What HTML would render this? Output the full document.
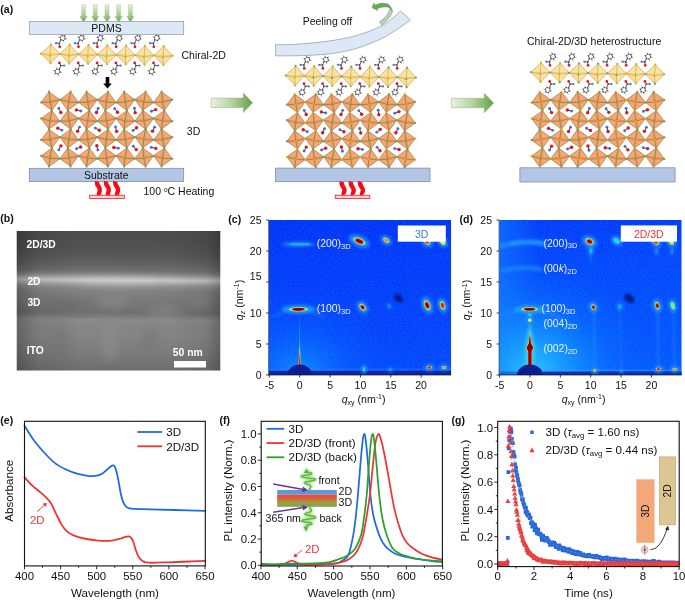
<!DOCTYPE html>
<html lang="en"><head><meta charset="utf-8"><title>Chiral-2D/3D heterostructure figure</title>
<style>
html,body{margin:0;padding:0;background:#fff;}
svg{display:block;font-family:"Liberation Sans",sans-serif;}
</style></head><body>
<svg width="685" height="600" viewBox="0 0 685 600">
<defs>
<linearGradient id="gDown" x1="0" y1="0" x2="0" y2="1">
<stop offset="0" stop-color="#e4efda"/><stop offset="0.55" stop-color="#a9cf8d"/><stop offset="1" stop-color="#6aa84a"/></linearGradient>
<linearGradient id="gRight" x1="0" y1="0" x2="1" y2="0">
<stop offset="0" stop-color="#e9f1e2"/><stop offset="0.5" stop-color="#b4d39d"/><stop offset="1" stop-color="#62a044"/></linearGradient>
<linearGradient id="gCurve" x1="0" y1="1" x2="0" y2="0">
<stop offset="0" stop-color="#d9e6cf"/><stop offset="1" stop-color="#6ba54b"/></linearGradient>
<linearGradient id="semV" x1="0" y1="0" x2="0" y2="1"><stop offset="0.0000" stop-color="#4b4b4b"/><stop offset="0.0651" stop-color="#4e4e4e"/><stop offset="0.1367" stop-color="#525252"/><stop offset="0.1940" stop-color="#585858"/><stop offset="0.2513" stop-color="#636363"/><stop offset="0.2942" stop-color="#707070"/><stop offset="0.3193" stop-color="#888888"/><stop offset="0.3407" stop-color="#acacac"/><stop offset="0.3601" stop-color="#c6c6c6"/><stop offset="0.3801" stop-color="#aaaaaa"/><stop offset="0.4016" stop-color="#909090"/><stop offset="0.4302" stop-color="#828282"/><stop offset="0.4803" stop-color="#7b7b7b"/><stop offset="0.5376" stop-color="#767676"/><stop offset="0.5805" stop-color="#707070"/><stop offset="0.6092" stop-color="#7c7c7c"/><stop offset="0.6306" stop-color="#8a8a8a"/><stop offset="0.6664" stop-color="#878787"/><stop offset="0.7452" stop-color="#848484"/><stop offset="0.8525" stop-color="#7c7c7c"/><stop offset="0.9384" stop-color="#727272"/><stop offset="1.0000" stop-color="#6a6a6a"/></linearGradient><linearGradient id="semH" x1="0" y1="0" x2="1" y2="0">
<stop offset="0" stop-color="#000" stop-opacity="0.26"/><stop offset="0.10" stop-color="#000" stop-opacity="0.08"/>
<stop offset="0.3" stop-color="#000" stop-opacity="0"/><stop offset="0.75" stop-color="#000" stop-opacity="0"/>
<stop offset="0.93" stop-color="#000" stop-opacity="0.08"/><stop offset="1" stop-color="#000" stop-opacity="0.24"/></linearGradient>
<filter id="blur2" x="-20%" y="-20%" width="140%" height="140%"><feGaussianBlur stdDeviation="2.2"/></filter>
<filter id="blur4" x="-30%" y="-30%" width="160%" height="160%"><feGaussianBlur stdDeviation="4"/></filter>
<clipPath id="semClip"><rect x="16.7" y="230.9" width="203.6" height="139.7"/></clipPath>
<filter id="pk" x="-50%" y="-50%" width="200%" height="200%"><feGaussianBlur stdDeviation="0.75"/></filter>
<filter id="pkS" x="-50%" y="-50%" width="200%" height="200%"><feGaussianBlur stdDeviation="1.6"/></filter>
<filter id="pkL" x="-50%" y="-50%" width="200%" height="200%"><feGaussianBlur stdDeviation="5"/></filter>
<filter id="grain" x="0" y="0" width="100%" height="100%"><feTurbulence type="fractalNoise" baseFrequency="0.7" numOctaves="2" seed="3" result="n"/>
<feColorMatrix type="matrix" values="0 0 0 0 0.05  0 0 0 0 0.5  0 0 0 0 1  1.2 0 0 0 -0.42"/></filter>
<linearGradient id="bgC" x1="0" y1="0" x2="0" y2="1"><stop offset="0" stop-color="#0230f8"/><stop offset="0.25" stop-color="#0338fb"/><stop offset="0.8" stop-color="#0442fd"/><stop offset="1" stop-color="#0448fe"/></linearGradient>
<linearGradient id="bgD" x1="0" y1="0" x2="0" y2="1"><stop offset="0" stop-color="#033afa"/><stop offset="0.3" stop-color="#0446fd"/><stop offset="0.8" stop-color="#0552fe"/><stop offset="1" stop-color="#0558ff"/></linearGradient>
<radialGradient id="haloC" cx="0.5" cy="0.5" r="0.5"><stop offset="0" stop-color="#1290ff" stop-opacity="1"/><stop offset="0.25" stop-color="#0a72ff" stop-opacity="0.85"/><stop offset="0.6" stop-color="#065aff" stop-opacity="0.5"/><stop offset="1" stop-color="#0550ff" stop-opacity="0"/></radialGradient>
<radialGradient id="haloD" cx="0.5" cy="0.5" r="0.5"><stop offset="0" stop-color="#36ccfc" stop-opacity="1"/><stop offset="0.16" stop-color="#20b0fe" stop-opacity="1"/><stop offset="0.38" stop-color="#1090ff" stop-opacity="0.9"/><stop offset="0.65" stop-color="#0870ff" stop-opacity="0.55"/><stop offset="1" stop-color="#0558ff" stop-opacity="0"/></radialGradient>
<linearGradient id="edgeD" x1="0" y1="0" x2="1" y2="0"><stop offset="0" stop-color="#1488ff" stop-opacity="0.5"/><stop offset="1" stop-color="#1488ff" stop-opacity="0"/></linearGradient>
<clipPath id="clipC"><rect x="268.7" y="220" width="182.5" height="155"/></clipPath>
<clipPath id="clipD"><rect x="499.2" y="220" width="182.5" height="155"/></clipPath>
<clipPath id="clipF"><rect x="260.8" y="421.4" width="181.6" height="144.6"/></clipPath>
<linearGradient id="dev" x1="0" y1="0" x2="0" y2="1"><stop offset="0" stop-color="#f0463c"/>
<stop offset="0.25" stop-color="#e2553c"/><stop offset="0.6" stop-color="#a8963f"/><stop offset="1" stop-color="#6fb048"/></linearGradient>
<filter id="glow" x="-60%" y="-60%" width="220%" height="220%"><feGaussianBlur stdDeviation="1.3"/></filter>
<clipPath id="clipG"><rect x="497.7" y="421.4" width="181.5" height="145.4"/></clipPath>
</defs>
<rect x="0" y="0" width="685" height="600" fill="#fff"/>
<text x="0.3" y="13.2" font-size="10.5" fill="#111" text-anchor="start" font-weight="bold" font-style="normal" >(a)</text>
<polygon points="81.6,4.7 85.6,4.7 85.6,16.2 87.3,16.2 83.6,22.6 79.9,16.2 81.6,16.2" fill="url(#gDown)" stroke="#9dbb8a" stroke-width="0.35" stroke-linejoin="round" />
<polygon points="93.3,4.7 97.3,4.7 97.3,16.2 99,16.2 95.3,22.6 91.6,16.2 93.3,16.2" fill="url(#gDown)" stroke="#9dbb8a" stroke-width="0.35" stroke-linejoin="round" />
<polygon points="105,4.7 109,4.7 109,16.2 110.7,16.2 107,22.6 103.3,16.2 105,16.2" fill="url(#gDown)" stroke="#9dbb8a" stroke-width="0.35" stroke-linejoin="round" />
<polygon points="116.7,4.7 120.7,4.7 120.7,16.2 122.4,16.2 118.7,22.6 115,16.2 116.7,16.2" fill="url(#gDown)" stroke="#9dbb8a" stroke-width="0.35" stroke-linejoin="round" />
<polygon points="128.4,4.7 132.4,4.7 132.4,16.2 134.1,16.2 130.4,22.6 126.7,16.2 128.4,16.2" fill="url(#gDown)" stroke="#9dbb8a" stroke-width="0.35" stroke-linejoin="round" />
<rect x="29.3" y="21.5" width="154.4" height="13" fill="#dce8f4" stroke="#8796ab" stroke-width="0.7" />
<text x="106.5" y="32.2" font-size="10.5" fill="#111" text-anchor="middle" font-weight="normal" font-style="normal" >PDMS</text>
<polygon points="65.23,38.67 63.39,40.51 60.88,39.84 60.2,37.33 62.04,35.49 64.55,36.16" fill="none" stroke="#5a5a5a" stroke-width="0.6" stroke-linejoin="round" />
<circle cx="65.23" cy="38.67" r="0.8" fill="#505050" />
<circle cx="66.63" cy="39.05" r="0.55" fill="#b0b0b0" />
<circle cx="63.39" cy="40.51" r="0.8" fill="#505050" />
<circle cx="63.76" cy="41.91" r="0.55" fill="#b0b0b0" />
<circle cx="60.88" cy="39.84" r="0.8" fill="#505050" />
<circle cx="59.85" cy="40.86" r="0.55" fill="#b0b0b0" />
<circle cx="60.2" cy="37.33" r="0.8" fill="#505050" />
<circle cx="58.8" cy="36.95" r="0.55" fill="#b0b0b0" />
<circle cx="62.04" cy="35.49" r="0.8" fill="#505050" />
<circle cx="61.67" cy="34.09" r="0.55" fill="#b0b0b0" />
<circle cx="64.55" cy="36.16" r="0.8" fill="#505050" />
<circle cx="65.58" cy="35.14" r="0.55" fill="#b0b0b0" />
<line x1="60.91" y1="40.3" x2="59.31" y2="43.4" stroke="#333" stroke-width="0.75" />
<line x1="59.31" y1="43.4" x2="59.71" y2="46.8" stroke="#333" stroke-width="0.75" />
<line x1="59.31" y1="43.4" x2="56.11" y2="43.2" stroke="#333" stroke-width="0.75" />
<circle cx="59.31" cy="43.4" r="0.85" fill="#444" />
<circle cx="59.71" cy="46.8" r="1.35" fill="#ee0f18" />
<circle cx="56.11" cy="43.2" r="1.15" fill="#4577d6" />
<polygon points="60.03,72.17 58.19,74.01 55.68,73.34 55,70.83 56.84,68.99 59.35,69.66" fill="none" stroke="#5a5a5a" stroke-width="0.6" stroke-linejoin="round" />
<circle cx="60.03" cy="72.17" r="0.8" fill="#505050" />
<circle cx="61.43" cy="72.55" r="0.55" fill="#b0b0b0" />
<circle cx="58.19" cy="74.01" r="0.8" fill="#505050" />
<circle cx="58.56" cy="75.41" r="0.55" fill="#b0b0b0" />
<circle cx="55.68" cy="73.34" r="0.8" fill="#505050" />
<circle cx="54.65" cy="74.36" r="0.55" fill="#b0b0b0" />
<circle cx="55" cy="70.83" r="0.8" fill="#505050" />
<circle cx="53.6" cy="70.45" r="0.55" fill="#b0b0b0" />
<circle cx="56.84" cy="68.99" r="0.8" fill="#505050" />
<circle cx="56.47" cy="67.59" r="0.55" fill="#b0b0b0" />
<circle cx="59.35" cy="69.66" r="0.8" fill="#505050" />
<circle cx="60.38" cy="68.64" r="0.55" fill="#b0b0b0" />
<line x1="59.11" y1="69.2" x2="60.81" y2="65.5" stroke="#333" stroke-width="0.75" />
<line x1="60.81" y1="65.5" x2="59.41" y2="62.9" stroke="#333" stroke-width="0.75" />
<line x1="60.81" y1="65.5" x2="64.11" y2="65.6" stroke="#333" stroke-width="0.75" />
<circle cx="60.81" cy="65.5" r="0.85" fill="#444" />
<circle cx="59.41" cy="62.9" r="1.35" fill="#ee0f18" />
<circle cx="64.11" cy="65.6" r="1.15" fill="#4577d6" />
<polygon points="84.04,38.67 82.2,40.51 79.69,39.84 79.02,37.33 80.86,35.49 83.37,36.16" fill="none" stroke="#5a5a5a" stroke-width="0.6" stroke-linejoin="round" />
<circle cx="84.04" cy="38.67" r="0.8" fill="#505050" />
<circle cx="85.44" cy="39.05" r="0.55" fill="#b0b0b0" />
<circle cx="82.2" cy="40.51" r="0.8" fill="#505050" />
<circle cx="82.58" cy="41.91" r="0.55" fill="#b0b0b0" />
<circle cx="79.69" cy="39.84" r="0.8" fill="#505050" />
<circle cx="78.66" cy="40.86" r="0.55" fill="#b0b0b0" />
<circle cx="79.02" cy="37.33" r="0.8" fill="#505050" />
<circle cx="77.62" cy="36.95" r="0.55" fill="#b0b0b0" />
<circle cx="80.86" cy="35.49" r="0.8" fill="#505050" />
<circle cx="80.48" cy="34.09" r="0.55" fill="#b0b0b0" />
<circle cx="83.37" cy="36.16" r="0.8" fill="#505050" />
<circle cx="84.39" cy="35.14" r="0.55" fill="#b0b0b0" />
<line x1="79.73" y1="40.3" x2="78.13" y2="43.4" stroke="#333" stroke-width="0.75" />
<line x1="78.13" y1="43.4" x2="78.53" y2="46.8" stroke="#333" stroke-width="0.75" />
<line x1="78.13" y1="43.4" x2="74.93" y2="43.2" stroke="#333" stroke-width="0.75" />
<circle cx="78.13" cy="43.4" r="0.85" fill="#444" />
<circle cx="78.53" cy="46.8" r="1.35" fill="#ee0f18" />
<circle cx="74.93" cy="43.2" r="1.15" fill="#4577d6" />
<polygon points="78.84,72.17 77,74.01 74.49,73.34 73.82,70.83 75.66,68.99 78.17,69.66" fill="none" stroke="#5a5a5a" stroke-width="0.6" stroke-linejoin="round" />
<circle cx="78.84" cy="72.17" r="0.8" fill="#505050" />
<circle cx="80.24" cy="72.55" r="0.55" fill="#b0b0b0" />
<circle cx="77" cy="74.01" r="0.8" fill="#505050" />
<circle cx="77.38" cy="75.41" r="0.55" fill="#b0b0b0" />
<circle cx="74.49" cy="73.34" r="0.8" fill="#505050" />
<circle cx="73.46" cy="74.36" r="0.55" fill="#b0b0b0" />
<circle cx="73.82" cy="70.83" r="0.8" fill="#505050" />
<circle cx="72.42" cy="70.45" r="0.55" fill="#b0b0b0" />
<circle cx="75.66" cy="68.99" r="0.8" fill="#505050" />
<circle cx="75.28" cy="67.59" r="0.55" fill="#b0b0b0" />
<circle cx="78.17" cy="69.66" r="0.8" fill="#505050" />
<circle cx="79.19" cy="68.64" r="0.55" fill="#b0b0b0" />
<line x1="77.93" y1="69.2" x2="79.63" y2="65.5" stroke="#333" stroke-width="0.75" />
<line x1="79.63" y1="65.5" x2="78.23" y2="62.9" stroke="#333" stroke-width="0.75" />
<line x1="79.63" y1="65.5" x2="82.93" y2="65.6" stroke="#333" stroke-width="0.75" />
<circle cx="79.63" cy="65.5" r="0.85" fill="#444" />
<circle cx="78.23" cy="62.9" r="1.35" fill="#ee0f18" />
<circle cx="82.93" cy="65.6" r="1.15" fill="#4577d6" />
<polygon points="102.85,38.67 101.02,40.51 98.5,39.84 97.83,37.33 99.67,35.49 102.18,36.16" fill="none" stroke="#5a5a5a" stroke-width="0.6" stroke-linejoin="round" />
<circle cx="102.85" cy="38.67" r="0.8" fill="#505050" />
<circle cx="104.25" cy="39.05" r="0.55" fill="#b0b0b0" />
<circle cx="101.02" cy="40.51" r="0.8" fill="#505050" />
<circle cx="101.39" cy="41.91" r="0.55" fill="#b0b0b0" />
<circle cx="98.5" cy="39.84" r="0.8" fill="#505050" />
<circle cx="97.48" cy="40.86" r="0.55" fill="#b0b0b0" />
<circle cx="97.83" cy="37.33" r="0.8" fill="#505050" />
<circle cx="96.43" cy="36.95" r="0.55" fill="#b0b0b0" />
<circle cx="99.67" cy="35.49" r="0.8" fill="#505050" />
<circle cx="99.29" cy="34.09" r="0.55" fill="#b0b0b0" />
<circle cx="102.18" cy="36.16" r="0.8" fill="#505050" />
<circle cx="103.21" cy="35.14" r="0.55" fill="#b0b0b0" />
<line x1="98.54" y1="40.3" x2="96.94" y2="43.4" stroke="#333" stroke-width="0.75" />
<line x1="96.94" y1="43.4" x2="97.34" y2="46.8" stroke="#333" stroke-width="0.75" />
<line x1="96.94" y1="43.4" x2="93.74" y2="43.2" stroke="#333" stroke-width="0.75" />
<circle cx="96.94" cy="43.4" r="0.85" fill="#444" />
<circle cx="97.34" cy="46.8" r="1.35" fill="#ee0f18" />
<circle cx="93.74" cy="43.2" r="1.15" fill="#4577d6" />
<polygon points="97.65,72.17 95.82,74.01 93.3,73.34 92.63,70.83 94.47,68.99 96.98,69.66" fill="none" stroke="#5a5a5a" stroke-width="0.6" stroke-linejoin="round" />
<circle cx="97.65" cy="72.17" r="0.8" fill="#505050" />
<circle cx="99.05" cy="72.55" r="0.55" fill="#b0b0b0" />
<circle cx="95.82" cy="74.01" r="0.8" fill="#505050" />
<circle cx="96.19" cy="75.41" r="0.55" fill="#b0b0b0" />
<circle cx="93.3" cy="73.34" r="0.8" fill="#505050" />
<circle cx="92.28" cy="74.36" r="0.55" fill="#b0b0b0" />
<circle cx="92.63" cy="70.83" r="0.8" fill="#505050" />
<circle cx="91.23" cy="70.45" r="0.55" fill="#b0b0b0" />
<circle cx="94.47" cy="68.99" r="0.8" fill="#505050" />
<circle cx="94.09" cy="67.59" r="0.55" fill="#b0b0b0" />
<circle cx="96.98" cy="69.66" r="0.8" fill="#505050" />
<circle cx="98.01" cy="68.64" r="0.55" fill="#b0b0b0" />
<line x1="96.74" y1="69.2" x2="98.44" y2="65.5" stroke="#333" stroke-width="0.75" />
<line x1="98.44" y1="65.5" x2="97.04" y2="62.9" stroke="#333" stroke-width="0.75" />
<line x1="98.44" y1="65.5" x2="101.74" y2="65.6" stroke="#333" stroke-width="0.75" />
<circle cx="98.44" cy="65.5" r="0.85" fill="#444" />
<circle cx="97.04" cy="62.9" r="1.35" fill="#ee0f18" />
<circle cx="101.74" cy="65.6" r="1.15" fill="#4577d6" />
<polygon points="121.67,38.67 119.83,40.51 117.32,39.84 116.65,37.33 118.48,35.49 121,36.16" fill="none" stroke="#5a5a5a" stroke-width="0.6" stroke-linejoin="round" />
<circle cx="121.67" cy="38.67" r="0.8" fill="#505050" />
<circle cx="123.07" cy="39.05" r="0.55" fill="#b0b0b0" />
<circle cx="119.83" cy="40.51" r="0.8" fill="#505050" />
<circle cx="120.21" cy="41.91" r="0.55" fill="#b0b0b0" />
<circle cx="117.32" cy="39.84" r="0.8" fill="#505050" />
<circle cx="116.29" cy="40.86" r="0.55" fill="#b0b0b0" />
<circle cx="116.65" cy="37.33" r="0.8" fill="#505050" />
<circle cx="115.25" cy="36.95" r="0.55" fill="#b0b0b0" />
<circle cx="118.48" cy="35.49" r="0.8" fill="#505050" />
<circle cx="118.11" cy="34.09" r="0.55" fill="#b0b0b0" />
<circle cx="121" cy="36.16" r="0.8" fill="#505050" />
<circle cx="122.02" cy="35.14" r="0.55" fill="#b0b0b0" />
<line x1="117.36" y1="40.3" x2="115.76" y2="43.4" stroke="#333" stroke-width="0.75" />
<line x1="115.76" y1="43.4" x2="116.16" y2="46.8" stroke="#333" stroke-width="0.75" />
<line x1="115.76" y1="43.4" x2="112.56" y2="43.2" stroke="#333" stroke-width="0.75" />
<circle cx="115.76" cy="43.4" r="0.85" fill="#444" />
<circle cx="116.16" cy="46.8" r="1.35" fill="#ee0f18" />
<circle cx="112.56" cy="43.2" r="1.15" fill="#4577d6" />
<polygon points="116.47,72.17 114.63,74.01 112.12,73.34 111.45,70.83 113.28,68.99 115.8,69.66" fill="none" stroke="#5a5a5a" stroke-width="0.6" stroke-linejoin="round" />
<circle cx="116.47" cy="72.17" r="0.8" fill="#505050" />
<circle cx="117.87" cy="72.55" r="0.55" fill="#b0b0b0" />
<circle cx="114.63" cy="74.01" r="0.8" fill="#505050" />
<circle cx="115.01" cy="75.41" r="0.55" fill="#b0b0b0" />
<circle cx="112.12" cy="73.34" r="0.8" fill="#505050" />
<circle cx="111.09" cy="74.36" r="0.55" fill="#b0b0b0" />
<circle cx="111.45" cy="70.83" r="0.8" fill="#505050" />
<circle cx="110.05" cy="70.45" r="0.55" fill="#b0b0b0" />
<circle cx="113.28" cy="68.99" r="0.8" fill="#505050" />
<circle cx="112.91" cy="67.59" r="0.55" fill="#b0b0b0" />
<circle cx="115.8" cy="69.66" r="0.8" fill="#505050" />
<circle cx="116.82" cy="68.64" r="0.55" fill="#b0b0b0" />
<line x1="115.56" y1="69.2" x2="117.26" y2="65.5" stroke="#333" stroke-width="0.75" />
<line x1="117.26" y1="65.5" x2="115.86" y2="62.9" stroke="#333" stroke-width="0.75" />
<line x1="117.26" y1="65.5" x2="120.56" y2="65.6" stroke="#333" stroke-width="0.75" />
<circle cx="117.26" cy="65.5" r="0.85" fill="#444" />
<circle cx="115.86" cy="62.9" r="1.35" fill="#ee0f18" />
<circle cx="120.56" cy="65.6" r="1.15" fill="#4577d6" />
<polygon points="140.48,38.67 138.64,40.51 136.13,39.84 135.46,37.33 137.3,35.49 139.81,36.16" fill="none" stroke="#5a5a5a" stroke-width="0.6" stroke-linejoin="round" />
<circle cx="140.48" cy="38.67" r="0.8" fill="#505050" />
<circle cx="141.88" cy="39.05" r="0.55" fill="#b0b0b0" />
<circle cx="138.64" cy="40.51" r="0.8" fill="#505050" />
<circle cx="139.02" cy="41.91" r="0.55" fill="#b0b0b0" />
<circle cx="136.13" cy="39.84" r="0.8" fill="#505050" />
<circle cx="135.11" cy="40.86" r="0.55" fill="#b0b0b0" />
<circle cx="135.46" cy="37.33" r="0.8" fill="#505050" />
<circle cx="134.06" cy="36.95" r="0.55" fill="#b0b0b0" />
<circle cx="137.3" cy="35.49" r="0.8" fill="#505050" />
<circle cx="136.92" cy="34.09" r="0.55" fill="#b0b0b0" />
<circle cx="139.81" cy="36.16" r="0.8" fill="#505050" />
<circle cx="140.84" cy="35.14" r="0.55" fill="#b0b0b0" />
<line x1="136.17" y1="40.3" x2="134.57" y2="43.4" stroke="#333" stroke-width="0.75" />
<line x1="134.57" y1="43.4" x2="134.97" y2="46.8" stroke="#333" stroke-width="0.75" />
<line x1="134.57" y1="43.4" x2="131.37" y2="43.2" stroke="#333" stroke-width="0.75" />
<circle cx="134.57" cy="43.4" r="0.85" fill="#444" />
<circle cx="134.97" cy="46.8" r="1.35" fill="#ee0f18" />
<circle cx="131.37" cy="43.2" r="1.15" fill="#4577d6" />
<polygon points="135.28,72.17 133.44,74.01 130.93,73.34 130.26,70.83 132.1,68.99 134.61,69.66" fill="none" stroke="#5a5a5a" stroke-width="0.6" stroke-linejoin="round" />
<circle cx="135.28" cy="72.17" r="0.8" fill="#505050" />
<circle cx="136.68" cy="72.55" r="0.55" fill="#b0b0b0" />
<circle cx="133.44" cy="74.01" r="0.8" fill="#505050" />
<circle cx="133.82" cy="75.41" r="0.55" fill="#b0b0b0" />
<circle cx="130.93" cy="73.34" r="0.8" fill="#505050" />
<circle cx="129.91" cy="74.36" r="0.55" fill="#b0b0b0" />
<circle cx="130.26" cy="70.83" r="0.8" fill="#505050" />
<circle cx="128.86" cy="70.45" r="0.55" fill="#b0b0b0" />
<circle cx="132.1" cy="68.99" r="0.8" fill="#505050" />
<circle cx="131.72" cy="67.59" r="0.55" fill="#b0b0b0" />
<circle cx="134.61" cy="69.66" r="0.8" fill="#505050" />
<circle cx="135.64" cy="68.64" r="0.55" fill="#b0b0b0" />
<line x1="134.37" y1="69.2" x2="136.07" y2="65.5" stroke="#333" stroke-width="0.75" />
<line x1="136.07" y1="65.5" x2="134.67" y2="62.9" stroke="#333" stroke-width="0.75" />
<line x1="136.07" y1="65.5" x2="139.37" y2="65.6" stroke="#333" stroke-width="0.75" />
<circle cx="136.07" cy="65.5" r="0.85" fill="#444" />
<circle cx="134.67" cy="62.9" r="1.35" fill="#ee0f18" />
<circle cx="139.37" cy="65.6" r="1.15" fill="#4577d6" />
<polygon points="159.3,38.67 157.46,40.51 154.95,39.84 154.27,37.33 156.11,35.49 158.62,36.16" fill="none" stroke="#5a5a5a" stroke-width="0.6" stroke-linejoin="round" />
<circle cx="159.3" cy="38.67" r="0.8" fill="#505050" />
<circle cx="160.7" cy="39.05" r="0.55" fill="#b0b0b0" />
<circle cx="157.46" cy="40.51" r="0.8" fill="#505050" />
<circle cx="157.83" cy="41.91" r="0.55" fill="#b0b0b0" />
<circle cx="154.95" cy="39.84" r="0.8" fill="#505050" />
<circle cx="153.92" cy="40.86" r="0.55" fill="#b0b0b0" />
<circle cx="154.27" cy="37.33" r="0.8" fill="#505050" />
<circle cx="152.87" cy="36.95" r="0.55" fill="#b0b0b0" />
<circle cx="156.11" cy="35.49" r="0.8" fill="#505050" />
<circle cx="155.74" cy="34.09" r="0.55" fill="#b0b0b0" />
<circle cx="158.62" cy="36.16" r="0.8" fill="#505050" />
<circle cx="159.65" cy="35.14" r="0.55" fill="#b0b0b0" />
<line x1="154.99" y1="40.3" x2="153.39" y2="43.4" stroke="#333" stroke-width="0.75" />
<line x1="153.39" y1="43.4" x2="153.79" y2="46.8" stroke="#333" stroke-width="0.75" />
<line x1="153.39" y1="43.4" x2="150.19" y2="43.2" stroke="#333" stroke-width="0.75" />
<circle cx="153.39" cy="43.4" r="0.85" fill="#444" />
<circle cx="153.79" cy="46.8" r="1.35" fill="#ee0f18" />
<circle cx="150.19" cy="43.2" r="1.15" fill="#4577d6" />
<polygon points="154.1,72.17 152.26,74.01 149.75,73.34 149.07,70.83 150.91,68.99 153.42,69.66" fill="none" stroke="#5a5a5a" stroke-width="0.6" stroke-linejoin="round" />
<circle cx="154.1" cy="72.17" r="0.8" fill="#505050" />
<circle cx="155.5" cy="72.55" r="0.55" fill="#b0b0b0" />
<circle cx="152.26" cy="74.01" r="0.8" fill="#505050" />
<circle cx="152.63" cy="75.41" r="0.55" fill="#b0b0b0" />
<circle cx="149.75" cy="73.34" r="0.8" fill="#505050" />
<circle cx="148.72" cy="74.36" r="0.55" fill="#b0b0b0" />
<circle cx="149.07" cy="70.83" r="0.8" fill="#505050" />
<circle cx="147.67" cy="70.45" r="0.55" fill="#b0b0b0" />
<circle cx="150.91" cy="68.99" r="0.8" fill="#505050" />
<circle cx="150.54" cy="67.59" r="0.55" fill="#b0b0b0" />
<circle cx="153.42" cy="69.66" r="0.8" fill="#505050" />
<circle cx="154.45" cy="68.64" r="0.55" fill="#b0b0b0" />
<line x1="153.19" y1="69.2" x2="154.89" y2="65.5" stroke="#333" stroke-width="0.75" />
<line x1="154.89" y1="65.5" x2="153.49" y2="62.9" stroke="#333" stroke-width="0.75" />
<line x1="154.89" y1="65.5" x2="158.19" y2="65.6" stroke="#333" stroke-width="0.75" />
<circle cx="154.89" cy="65.5" r="0.85" fill="#444" />
<circle cx="153.49" cy="62.9" r="1.35" fill="#ee0f18" />
<circle cx="158.19" cy="65.6" r="1.15" fill="#4577d6" />
<g transform="rotate(0.9 41 53.7)">
<g>
<polygon points="50.71,44.3 59.81,53.7 50.61,63.1 41,53.7" fill="#fce39e" stroke="#9a7c3a" stroke-width="0.45" stroke-linejoin="round" />
<polygon points="41,53.7 50.61,63.1 50.11,55.3" fill="#f5d572" stroke="none" stroke-width="0" stroke-linejoin="round" opacity="0.25"/>
<line x1="50.71" y1="44.3" x2="50.11" y2="55.3" stroke="#9a7c3a" stroke-width="0.4" />
<line x1="59.81" y1="53.7" x2="50.11" y2="55.3" stroke="#9a7c3a" stroke-width="0.4" />
<line x1="50.61" y1="63.1" x2="50.11" y2="55.3" stroke="#9a7c3a" stroke-width="0.4" />
<line x1="41" y1="53.7" x2="50.11" y2="55.3" stroke="#9a7c3a" stroke-width="0.4" />
<line x1="41" y1="53.7" x2="59.81" y2="53.7" stroke="#9a7c3a" stroke-width="0.3" opacity="0.6"/>
<polygon points="69.52,44.3 78.63,53.7 69.42,63.1 59.81,53.7" fill="#fce39e" stroke="#9a7c3a" stroke-width="0.45" stroke-linejoin="round" />
<polygon points="59.81,53.7 69.42,63.1 68.92,55.3" fill="#f5d572" stroke="none" stroke-width="0" stroke-linejoin="round" opacity="0.25"/>
<line x1="69.52" y1="44.3" x2="68.92" y2="55.3" stroke="#9a7c3a" stroke-width="0.4" />
<line x1="78.63" y1="53.7" x2="68.92" y2="55.3" stroke="#9a7c3a" stroke-width="0.4" />
<line x1="69.42" y1="63.1" x2="68.92" y2="55.3" stroke="#9a7c3a" stroke-width="0.4" />
<line x1="59.81" y1="53.7" x2="68.92" y2="55.3" stroke="#9a7c3a" stroke-width="0.4" />
<line x1="59.81" y1="53.7" x2="78.63" y2="53.7" stroke="#9a7c3a" stroke-width="0.3" opacity="0.6"/>
<polygon points="88.34,44.3 97.44,53.7 88.24,63.1 78.63,53.7" fill="#fce39e" stroke="#9a7c3a" stroke-width="0.45" stroke-linejoin="round" />
<polygon points="78.63,53.7 88.24,63.1 87.74,55.3" fill="#f5d572" stroke="none" stroke-width="0" stroke-linejoin="round" opacity="0.25"/>
<line x1="88.34" y1="44.3" x2="87.74" y2="55.3" stroke="#9a7c3a" stroke-width="0.4" />
<line x1="97.44" y1="53.7" x2="87.74" y2="55.3" stroke="#9a7c3a" stroke-width="0.4" />
<line x1="88.24" y1="63.1" x2="87.74" y2="55.3" stroke="#9a7c3a" stroke-width="0.4" />
<line x1="78.63" y1="53.7" x2="87.74" y2="55.3" stroke="#9a7c3a" stroke-width="0.4" />
<line x1="78.63" y1="53.7" x2="97.44" y2="53.7" stroke="#9a7c3a" stroke-width="0.3" opacity="0.6"/>
<polygon points="107.15,44.3 116.26,53.7 107.05,63.1 97.44,53.7" fill="#fce39e" stroke="#9a7c3a" stroke-width="0.45" stroke-linejoin="round" />
<polygon points="97.44,53.7 107.05,63.1 106.55,55.3" fill="#f5d572" stroke="none" stroke-width="0" stroke-linejoin="round" opacity="0.25"/>
<line x1="107.15" y1="44.3" x2="106.55" y2="55.3" stroke="#9a7c3a" stroke-width="0.4" />
<line x1="116.26" y1="53.7" x2="106.55" y2="55.3" stroke="#9a7c3a" stroke-width="0.4" />
<line x1="107.05" y1="63.1" x2="106.55" y2="55.3" stroke="#9a7c3a" stroke-width="0.4" />
<line x1="97.44" y1="53.7" x2="106.55" y2="55.3" stroke="#9a7c3a" stroke-width="0.4" />
<line x1="97.44" y1="53.7" x2="116.26" y2="53.7" stroke="#9a7c3a" stroke-width="0.3" opacity="0.6"/>
<polygon points="125.96,44.3 135.07,53.7 125.86,63.1 116.26,53.7" fill="#fce39e" stroke="#9a7c3a" stroke-width="0.45" stroke-linejoin="round" />
<polygon points="116.26,53.7 125.86,63.1 125.36,55.3" fill="#f5d572" stroke="none" stroke-width="0" stroke-linejoin="round" opacity="0.25"/>
<line x1="125.96" y1="44.3" x2="125.36" y2="55.3" stroke="#9a7c3a" stroke-width="0.4" />
<line x1="135.07" y1="53.7" x2="125.36" y2="55.3" stroke="#9a7c3a" stroke-width="0.4" />
<line x1="125.86" y1="63.1" x2="125.36" y2="55.3" stroke="#9a7c3a" stroke-width="0.4" />
<line x1="116.26" y1="53.7" x2="125.36" y2="55.3" stroke="#9a7c3a" stroke-width="0.4" />
<line x1="116.26" y1="53.7" x2="135.07" y2="53.7" stroke="#9a7c3a" stroke-width="0.3" opacity="0.6"/>
<polygon points="144.78,44.3 153.89,53.7 144.68,63.1 135.07,53.7" fill="#fce39e" stroke="#9a7c3a" stroke-width="0.45" stroke-linejoin="round" />
<polygon points="135.07,53.7 144.68,63.1 144.18,55.3" fill="#f5d572" stroke="none" stroke-width="0" stroke-linejoin="round" opacity="0.25"/>
<line x1="144.78" y1="44.3" x2="144.18" y2="55.3" stroke="#9a7c3a" stroke-width="0.4" />
<line x1="153.89" y1="53.7" x2="144.18" y2="55.3" stroke="#9a7c3a" stroke-width="0.4" />
<line x1="144.68" y1="63.1" x2="144.18" y2="55.3" stroke="#9a7c3a" stroke-width="0.4" />
<line x1="135.07" y1="53.7" x2="144.18" y2="55.3" stroke="#9a7c3a" stroke-width="0.4" />
<line x1="135.07" y1="53.7" x2="153.89" y2="53.7" stroke="#9a7c3a" stroke-width="0.3" opacity="0.6"/>
<polygon points="163.59,44.3 172.7,53.7 163.49,63.1 153.89,53.7" fill="#fce39e" stroke="#9a7c3a" stroke-width="0.45" stroke-linejoin="round" />
<polygon points="153.89,53.7 163.49,63.1 162.99,55.3" fill="#f5d572" stroke="none" stroke-width="0" stroke-linejoin="round" opacity="0.25"/>
<line x1="163.59" y1="44.3" x2="162.99" y2="55.3" stroke="#9a7c3a" stroke-width="0.4" />
<line x1="172.7" y1="53.7" x2="162.99" y2="55.3" stroke="#9a7c3a" stroke-width="0.4" />
<line x1="163.49" y1="63.1" x2="162.99" y2="55.3" stroke="#9a7c3a" stroke-width="0.4" />
<line x1="153.89" y1="53.7" x2="162.99" y2="55.3" stroke="#9a7c3a" stroke-width="0.4" />
<line x1="153.89" y1="53.7" x2="172.7" y2="53.7" stroke="#9a7c3a" stroke-width="0.3" opacity="0.6"/>
<circle cx="50.71" cy="44.3" r="1.15" fill="#e6b000" />
<circle cx="50.61" cy="63.1" r="1.15" fill="#e6b000" />
<circle cx="50.11" cy="55.3" r="1.1" fill="#e6b000" />
<circle cx="41" cy="53.7" r="1.1" fill="#e6b000" />
<circle cx="69.52" cy="44.3" r="1.15" fill="#e6b000" />
<circle cx="69.42" cy="63.1" r="1.15" fill="#e6b000" />
<circle cx="68.92" cy="55.3" r="1.1" fill="#e6b000" />
<circle cx="59.81" cy="53.7" r="1.1" fill="#e6b000" />
<circle cx="88.34" cy="44.3" r="1.15" fill="#e6b000" />
<circle cx="88.24" cy="63.1" r="1.15" fill="#e6b000" />
<circle cx="87.74" cy="55.3" r="1.1" fill="#e6b000" />
<circle cx="78.63" cy="53.7" r="1.1" fill="#e6b000" />
<circle cx="107.15" cy="44.3" r="1.15" fill="#e6b000" />
<circle cx="107.05" cy="63.1" r="1.15" fill="#e6b000" />
<circle cx="106.55" cy="55.3" r="1.1" fill="#e6b000" />
<circle cx="97.44" cy="53.7" r="1.1" fill="#e6b000" />
<circle cx="125.96" cy="44.3" r="1.15" fill="#e6b000" />
<circle cx="125.86" cy="63.1" r="1.15" fill="#e6b000" />
<circle cx="125.36" cy="55.3" r="1.1" fill="#e6b000" />
<circle cx="116.26" cy="53.7" r="1.1" fill="#e6b000" />
<circle cx="144.78" cy="44.3" r="1.15" fill="#e6b000" />
<circle cx="144.68" cy="63.1" r="1.15" fill="#e6b000" />
<circle cx="144.18" cy="55.3" r="1.1" fill="#e6b000" />
<circle cx="135.07" cy="53.7" r="1.1" fill="#e6b000" />
<circle cx="163.59" cy="44.3" r="1.15" fill="#e6b000" />
<circle cx="163.49" cy="63.1" r="1.15" fill="#e6b000" />
<circle cx="162.99" cy="55.3" r="1.1" fill="#e6b000" />
<circle cx="153.89" cy="53.7" r="1.1" fill="#e6b000" />
<circle cx="172.7" cy="53.7" r="1.1" fill="#e6b000" />
</g>
</g>
<text x="181.5" y="59.2" font-size="10.5" fill="#111" text-anchor="start" font-weight="normal" font-style="normal" >Chiral-2D</text>
<polygon points="105.7,77 109.3,77 109.3,83.5 111.8,83.5 107.5,88.6 103.2,83.5 105.7,83.5" fill="#000" stroke="none" stroke-width="0.5" stroke-linejoin="round" />
<g>
<polygon points="49.07,91.7 59.84,99.66 51.87,110.42 41.1,102.46" fill="#f3a970" stroke="#6b4a2c" stroke-width="0.45" stroke-linejoin="round" />
<line x1="49.07" y1="91.7" x2="50.07" y2="102.36" stroke="#6b4a2c" stroke-width="0.45" />
<line x1="49.07" y1="91.7" x2="51.17" y2="100.46" stroke="#6b4a2c" stroke-width="0.3" opacity="0.5"/>
<line x1="59.84" y1="99.66" x2="50.07" y2="102.36" stroke="#6b4a2c" stroke-width="0.45" />
<line x1="59.84" y1="99.66" x2="51.17" y2="100.46" stroke="#6b4a2c" stroke-width="0.3" opacity="0.5"/>
<line x1="51.87" y1="110.42" x2="50.07" y2="102.36" stroke="#6b4a2c" stroke-width="0.45" />
<line x1="51.87" y1="110.42" x2="51.17" y2="100.46" stroke="#6b4a2c" stroke-width="0.3" opacity="0.5"/>
<line x1="41.1" y1="102.46" x2="50.07" y2="102.36" stroke="#6b4a2c" stroke-width="0.45" />
<line x1="41.1" y1="102.46" x2="51.17" y2="100.46" stroke="#6b4a2c" stroke-width="0.3" opacity="0.5"/>
<polygon points="70.61,91.7 78.59,102.46 67.81,110.42 59.84,99.66" fill="#f3a970" stroke="#6b4a2c" stroke-width="0.45" stroke-linejoin="round" />
<line x1="70.61" y1="91.7" x2="68.81" y2="102.36" stroke="#6b4a2c" stroke-width="0.45" />
<line x1="70.61" y1="91.7" x2="68.51" y2="100.46" stroke="#6b4a2c" stroke-width="0.3" opacity="0.5"/>
<line x1="78.59" y1="102.46" x2="68.81" y2="102.36" stroke="#6b4a2c" stroke-width="0.45" />
<line x1="78.59" y1="102.46" x2="68.51" y2="100.46" stroke="#6b4a2c" stroke-width="0.3" opacity="0.5"/>
<line x1="67.81" y1="110.42" x2="68.81" y2="102.36" stroke="#6b4a2c" stroke-width="0.45" />
<line x1="67.81" y1="110.42" x2="68.51" y2="100.46" stroke="#6b4a2c" stroke-width="0.3" opacity="0.5"/>
<line x1="59.84" y1="99.66" x2="68.81" y2="102.36" stroke="#6b4a2c" stroke-width="0.45" />
<line x1="59.84" y1="99.66" x2="68.51" y2="100.46" stroke="#6b4a2c" stroke-width="0.3" opacity="0.5"/>
<polygon points="86.56,91.7 97.33,99.66 89.36,110.42 78.59,102.46" fill="#f3a970" stroke="#6b4a2c" stroke-width="0.45" stroke-linejoin="round" />
<line x1="86.56" y1="91.7" x2="87.56" y2="102.36" stroke="#6b4a2c" stroke-width="0.45" />
<line x1="86.56" y1="91.7" x2="88.66" y2="100.46" stroke="#6b4a2c" stroke-width="0.3" opacity="0.5"/>
<line x1="97.33" y1="99.66" x2="87.56" y2="102.36" stroke="#6b4a2c" stroke-width="0.45" />
<line x1="97.33" y1="99.66" x2="88.66" y2="100.46" stroke="#6b4a2c" stroke-width="0.3" opacity="0.5"/>
<line x1="89.36" y1="110.42" x2="87.56" y2="102.36" stroke="#6b4a2c" stroke-width="0.45" />
<line x1="89.36" y1="110.42" x2="88.66" y2="100.46" stroke="#6b4a2c" stroke-width="0.3" opacity="0.5"/>
<line x1="78.59" y1="102.46" x2="87.56" y2="102.36" stroke="#6b4a2c" stroke-width="0.45" />
<line x1="78.59" y1="102.46" x2="88.66" y2="100.46" stroke="#6b4a2c" stroke-width="0.3" opacity="0.5"/>
<polygon points="108.1,91.7 116.07,102.46 105.3,110.42 97.33,99.66" fill="#f3a970" stroke="#6b4a2c" stroke-width="0.45" stroke-linejoin="round" />
<line x1="108.1" y1="91.7" x2="106.3" y2="102.36" stroke="#6b4a2c" stroke-width="0.45" />
<line x1="108.1" y1="91.7" x2="106" y2="100.46" stroke="#6b4a2c" stroke-width="0.3" opacity="0.5"/>
<line x1="116.07" y1="102.46" x2="106.3" y2="102.36" stroke="#6b4a2c" stroke-width="0.45" />
<line x1="116.07" y1="102.46" x2="106" y2="100.46" stroke="#6b4a2c" stroke-width="0.3" opacity="0.5"/>
<line x1="105.3" y1="110.42" x2="106.3" y2="102.36" stroke="#6b4a2c" stroke-width="0.45" />
<line x1="105.3" y1="110.42" x2="106" y2="100.46" stroke="#6b4a2c" stroke-width="0.3" opacity="0.5"/>
<line x1="97.33" y1="99.66" x2="106.3" y2="102.36" stroke="#6b4a2c" stroke-width="0.45" />
<line x1="97.33" y1="99.66" x2="106" y2="100.46" stroke="#6b4a2c" stroke-width="0.3" opacity="0.5"/>
<polygon points="124.04,91.7 134.81,99.66 126.84,110.42 116.07,102.46" fill="#f3a970" stroke="#6b4a2c" stroke-width="0.45" stroke-linejoin="round" />
<line x1="124.04" y1="91.7" x2="125.04" y2="102.36" stroke="#6b4a2c" stroke-width="0.45" />
<line x1="124.04" y1="91.7" x2="126.14" y2="100.46" stroke="#6b4a2c" stroke-width="0.3" opacity="0.5"/>
<line x1="134.81" y1="99.66" x2="125.04" y2="102.36" stroke="#6b4a2c" stroke-width="0.45" />
<line x1="134.81" y1="99.66" x2="126.14" y2="100.46" stroke="#6b4a2c" stroke-width="0.3" opacity="0.5"/>
<line x1="126.84" y1="110.42" x2="125.04" y2="102.36" stroke="#6b4a2c" stroke-width="0.45" />
<line x1="126.84" y1="110.42" x2="126.14" y2="100.46" stroke="#6b4a2c" stroke-width="0.3" opacity="0.5"/>
<line x1="116.07" y1="102.46" x2="125.04" y2="102.36" stroke="#6b4a2c" stroke-width="0.45" />
<line x1="116.07" y1="102.46" x2="126.14" y2="100.46" stroke="#6b4a2c" stroke-width="0.3" opacity="0.5"/>
<polygon points="145.59,91.7 153.56,102.46 142.79,110.42 134.81,99.66" fill="#f3a970" stroke="#6b4a2c" stroke-width="0.45" stroke-linejoin="round" />
<line x1="145.59" y1="91.7" x2="143.79" y2="102.36" stroke="#6b4a2c" stroke-width="0.45" />
<line x1="145.59" y1="91.7" x2="143.49" y2="100.46" stroke="#6b4a2c" stroke-width="0.3" opacity="0.5"/>
<line x1="153.56" y1="102.46" x2="143.79" y2="102.36" stroke="#6b4a2c" stroke-width="0.45" />
<line x1="153.56" y1="102.46" x2="143.49" y2="100.46" stroke="#6b4a2c" stroke-width="0.3" opacity="0.5"/>
<line x1="142.79" y1="110.42" x2="143.79" y2="102.36" stroke="#6b4a2c" stroke-width="0.45" />
<line x1="142.79" y1="110.42" x2="143.49" y2="100.46" stroke="#6b4a2c" stroke-width="0.3" opacity="0.5"/>
<line x1="134.81" y1="99.66" x2="143.79" y2="102.36" stroke="#6b4a2c" stroke-width="0.45" />
<line x1="134.81" y1="99.66" x2="143.49" y2="100.46" stroke="#6b4a2c" stroke-width="0.3" opacity="0.5"/>
<polygon points="161.53,91.7 172.3,99.66 164.33,110.42 153.56,102.46" fill="#f3a970" stroke="#6b4a2c" stroke-width="0.45" stroke-linejoin="round" />
<line x1="161.53" y1="91.7" x2="162.53" y2="102.36" stroke="#6b4a2c" stroke-width="0.45" />
<line x1="161.53" y1="91.7" x2="163.63" y2="100.46" stroke="#6b4a2c" stroke-width="0.3" opacity="0.5"/>
<line x1="172.3" y1="99.66" x2="162.53" y2="102.36" stroke="#6b4a2c" stroke-width="0.45" />
<line x1="172.3" y1="99.66" x2="163.63" y2="100.46" stroke="#6b4a2c" stroke-width="0.3" opacity="0.5"/>
<line x1="164.33" y1="110.42" x2="162.53" y2="102.36" stroke="#6b4a2c" stroke-width="0.45" />
<line x1="164.33" y1="110.42" x2="163.63" y2="100.46" stroke="#6b4a2c" stroke-width="0.3" opacity="0.5"/>
<line x1="153.56" y1="102.46" x2="162.53" y2="102.36" stroke="#6b4a2c" stroke-width="0.45" />
<line x1="153.56" y1="102.46" x2="163.63" y2="100.46" stroke="#6b4a2c" stroke-width="0.3" opacity="0.5"/>
<polygon points="51.87,110.42 59.84,121.19 49.07,129.15 41.1,118.39" fill="#f3a970" stroke="#6b4a2c" stroke-width="0.45" stroke-linejoin="round" />
<line x1="51.87" y1="110.42" x2="50.07" y2="121.09" stroke="#6b4a2c" stroke-width="0.45" />
<line x1="51.87" y1="110.42" x2="49.77" y2="119.19" stroke="#6b4a2c" stroke-width="0.3" opacity="0.5"/>
<line x1="59.84" y1="121.19" x2="50.07" y2="121.09" stroke="#6b4a2c" stroke-width="0.45" />
<line x1="59.84" y1="121.19" x2="49.77" y2="119.19" stroke="#6b4a2c" stroke-width="0.3" opacity="0.5"/>
<line x1="49.07" y1="129.15" x2="50.07" y2="121.09" stroke="#6b4a2c" stroke-width="0.45" />
<line x1="49.07" y1="129.15" x2="49.77" y2="119.19" stroke="#6b4a2c" stroke-width="0.3" opacity="0.5"/>
<line x1="41.1" y1="118.39" x2="50.07" y2="121.09" stroke="#6b4a2c" stroke-width="0.45" />
<line x1="41.1" y1="118.39" x2="49.77" y2="119.19" stroke="#6b4a2c" stroke-width="0.3" opacity="0.5"/>
<polygon points="67.81,110.42 78.59,118.39 70.61,129.15 59.84,121.19" fill="#f3a970" stroke="#6b4a2c" stroke-width="0.45" stroke-linejoin="round" />
<line x1="67.81" y1="110.42" x2="68.81" y2="121.09" stroke="#6b4a2c" stroke-width="0.45" />
<line x1="67.81" y1="110.42" x2="69.91" y2="119.19" stroke="#6b4a2c" stroke-width="0.3" opacity="0.5"/>
<line x1="78.59" y1="118.39" x2="68.81" y2="121.09" stroke="#6b4a2c" stroke-width="0.45" />
<line x1="78.59" y1="118.39" x2="69.91" y2="119.19" stroke="#6b4a2c" stroke-width="0.3" opacity="0.5"/>
<line x1="70.61" y1="129.15" x2="68.81" y2="121.09" stroke="#6b4a2c" stroke-width="0.45" />
<line x1="70.61" y1="129.15" x2="69.91" y2="119.19" stroke="#6b4a2c" stroke-width="0.3" opacity="0.5"/>
<line x1="59.84" y1="121.19" x2="68.81" y2="121.09" stroke="#6b4a2c" stroke-width="0.45" />
<line x1="59.84" y1="121.19" x2="69.91" y2="119.19" stroke="#6b4a2c" stroke-width="0.3" opacity="0.5"/>
<polygon points="89.36,110.42 97.33,121.19 86.56,129.15 78.59,118.39" fill="#f3a970" stroke="#6b4a2c" stroke-width="0.45" stroke-linejoin="round" />
<line x1="89.36" y1="110.42" x2="87.56" y2="121.09" stroke="#6b4a2c" stroke-width="0.45" />
<line x1="89.36" y1="110.42" x2="87.26" y2="119.19" stroke="#6b4a2c" stroke-width="0.3" opacity="0.5"/>
<line x1="97.33" y1="121.19" x2="87.56" y2="121.09" stroke="#6b4a2c" stroke-width="0.45" />
<line x1="97.33" y1="121.19" x2="87.26" y2="119.19" stroke="#6b4a2c" stroke-width="0.3" opacity="0.5"/>
<line x1="86.56" y1="129.15" x2="87.56" y2="121.09" stroke="#6b4a2c" stroke-width="0.45" />
<line x1="86.56" y1="129.15" x2="87.26" y2="119.19" stroke="#6b4a2c" stroke-width="0.3" opacity="0.5"/>
<line x1="78.59" y1="118.39" x2="87.56" y2="121.09" stroke="#6b4a2c" stroke-width="0.45" />
<line x1="78.59" y1="118.39" x2="87.26" y2="119.19" stroke="#6b4a2c" stroke-width="0.3" opacity="0.5"/>
<polygon points="105.3,110.42 116.07,118.39 108.1,129.15 97.33,121.19" fill="#f3a970" stroke="#6b4a2c" stroke-width="0.45" stroke-linejoin="round" />
<line x1="105.3" y1="110.42" x2="106.3" y2="121.09" stroke="#6b4a2c" stroke-width="0.45" />
<line x1="105.3" y1="110.42" x2="107.4" y2="119.19" stroke="#6b4a2c" stroke-width="0.3" opacity="0.5"/>
<line x1="116.07" y1="118.39" x2="106.3" y2="121.09" stroke="#6b4a2c" stroke-width="0.45" />
<line x1="116.07" y1="118.39" x2="107.4" y2="119.19" stroke="#6b4a2c" stroke-width="0.3" opacity="0.5"/>
<line x1="108.1" y1="129.15" x2="106.3" y2="121.09" stroke="#6b4a2c" stroke-width="0.45" />
<line x1="108.1" y1="129.15" x2="107.4" y2="119.19" stroke="#6b4a2c" stroke-width="0.3" opacity="0.5"/>
<line x1="97.33" y1="121.19" x2="106.3" y2="121.09" stroke="#6b4a2c" stroke-width="0.45" />
<line x1="97.33" y1="121.19" x2="107.4" y2="119.19" stroke="#6b4a2c" stroke-width="0.3" opacity="0.5"/>
<polygon points="126.84,110.42 134.81,121.19 124.04,129.15 116.07,118.39" fill="#f3a970" stroke="#6b4a2c" stroke-width="0.45" stroke-linejoin="round" />
<line x1="126.84" y1="110.42" x2="125.04" y2="121.09" stroke="#6b4a2c" stroke-width="0.45" />
<line x1="126.84" y1="110.42" x2="124.74" y2="119.19" stroke="#6b4a2c" stroke-width="0.3" opacity="0.5"/>
<line x1="134.81" y1="121.19" x2="125.04" y2="121.09" stroke="#6b4a2c" stroke-width="0.45" />
<line x1="134.81" y1="121.19" x2="124.74" y2="119.19" stroke="#6b4a2c" stroke-width="0.3" opacity="0.5"/>
<line x1="124.04" y1="129.15" x2="125.04" y2="121.09" stroke="#6b4a2c" stroke-width="0.45" />
<line x1="124.04" y1="129.15" x2="124.74" y2="119.19" stroke="#6b4a2c" stroke-width="0.3" opacity="0.5"/>
<line x1="116.07" y1="118.39" x2="125.04" y2="121.09" stroke="#6b4a2c" stroke-width="0.45" />
<line x1="116.07" y1="118.39" x2="124.74" y2="119.19" stroke="#6b4a2c" stroke-width="0.3" opacity="0.5"/>
<polygon points="142.79,110.42 153.56,118.39 145.59,129.15 134.81,121.19" fill="#f3a970" stroke="#6b4a2c" stroke-width="0.45" stroke-linejoin="round" />
<line x1="142.79" y1="110.42" x2="143.79" y2="121.09" stroke="#6b4a2c" stroke-width="0.45" />
<line x1="142.79" y1="110.42" x2="144.89" y2="119.19" stroke="#6b4a2c" stroke-width="0.3" opacity="0.5"/>
<line x1="153.56" y1="118.39" x2="143.79" y2="121.09" stroke="#6b4a2c" stroke-width="0.45" />
<line x1="153.56" y1="118.39" x2="144.89" y2="119.19" stroke="#6b4a2c" stroke-width="0.3" opacity="0.5"/>
<line x1="145.59" y1="129.15" x2="143.79" y2="121.09" stroke="#6b4a2c" stroke-width="0.45" />
<line x1="145.59" y1="129.15" x2="144.89" y2="119.19" stroke="#6b4a2c" stroke-width="0.3" opacity="0.5"/>
<line x1="134.81" y1="121.19" x2="143.79" y2="121.09" stroke="#6b4a2c" stroke-width="0.45" />
<line x1="134.81" y1="121.19" x2="144.89" y2="119.19" stroke="#6b4a2c" stroke-width="0.3" opacity="0.5"/>
<polygon points="164.33,110.42 172.3,121.19 161.53,129.15 153.56,118.39" fill="#f3a970" stroke="#6b4a2c" stroke-width="0.45" stroke-linejoin="round" />
<line x1="164.33" y1="110.42" x2="162.53" y2="121.09" stroke="#6b4a2c" stroke-width="0.45" />
<line x1="164.33" y1="110.42" x2="162.23" y2="119.19" stroke="#6b4a2c" stroke-width="0.3" opacity="0.5"/>
<line x1="172.3" y1="121.19" x2="162.53" y2="121.09" stroke="#6b4a2c" stroke-width="0.45" />
<line x1="172.3" y1="121.19" x2="162.23" y2="119.19" stroke="#6b4a2c" stroke-width="0.3" opacity="0.5"/>
<line x1="161.53" y1="129.15" x2="162.53" y2="121.09" stroke="#6b4a2c" stroke-width="0.45" />
<line x1="161.53" y1="129.15" x2="162.23" y2="119.19" stroke="#6b4a2c" stroke-width="0.3" opacity="0.5"/>
<line x1="153.56" y1="118.39" x2="162.53" y2="121.09" stroke="#6b4a2c" stroke-width="0.45" />
<line x1="153.56" y1="118.39" x2="162.23" y2="119.19" stroke="#6b4a2c" stroke-width="0.3" opacity="0.5"/>
<polygon points="49.07,129.15 59.84,137.11 51.87,147.88 41.1,139.91" fill="#f3a970" stroke="#6b4a2c" stroke-width="0.45" stroke-linejoin="round" />
<line x1="49.07" y1="129.15" x2="50.07" y2="139.81" stroke="#6b4a2c" stroke-width="0.45" />
<line x1="49.07" y1="129.15" x2="51.17" y2="137.91" stroke="#6b4a2c" stroke-width="0.3" opacity="0.5"/>
<line x1="59.84" y1="137.11" x2="50.07" y2="139.81" stroke="#6b4a2c" stroke-width="0.45" />
<line x1="59.84" y1="137.11" x2="51.17" y2="137.91" stroke="#6b4a2c" stroke-width="0.3" opacity="0.5"/>
<line x1="51.87" y1="147.88" x2="50.07" y2="139.81" stroke="#6b4a2c" stroke-width="0.45" />
<line x1="51.87" y1="147.88" x2="51.17" y2="137.91" stroke="#6b4a2c" stroke-width="0.3" opacity="0.5"/>
<line x1="41.1" y1="139.91" x2="50.07" y2="139.81" stroke="#6b4a2c" stroke-width="0.45" />
<line x1="41.1" y1="139.91" x2="51.17" y2="137.91" stroke="#6b4a2c" stroke-width="0.3" opacity="0.5"/>
<polygon points="70.61,129.15 78.59,139.91 67.81,147.88 59.84,137.11" fill="#f3a970" stroke="#6b4a2c" stroke-width="0.45" stroke-linejoin="round" />
<line x1="70.61" y1="129.15" x2="68.81" y2="139.81" stroke="#6b4a2c" stroke-width="0.45" />
<line x1="70.61" y1="129.15" x2="68.51" y2="137.91" stroke="#6b4a2c" stroke-width="0.3" opacity="0.5"/>
<line x1="78.59" y1="139.91" x2="68.81" y2="139.81" stroke="#6b4a2c" stroke-width="0.45" />
<line x1="78.59" y1="139.91" x2="68.51" y2="137.91" stroke="#6b4a2c" stroke-width="0.3" opacity="0.5"/>
<line x1="67.81" y1="147.88" x2="68.81" y2="139.81" stroke="#6b4a2c" stroke-width="0.45" />
<line x1="67.81" y1="147.88" x2="68.51" y2="137.91" stroke="#6b4a2c" stroke-width="0.3" opacity="0.5"/>
<line x1="59.84" y1="137.11" x2="68.81" y2="139.81" stroke="#6b4a2c" stroke-width="0.45" />
<line x1="59.84" y1="137.11" x2="68.51" y2="137.91" stroke="#6b4a2c" stroke-width="0.3" opacity="0.5"/>
<polygon points="86.56,129.15 97.33,137.11 89.36,147.88 78.59,139.91" fill="#f3a970" stroke="#6b4a2c" stroke-width="0.45" stroke-linejoin="round" />
<line x1="86.56" y1="129.15" x2="87.56" y2="139.81" stroke="#6b4a2c" stroke-width="0.45" />
<line x1="86.56" y1="129.15" x2="88.66" y2="137.91" stroke="#6b4a2c" stroke-width="0.3" opacity="0.5"/>
<line x1="97.33" y1="137.11" x2="87.56" y2="139.81" stroke="#6b4a2c" stroke-width="0.45" />
<line x1="97.33" y1="137.11" x2="88.66" y2="137.91" stroke="#6b4a2c" stroke-width="0.3" opacity="0.5"/>
<line x1="89.36" y1="147.88" x2="87.56" y2="139.81" stroke="#6b4a2c" stroke-width="0.45" />
<line x1="89.36" y1="147.88" x2="88.66" y2="137.91" stroke="#6b4a2c" stroke-width="0.3" opacity="0.5"/>
<line x1="78.59" y1="139.91" x2="87.56" y2="139.81" stroke="#6b4a2c" stroke-width="0.45" />
<line x1="78.59" y1="139.91" x2="88.66" y2="137.91" stroke="#6b4a2c" stroke-width="0.3" opacity="0.5"/>
<polygon points="108.1,129.15 116.07,139.91 105.3,147.88 97.33,137.11" fill="#f3a970" stroke="#6b4a2c" stroke-width="0.45" stroke-linejoin="round" />
<line x1="108.1" y1="129.15" x2="106.3" y2="139.81" stroke="#6b4a2c" stroke-width="0.45" />
<line x1="108.1" y1="129.15" x2="106" y2="137.91" stroke="#6b4a2c" stroke-width="0.3" opacity="0.5"/>
<line x1="116.07" y1="139.91" x2="106.3" y2="139.81" stroke="#6b4a2c" stroke-width="0.45" />
<line x1="116.07" y1="139.91" x2="106" y2="137.91" stroke="#6b4a2c" stroke-width="0.3" opacity="0.5"/>
<line x1="105.3" y1="147.88" x2="106.3" y2="139.81" stroke="#6b4a2c" stroke-width="0.45" />
<line x1="105.3" y1="147.88" x2="106" y2="137.91" stroke="#6b4a2c" stroke-width="0.3" opacity="0.5"/>
<line x1="97.33" y1="137.11" x2="106.3" y2="139.81" stroke="#6b4a2c" stroke-width="0.45" />
<line x1="97.33" y1="137.11" x2="106" y2="137.91" stroke="#6b4a2c" stroke-width="0.3" opacity="0.5"/>
<polygon points="124.04,129.15 134.81,137.11 126.84,147.88 116.07,139.91" fill="#f3a970" stroke="#6b4a2c" stroke-width="0.45" stroke-linejoin="round" />
<line x1="124.04" y1="129.15" x2="125.04" y2="139.81" stroke="#6b4a2c" stroke-width="0.45" />
<line x1="124.04" y1="129.15" x2="126.14" y2="137.91" stroke="#6b4a2c" stroke-width="0.3" opacity="0.5"/>
<line x1="134.81" y1="137.11" x2="125.04" y2="139.81" stroke="#6b4a2c" stroke-width="0.45" />
<line x1="134.81" y1="137.11" x2="126.14" y2="137.91" stroke="#6b4a2c" stroke-width="0.3" opacity="0.5"/>
<line x1="126.84" y1="147.88" x2="125.04" y2="139.81" stroke="#6b4a2c" stroke-width="0.45" />
<line x1="126.84" y1="147.88" x2="126.14" y2="137.91" stroke="#6b4a2c" stroke-width="0.3" opacity="0.5"/>
<line x1="116.07" y1="139.91" x2="125.04" y2="139.81" stroke="#6b4a2c" stroke-width="0.45" />
<line x1="116.07" y1="139.91" x2="126.14" y2="137.91" stroke="#6b4a2c" stroke-width="0.3" opacity="0.5"/>
<polygon points="145.59,129.15 153.56,139.91 142.79,147.88 134.81,137.11" fill="#f3a970" stroke="#6b4a2c" stroke-width="0.45" stroke-linejoin="round" />
<line x1="145.59" y1="129.15" x2="143.79" y2="139.81" stroke="#6b4a2c" stroke-width="0.45" />
<line x1="145.59" y1="129.15" x2="143.49" y2="137.91" stroke="#6b4a2c" stroke-width="0.3" opacity="0.5"/>
<line x1="153.56" y1="139.91" x2="143.79" y2="139.81" stroke="#6b4a2c" stroke-width="0.45" />
<line x1="153.56" y1="139.91" x2="143.49" y2="137.91" stroke="#6b4a2c" stroke-width="0.3" opacity="0.5"/>
<line x1="142.79" y1="147.88" x2="143.79" y2="139.81" stroke="#6b4a2c" stroke-width="0.45" />
<line x1="142.79" y1="147.88" x2="143.49" y2="137.91" stroke="#6b4a2c" stroke-width="0.3" opacity="0.5"/>
<line x1="134.81" y1="137.11" x2="143.79" y2="139.81" stroke="#6b4a2c" stroke-width="0.45" />
<line x1="134.81" y1="137.11" x2="143.49" y2="137.91" stroke="#6b4a2c" stroke-width="0.3" opacity="0.5"/>
<polygon points="161.53,129.15 172.3,137.11 164.33,147.88 153.56,139.91" fill="#f3a970" stroke="#6b4a2c" stroke-width="0.45" stroke-linejoin="round" />
<line x1="161.53" y1="129.15" x2="162.53" y2="139.81" stroke="#6b4a2c" stroke-width="0.45" />
<line x1="161.53" y1="129.15" x2="163.63" y2="137.91" stroke="#6b4a2c" stroke-width="0.3" opacity="0.5"/>
<line x1="172.3" y1="137.11" x2="162.53" y2="139.81" stroke="#6b4a2c" stroke-width="0.45" />
<line x1="172.3" y1="137.11" x2="163.63" y2="137.91" stroke="#6b4a2c" stroke-width="0.3" opacity="0.5"/>
<line x1="164.33" y1="147.88" x2="162.53" y2="139.81" stroke="#6b4a2c" stroke-width="0.45" />
<line x1="164.33" y1="147.88" x2="163.63" y2="137.91" stroke="#6b4a2c" stroke-width="0.3" opacity="0.5"/>
<line x1="153.56" y1="139.91" x2="162.53" y2="139.81" stroke="#6b4a2c" stroke-width="0.45" />
<line x1="153.56" y1="139.91" x2="163.63" y2="137.91" stroke="#6b4a2c" stroke-width="0.3" opacity="0.5"/>
<polygon points="51.87,147.88 59.84,158.64 49.07,166.6 41.1,155.84" fill="#f3a970" stroke="#6b4a2c" stroke-width="0.45" stroke-linejoin="round" />
<line x1="51.87" y1="147.88" x2="50.07" y2="158.54" stroke="#6b4a2c" stroke-width="0.45" />
<line x1="51.87" y1="147.88" x2="49.77" y2="156.64" stroke="#6b4a2c" stroke-width="0.3" opacity="0.5"/>
<line x1="59.84" y1="158.64" x2="50.07" y2="158.54" stroke="#6b4a2c" stroke-width="0.45" />
<line x1="59.84" y1="158.64" x2="49.77" y2="156.64" stroke="#6b4a2c" stroke-width="0.3" opacity="0.5"/>
<line x1="49.07" y1="166.6" x2="50.07" y2="158.54" stroke="#6b4a2c" stroke-width="0.45" />
<line x1="49.07" y1="166.6" x2="49.77" y2="156.64" stroke="#6b4a2c" stroke-width="0.3" opacity="0.5"/>
<line x1="41.1" y1="155.84" x2="50.07" y2="158.54" stroke="#6b4a2c" stroke-width="0.45" />
<line x1="41.1" y1="155.84" x2="49.77" y2="156.64" stroke="#6b4a2c" stroke-width="0.3" opacity="0.5"/>
<polygon points="67.81,147.88 78.59,155.84 70.61,166.6 59.84,158.64" fill="#f3a970" stroke="#6b4a2c" stroke-width="0.45" stroke-linejoin="round" />
<line x1="67.81" y1="147.88" x2="68.81" y2="158.54" stroke="#6b4a2c" stroke-width="0.45" />
<line x1="67.81" y1="147.88" x2="69.91" y2="156.64" stroke="#6b4a2c" stroke-width="0.3" opacity="0.5"/>
<line x1="78.59" y1="155.84" x2="68.81" y2="158.54" stroke="#6b4a2c" stroke-width="0.45" />
<line x1="78.59" y1="155.84" x2="69.91" y2="156.64" stroke="#6b4a2c" stroke-width="0.3" opacity="0.5"/>
<line x1="70.61" y1="166.6" x2="68.81" y2="158.54" stroke="#6b4a2c" stroke-width="0.45" />
<line x1="70.61" y1="166.6" x2="69.91" y2="156.64" stroke="#6b4a2c" stroke-width="0.3" opacity="0.5"/>
<line x1="59.84" y1="158.64" x2="68.81" y2="158.54" stroke="#6b4a2c" stroke-width="0.45" />
<line x1="59.84" y1="158.64" x2="69.91" y2="156.64" stroke="#6b4a2c" stroke-width="0.3" opacity="0.5"/>
<polygon points="89.36,147.88 97.33,158.64 86.56,166.6 78.59,155.84" fill="#f3a970" stroke="#6b4a2c" stroke-width="0.45" stroke-linejoin="round" />
<line x1="89.36" y1="147.88" x2="87.56" y2="158.54" stroke="#6b4a2c" stroke-width="0.45" />
<line x1="89.36" y1="147.88" x2="87.26" y2="156.64" stroke="#6b4a2c" stroke-width="0.3" opacity="0.5"/>
<line x1="97.33" y1="158.64" x2="87.56" y2="158.54" stroke="#6b4a2c" stroke-width="0.45" />
<line x1="97.33" y1="158.64" x2="87.26" y2="156.64" stroke="#6b4a2c" stroke-width="0.3" opacity="0.5"/>
<line x1="86.56" y1="166.6" x2="87.56" y2="158.54" stroke="#6b4a2c" stroke-width="0.45" />
<line x1="86.56" y1="166.6" x2="87.26" y2="156.64" stroke="#6b4a2c" stroke-width="0.3" opacity="0.5"/>
<line x1="78.59" y1="155.84" x2="87.56" y2="158.54" stroke="#6b4a2c" stroke-width="0.45" />
<line x1="78.59" y1="155.84" x2="87.26" y2="156.64" stroke="#6b4a2c" stroke-width="0.3" opacity="0.5"/>
<polygon points="105.3,147.88 116.07,155.84 108.1,166.6 97.33,158.64" fill="#f3a970" stroke="#6b4a2c" stroke-width="0.45" stroke-linejoin="round" />
<line x1="105.3" y1="147.88" x2="106.3" y2="158.54" stroke="#6b4a2c" stroke-width="0.45" />
<line x1="105.3" y1="147.88" x2="107.4" y2="156.64" stroke="#6b4a2c" stroke-width="0.3" opacity="0.5"/>
<line x1="116.07" y1="155.84" x2="106.3" y2="158.54" stroke="#6b4a2c" stroke-width="0.45" />
<line x1="116.07" y1="155.84" x2="107.4" y2="156.64" stroke="#6b4a2c" stroke-width="0.3" opacity="0.5"/>
<line x1="108.1" y1="166.6" x2="106.3" y2="158.54" stroke="#6b4a2c" stroke-width="0.45" />
<line x1="108.1" y1="166.6" x2="107.4" y2="156.64" stroke="#6b4a2c" stroke-width="0.3" opacity="0.5"/>
<line x1="97.33" y1="158.64" x2="106.3" y2="158.54" stroke="#6b4a2c" stroke-width="0.45" />
<line x1="97.33" y1="158.64" x2="107.4" y2="156.64" stroke="#6b4a2c" stroke-width="0.3" opacity="0.5"/>
<polygon points="126.84,147.88 134.81,158.64 124.04,166.6 116.07,155.84" fill="#f3a970" stroke="#6b4a2c" stroke-width="0.45" stroke-linejoin="round" />
<line x1="126.84" y1="147.88" x2="125.04" y2="158.54" stroke="#6b4a2c" stroke-width="0.45" />
<line x1="126.84" y1="147.88" x2="124.74" y2="156.64" stroke="#6b4a2c" stroke-width="0.3" opacity="0.5"/>
<line x1="134.81" y1="158.64" x2="125.04" y2="158.54" stroke="#6b4a2c" stroke-width="0.45" />
<line x1="134.81" y1="158.64" x2="124.74" y2="156.64" stroke="#6b4a2c" stroke-width="0.3" opacity="0.5"/>
<line x1="124.04" y1="166.6" x2="125.04" y2="158.54" stroke="#6b4a2c" stroke-width="0.45" />
<line x1="124.04" y1="166.6" x2="124.74" y2="156.64" stroke="#6b4a2c" stroke-width="0.3" opacity="0.5"/>
<line x1="116.07" y1="155.84" x2="125.04" y2="158.54" stroke="#6b4a2c" stroke-width="0.45" />
<line x1="116.07" y1="155.84" x2="124.74" y2="156.64" stroke="#6b4a2c" stroke-width="0.3" opacity="0.5"/>
<polygon points="142.79,147.88 153.56,155.84 145.59,166.6 134.81,158.64" fill="#f3a970" stroke="#6b4a2c" stroke-width="0.45" stroke-linejoin="round" />
<line x1="142.79" y1="147.88" x2="143.79" y2="158.54" stroke="#6b4a2c" stroke-width="0.45" />
<line x1="142.79" y1="147.88" x2="144.89" y2="156.64" stroke="#6b4a2c" stroke-width="0.3" opacity="0.5"/>
<line x1="153.56" y1="155.84" x2="143.79" y2="158.54" stroke="#6b4a2c" stroke-width="0.45" />
<line x1="153.56" y1="155.84" x2="144.89" y2="156.64" stroke="#6b4a2c" stroke-width="0.3" opacity="0.5"/>
<line x1="145.59" y1="166.6" x2="143.79" y2="158.54" stroke="#6b4a2c" stroke-width="0.45" />
<line x1="145.59" y1="166.6" x2="144.89" y2="156.64" stroke="#6b4a2c" stroke-width="0.3" opacity="0.5"/>
<line x1="134.81" y1="158.64" x2="143.79" y2="158.54" stroke="#6b4a2c" stroke-width="0.45" />
<line x1="134.81" y1="158.64" x2="144.89" y2="156.64" stroke="#6b4a2c" stroke-width="0.3" opacity="0.5"/>
<polygon points="164.33,147.88 172.3,158.64 161.53,166.6 153.56,155.84" fill="#f3a970" stroke="#6b4a2c" stroke-width="0.45" stroke-linejoin="round" />
<line x1="164.33" y1="147.88" x2="162.53" y2="158.54" stroke="#6b4a2c" stroke-width="0.45" />
<line x1="164.33" y1="147.88" x2="162.23" y2="156.64" stroke="#6b4a2c" stroke-width="0.3" opacity="0.5"/>
<line x1="172.3" y1="158.64" x2="162.53" y2="158.54" stroke="#6b4a2c" stroke-width="0.45" />
<line x1="172.3" y1="158.64" x2="162.23" y2="156.64" stroke="#6b4a2c" stroke-width="0.3" opacity="0.5"/>
<line x1="161.53" y1="166.6" x2="162.53" y2="158.54" stroke="#6b4a2c" stroke-width="0.45" />
<line x1="161.53" y1="166.6" x2="162.23" y2="156.64" stroke="#6b4a2c" stroke-width="0.3" opacity="0.5"/>
<line x1="153.56" y1="155.84" x2="162.53" y2="158.54" stroke="#6b4a2c" stroke-width="0.45" />
<line x1="153.56" y1="155.84" x2="162.23" y2="156.64" stroke="#6b4a2c" stroke-width="0.3" opacity="0.5"/>
<circle cx="49.07" cy="91.7" r="1.1" fill="#70ae3e" />
<circle cx="59.84" cy="99.66" r="1.1" fill="#70ae3e" />
<circle cx="51.87" cy="110.42" r="1.1" fill="#70ae3e" />
<circle cx="41.1" cy="102.46" r="1.1" fill="#70ae3e" />
<circle cx="50.07" cy="102.36" r="1" fill="#70ae3e" />
<circle cx="70.61" cy="91.7" r="1.1" fill="#70ae3e" />
<circle cx="78.59" cy="102.46" r="1.1" fill="#70ae3e" />
<circle cx="67.81" cy="110.42" r="1.1" fill="#70ae3e" />
<circle cx="68.81" cy="102.36" r="1" fill="#70ae3e" />
<circle cx="86.56" cy="91.7" r="1.1" fill="#70ae3e" />
<circle cx="97.33" cy="99.66" r="1.1" fill="#70ae3e" />
<circle cx="89.36" cy="110.42" r="1.1" fill="#70ae3e" />
<circle cx="87.56" cy="102.36" r="1" fill="#70ae3e" />
<circle cx="108.1" cy="91.7" r="1.1" fill="#70ae3e" />
<circle cx="116.07" cy="102.46" r="1.1" fill="#70ae3e" />
<circle cx="105.3" cy="110.42" r="1.1" fill="#70ae3e" />
<circle cx="106.3" cy="102.36" r="1" fill="#70ae3e" />
<circle cx="124.04" cy="91.7" r="1.1" fill="#70ae3e" />
<circle cx="134.81" cy="99.66" r="1.1" fill="#70ae3e" />
<circle cx="126.84" cy="110.42" r="1.1" fill="#70ae3e" />
<circle cx="125.04" cy="102.36" r="1" fill="#70ae3e" />
<circle cx="145.59" cy="91.7" r="1.1" fill="#70ae3e" />
<circle cx="153.56" cy="102.46" r="1.1" fill="#70ae3e" />
<circle cx="142.79" cy="110.42" r="1.1" fill="#70ae3e" />
<circle cx="143.79" cy="102.36" r="1" fill="#70ae3e" />
<circle cx="161.53" cy="91.7" r="1.1" fill="#70ae3e" />
<circle cx="172.3" cy="99.66" r="1.1" fill="#70ae3e" />
<circle cx="164.33" cy="110.42" r="1.1" fill="#70ae3e" />
<circle cx="162.53" cy="102.36" r="1" fill="#70ae3e" />
<circle cx="59.84" cy="121.19" r="1.1" fill="#70ae3e" />
<circle cx="49.07" cy="129.15" r="1.1" fill="#70ae3e" />
<circle cx="41.1" cy="118.39" r="1.1" fill="#70ae3e" />
<circle cx="50.07" cy="121.09" r="1" fill="#70ae3e" />
<circle cx="78.59" cy="118.39" r="1.1" fill="#70ae3e" />
<circle cx="70.61" cy="129.15" r="1.1" fill="#70ae3e" />
<circle cx="68.81" cy="121.09" r="1" fill="#70ae3e" />
<circle cx="97.33" cy="121.19" r="1.1" fill="#70ae3e" />
<circle cx="86.56" cy="129.15" r="1.1" fill="#70ae3e" />
<circle cx="87.56" cy="121.09" r="1" fill="#70ae3e" />
<circle cx="116.07" cy="118.39" r="1.1" fill="#70ae3e" />
<circle cx="108.1" cy="129.15" r="1.1" fill="#70ae3e" />
<circle cx="106.3" cy="121.09" r="1" fill="#70ae3e" />
<circle cx="134.81" cy="121.19" r="1.1" fill="#70ae3e" />
<circle cx="124.04" cy="129.15" r="1.1" fill="#70ae3e" />
<circle cx="125.04" cy="121.09" r="1" fill="#70ae3e" />
<circle cx="153.56" cy="118.39" r="1.1" fill="#70ae3e" />
<circle cx="145.59" cy="129.15" r="1.1" fill="#70ae3e" />
<circle cx="143.79" cy="121.09" r="1" fill="#70ae3e" />
<circle cx="172.3" cy="121.19" r="1.1" fill="#70ae3e" />
<circle cx="161.53" cy="129.15" r="1.1" fill="#70ae3e" />
<circle cx="162.53" cy="121.09" r="1" fill="#70ae3e" />
<circle cx="49.07" cy="129.15" r="1.1" fill="#70ae3e" />
<circle cx="59.84" cy="137.11" r="1.1" fill="#70ae3e" />
<circle cx="51.87" cy="147.88" r="1.1" fill="#70ae3e" />
<circle cx="41.1" cy="139.91" r="1.1" fill="#70ae3e" />
<circle cx="50.07" cy="139.81" r="1" fill="#70ae3e" />
<circle cx="70.61" cy="129.15" r="1.1" fill="#70ae3e" />
<circle cx="78.59" cy="139.91" r="1.1" fill="#70ae3e" />
<circle cx="67.81" cy="147.88" r="1.1" fill="#70ae3e" />
<circle cx="68.81" cy="139.81" r="1" fill="#70ae3e" />
<circle cx="86.56" cy="129.15" r="1.1" fill="#70ae3e" />
<circle cx="97.33" cy="137.11" r="1.1" fill="#70ae3e" />
<circle cx="89.36" cy="147.88" r="1.1" fill="#70ae3e" />
<circle cx="87.56" cy="139.81" r="1" fill="#70ae3e" />
<circle cx="108.1" cy="129.15" r="1.1" fill="#70ae3e" />
<circle cx="116.07" cy="139.91" r="1.1" fill="#70ae3e" />
<circle cx="105.3" cy="147.88" r="1.1" fill="#70ae3e" />
<circle cx="106.3" cy="139.81" r="1" fill="#70ae3e" />
<circle cx="124.04" cy="129.15" r="1.1" fill="#70ae3e" />
<circle cx="134.81" cy="137.11" r="1.1" fill="#70ae3e" />
<circle cx="126.84" cy="147.88" r="1.1" fill="#70ae3e" />
<circle cx="125.04" cy="139.81" r="1" fill="#70ae3e" />
<circle cx="145.59" cy="129.15" r="1.1" fill="#70ae3e" />
<circle cx="153.56" cy="139.91" r="1.1" fill="#70ae3e" />
<circle cx="142.79" cy="147.88" r="1.1" fill="#70ae3e" />
<circle cx="143.79" cy="139.81" r="1" fill="#70ae3e" />
<circle cx="161.53" cy="129.15" r="1.1" fill="#70ae3e" />
<circle cx="172.3" cy="137.11" r="1.1" fill="#70ae3e" />
<circle cx="164.33" cy="147.88" r="1.1" fill="#70ae3e" />
<circle cx="162.53" cy="139.81" r="1" fill="#70ae3e" />
<circle cx="59.84" cy="158.64" r="1.1" fill="#70ae3e" />
<circle cx="49.07" cy="166.6" r="1.1" fill="#70ae3e" />
<circle cx="41.1" cy="155.84" r="1.1" fill="#70ae3e" />
<circle cx="50.07" cy="158.54" r="1" fill="#70ae3e" />
<circle cx="78.59" cy="155.84" r="1.1" fill="#70ae3e" />
<circle cx="70.61" cy="166.6" r="1.1" fill="#70ae3e" />
<circle cx="68.81" cy="158.54" r="1" fill="#70ae3e" />
<circle cx="97.33" cy="158.64" r="1.1" fill="#70ae3e" />
<circle cx="86.56" cy="166.6" r="1.1" fill="#70ae3e" />
<circle cx="87.56" cy="158.54" r="1" fill="#70ae3e" />
<circle cx="116.07" cy="155.84" r="1.1" fill="#70ae3e" />
<circle cx="108.1" cy="166.6" r="1.1" fill="#70ae3e" />
<circle cx="106.3" cy="158.54" r="1" fill="#70ae3e" />
<circle cx="134.81" cy="158.64" r="1.1" fill="#70ae3e" />
<circle cx="124.04" cy="166.6" r="1.1" fill="#70ae3e" />
<circle cx="125.04" cy="158.54" r="1" fill="#70ae3e" />
<circle cx="153.56" cy="155.84" r="1.1" fill="#70ae3e" />
<circle cx="145.59" cy="166.6" r="1.1" fill="#70ae3e" />
<circle cx="143.79" cy="158.54" r="1" fill="#70ae3e" />
<circle cx="172.3" cy="158.64" r="1.1" fill="#70ae3e" />
<circle cx="161.53" cy="166.6" r="1.1" fill="#70ae3e" />
<circle cx="162.53" cy="158.54" r="1" fill="#70ae3e" />
<line x1="60.85" y1="112.44" x2="58.84" y2="108.41" stroke="#2b2b40" stroke-width="0.9" />
<circle cx="60.85" cy="112.44" r="1.7" fill="#e8101a" />
<circle cx="58.84" cy="108.41" r="1.45" fill="#3f72d0" />
<line x1="76.39" y1="109.91" x2="80.78" y2="110.94" stroke="#2b2b40" stroke-width="0.9" />
<circle cx="76.39" cy="109.91" r="1.7" fill="#e8101a" />
<circle cx="80.78" cy="110.94" r="1.45" fill="#3f72d0" />
<line x1="96.48" y1="112.51" x2="98.18" y2="108.34" stroke="#2b2b40" stroke-width="0.9" />
<circle cx="96.48" cy="112.51" r="1.7" fill="#e8101a" />
<circle cx="98.18" cy="108.34" r="1.45" fill="#3f72d0" />
<line x1="117.48" y1="112.18" x2="114.67" y2="108.67" stroke="#2b2b40" stroke-width="0.9" />
<circle cx="117.48" cy="112.18" r="1.7" fill="#e8101a" />
<circle cx="114.67" cy="108.67" r="1.45" fill="#3f72d0" />
<line x1="135.15" y1="112.65" x2="134.48" y2="108.2" stroke="#2b2b40" stroke-width="0.9" />
<circle cx="135.15" cy="112.65" r="1.7" fill="#e8101a" />
<circle cx="134.48" cy="108.2" r="1.45" fill="#3f72d0" />
<line x1="155.65" y1="109.59" x2="151.47" y2="111.26" stroke="#2b2b40" stroke-width="0.9" />
<circle cx="155.65" cy="109.59" r="1.7" fill="#e8101a" />
<circle cx="151.47" cy="111.26" r="1.45" fill="#3f72d0" />
<line x1="57.83" y1="128.14" x2="61.86" y2="130.16" stroke="#2b2b40" stroke-width="0.9" />
<circle cx="57.83" cy="128.14" r="1.7" fill="#e8101a" />
<circle cx="61.86" cy="130.16" r="1.45" fill="#3f72d0" />
<line x1="77.63" y1="131.19" x2="79.54" y2="127.11" stroke="#2b2b40" stroke-width="0.9" />
<circle cx="77.63" cy="131.19" r="1.7" fill="#e8101a" />
<circle cx="79.54" cy="127.11" r="1.45" fill="#3f72d0" />
<line x1="99.31" y1="130.21" x2="95.35" y2="128.09" stroke="#2b2b40" stroke-width="0.9" />
<circle cx="99.31" cy="130.21" r="1.7" fill="#e8101a" />
<circle cx="95.35" cy="128.09" r="1.45" fill="#3f72d0" />
<line x1="116.63" y1="131.33" x2="115.51" y2="126.97" stroke="#2b2b40" stroke-width="0.9" />
<circle cx="116.63" cy="131.33" r="1.7" fill="#e8101a" />
<circle cx="115.51" cy="126.97" r="1.45" fill="#3f72d0" />
<line x1="136.57" y1="127.74" x2="133.06" y2="130.56" stroke="#2b2b40" stroke-width="0.9" />
<circle cx="136.57" cy="127.74" r="1.7" fill="#e8101a" />
<circle cx="133.06" cy="130.56" r="1.45" fill="#3f72d0" />
<line x1="152.55" y1="131.16" x2="154.56" y2="127.14" stroke="#2b2b40" stroke-width="0.9" />
<circle cx="152.55" cy="131.16" r="1.7" fill="#e8101a" />
<circle cx="154.56" cy="127.14" r="1.45" fill="#3f72d0" />
<line x1="60.91" y1="145.89" x2="58.78" y2="149.86" stroke="#2b2b40" stroke-width="0.9" />
<circle cx="60.91" cy="145.89" r="1.7" fill="#e8101a" />
<circle cx="58.78" cy="149.86" r="1.45" fill="#3f72d0" />
<line x1="80.63" y1="146.93" x2="76.54" y2="148.82" stroke="#2b2b40" stroke-width="0.9" />
<circle cx="80.63" cy="146.93" r="1.7" fill="#e8101a" />
<circle cx="76.54" cy="148.82" r="1.45" fill="#3f72d0" />
<line x1="96.8" y1="145.69" x2="97.86" y2="150.06" stroke="#2b2b40" stroke-width="0.9" />
<circle cx="96.8" cy="145.69" r="1.7" fill="#e8101a" />
<circle cx="97.86" cy="150.06" r="1.45" fill="#3f72d0" />
<line x1="113.85" y1="147.51" x2="118.29" y2="148.24" stroke="#2b2b40" stroke-width="0.9" />
<circle cx="113.85" cy="147.51" r="1.7" fill="#e8101a" />
<circle cx="118.29" cy="148.24" r="1.45" fill="#3f72d0" />
<line x1="136.25" y1="149.6" x2="133.37" y2="146.15" stroke="#2b2b40" stroke-width="0.9" />
<circle cx="136.25" cy="149.6" r="1.7" fill="#e8101a" />
<circle cx="133.37" cy="146.15" r="1.45" fill="#3f72d0" />
<line x1="155.75" y1="148.37" x2="151.36" y2="147.38" stroke="#2b2b40" stroke-width="0.9" />
<circle cx="155.75" cy="148.37" r="1.7" fill="#e8101a" />
<circle cx="151.36" cy="147.38" r="1.45" fill="#3f72d0" />
</g>
<text x="186.8" y="135.2" font-size="10.5" fill="#111" text-anchor="start" font-weight="normal" font-style="normal" >3D</text>
<rect x="29.3" y="168.3" width="154.4" height="13.2" fill="#b4c6e6" stroke="#76849f" stroke-width="0.7" />
<text x="106.2" y="179.1" font-size="10.4" fill="#111" text-anchor="middle" font-weight="normal" font-style="normal" >Substrate</text>
<path d="M97.2,181.3 C95.8,185.7 100.8,186.7 99.8,190.7 C99,192.7 98.5,193.7 99.2,195.4" fill="none" stroke="#fa0a14" stroke-width="4.4" stroke-linecap="butt"/>
<path d="M106.2,181.3 C104.8,185.7 109.8,186.7 108.8,190.7 C108,192.7 107.5,193.7 108.2,195.4" fill="none" stroke="#fa0a14" stroke-width="4.4" stroke-linecap="butt"/>
<path d="M115.4,181.3 C114,185.7 119,186.7 118,190.7 C117.2,192.7 116.7,193.7 117.4,195.4" fill="none" stroke="#fa0a14" stroke-width="4.4" stroke-linecap="butt"/>
<rect x="89.6" y="195.3" width="34.8" height="3.2" fill="#fbd4d4" stroke="#f6303a" stroke-width="0.9" />
<text x="143.5" y="194.8" font-size="10.5" fill="#111">100 <tspan font-size="6.5" dy="-3">o</tspan><tspan dy="3">C Heating</tspan></text>
<polygon points="211.2,98.1 243.3,98.1 243.3,93.1 252.6,102.8 243.3,112.5 243.3,107.5 211.2,107.5" fill="url(#gRight)" stroke="#8fb07c" stroke-width="0.5" stroke-linejoin="round" />
<path d="M275.5,44.7C278.23,44.67 285.52,44.82 291.9,44.5C298.28,44.18 306.5,43.55 313.8,42.8C321.1,42.05 328.4,41.27 335.7,40C343,38.73 350.3,37.38 357.6,35.2C364.9,33.02 373.93,29.5 379.5,26.9C385.07,24.3 387.48,22.25 391,19.6C394.52,16.95 399,12.43 400.6,11 L410.2,19.9C408.73,21.02 404.6,24.38 401.4,26.6C398.2,28.82 394.65,31.03 391,33.2C387.35,35.37 385.07,37.12 379.5,39.6C373.93,42.08 364.9,45.87 357.6,48.1C350.3,50.33 343,51.83 335.7,53C328.4,54.17 321.1,54.63 313.8,55.1C306.5,55.57 298.27,55.68 291.9,55.8C285.53,55.92 278.32,55.8 275.6,55.8 Z" fill="#dce8f4" stroke="#8796ab" stroke-width="0.7" stroke-linejoin="round"/>
<text x="302.7" y="24.6" font-size="10.5" fill="#111" text-anchor="start" font-weight="normal" font-style="normal" >Peeling off</text>
<path d="M379.2,22 Q387.6,16.4 390,8.6 L392.6,11.8 Q390.6,18.6 381.8,25.3 Z" fill="#b9ccab" stroke="#8a9fb0" stroke-width="0.45" stroke-linejoin="round"/>
<path d="M371.9,7.7 L373.8,3.0 L375.5,4.9 C381.5,2.2 387.8,2.4 390.5,6.4 C391.8,8.2 392.4,10 392.6,11.8 L390,8.6 C388.2,6.4 383,6.6 377.2,8.8 L377.8,10.8 Z" fill="#6aa84c" stroke="#7f9aaa" stroke-width="0.45" stroke-linejoin="round"/>
<polygon points="309.8,60.27 307.96,62.11 305.45,61.44 304.77,58.93 306.61,57.09 309.12,57.76" fill="none" stroke="#5a5a5a" stroke-width="0.6" stroke-linejoin="round" />
<circle cx="309.8" cy="60.27" r="0.8" fill="#505050" />
<circle cx="311.2" cy="60.65" r="0.55" fill="#b0b0b0" />
<circle cx="307.96" cy="62.11" r="0.8" fill="#505050" />
<circle cx="308.33" cy="63.51" r="0.55" fill="#b0b0b0" />
<circle cx="305.45" cy="61.44" r="0.8" fill="#505050" />
<circle cx="304.42" cy="62.46" r="0.55" fill="#b0b0b0" />
<circle cx="304.77" cy="58.93" r="0.8" fill="#505050" />
<circle cx="303.37" cy="58.55" r="0.55" fill="#b0b0b0" />
<circle cx="306.61" cy="57.09" r="0.8" fill="#505050" />
<circle cx="306.24" cy="55.69" r="0.55" fill="#b0b0b0" />
<circle cx="309.12" cy="57.76" r="0.8" fill="#505050" />
<circle cx="310.15" cy="56.74" r="0.55" fill="#b0b0b0" />
<line x1="305.49" y1="61.9" x2="303.89" y2="65" stroke="#333" stroke-width="0.75" />
<line x1="303.89" y1="65" x2="304.29" y2="68.4" stroke="#333" stroke-width="0.75" />
<line x1="303.89" y1="65" x2="300.69" y2="64.8" stroke="#333" stroke-width="0.75" />
<circle cx="303.89" cy="65" r="0.85" fill="#444" />
<circle cx="304.29" cy="68.4" r="1.35" fill="#ee0f18" />
<circle cx="300.69" cy="64.8" r="1.15" fill="#4577d6" />
<polygon points="304.6,92.97 302.76,94.81 300.25,94.14 299.57,91.63 301.41,89.79 303.92,90.46" fill="none" stroke="#5a5a5a" stroke-width="0.6" stroke-linejoin="round" />
<circle cx="304.6" cy="92.97" r="0.8" fill="#505050" />
<circle cx="306" cy="93.35" r="0.55" fill="#b0b0b0" />
<circle cx="302.76" cy="94.81" r="0.8" fill="#505050" />
<circle cx="303.13" cy="96.21" r="0.55" fill="#b0b0b0" />
<circle cx="300.25" cy="94.14" r="0.8" fill="#505050" />
<circle cx="299.22" cy="95.16" r="0.55" fill="#b0b0b0" />
<circle cx="299.57" cy="91.63" r="0.8" fill="#505050" />
<circle cx="298.17" cy="91.25" r="0.55" fill="#b0b0b0" />
<circle cx="301.41" cy="89.79" r="0.8" fill="#505050" />
<circle cx="301.04" cy="88.39" r="0.55" fill="#b0b0b0" />
<circle cx="303.92" cy="90.46" r="0.8" fill="#505050" />
<circle cx="304.95" cy="89.44" r="0.55" fill="#b0b0b0" />
<line x1="303.69" y1="90" x2="305.39" y2="86.3" stroke="#333" stroke-width="0.75" />
<line x1="305.39" y1="86.3" x2="303.99" y2="83.7" stroke="#333" stroke-width="0.75" />
<line x1="305.39" y1="86.3" x2="308.69" y2="86.4" stroke="#333" stroke-width="0.75" />
<circle cx="305.39" cy="86.3" r="0.85" fill="#444" />
<circle cx="303.99" cy="83.7" r="1.35" fill="#ee0f18" />
<circle cx="308.69" cy="86.4" r="1.15" fill="#4577d6" />
<polygon points="328.38,60.27 326.54,62.11 324.03,61.44 323.36,58.93 325.2,57.09 327.71,57.76" fill="none" stroke="#5a5a5a" stroke-width="0.6" stroke-linejoin="round" />
<circle cx="328.38" cy="60.27" r="0.8" fill="#505050" />
<circle cx="329.78" cy="60.65" r="0.55" fill="#b0b0b0" />
<circle cx="326.54" cy="62.11" r="0.8" fill="#505050" />
<circle cx="326.92" cy="63.51" r="0.55" fill="#b0b0b0" />
<circle cx="324.03" cy="61.44" r="0.8" fill="#505050" />
<circle cx="323.01" cy="62.46" r="0.55" fill="#b0b0b0" />
<circle cx="323.36" cy="58.93" r="0.8" fill="#505050" />
<circle cx="321.96" cy="58.55" r="0.55" fill="#b0b0b0" />
<circle cx="325.2" cy="57.09" r="0.8" fill="#505050" />
<circle cx="324.82" cy="55.69" r="0.55" fill="#b0b0b0" />
<circle cx="327.71" cy="57.76" r="0.8" fill="#505050" />
<circle cx="328.74" cy="56.74" r="0.55" fill="#b0b0b0" />
<line x1="324.07" y1="61.9" x2="322.47" y2="65" stroke="#333" stroke-width="0.75" />
<line x1="322.47" y1="65" x2="322.87" y2="68.4" stroke="#333" stroke-width="0.75" />
<line x1="322.47" y1="65" x2="319.27" y2="64.8" stroke="#333" stroke-width="0.75" />
<circle cx="322.47" cy="65" r="0.85" fill="#444" />
<circle cx="322.87" cy="68.4" r="1.35" fill="#ee0f18" />
<circle cx="319.27" cy="64.8" r="1.15" fill="#4577d6" />
<polygon points="323.18,92.97 321.34,94.81 318.83,94.14 318.16,91.63 320,89.79 322.51,90.46" fill="none" stroke="#5a5a5a" stroke-width="0.6" stroke-linejoin="round" />
<circle cx="323.18" cy="92.97" r="0.8" fill="#505050" />
<circle cx="324.58" cy="93.35" r="0.55" fill="#b0b0b0" />
<circle cx="321.34" cy="94.81" r="0.8" fill="#505050" />
<circle cx="321.72" cy="96.21" r="0.55" fill="#b0b0b0" />
<circle cx="318.83" cy="94.14" r="0.8" fill="#505050" />
<circle cx="317.81" cy="95.16" r="0.55" fill="#b0b0b0" />
<circle cx="318.16" cy="91.63" r="0.8" fill="#505050" />
<circle cx="316.76" cy="91.25" r="0.55" fill="#b0b0b0" />
<circle cx="320" cy="89.79" r="0.8" fill="#505050" />
<circle cx="319.62" cy="88.39" r="0.55" fill="#b0b0b0" />
<circle cx="322.51" cy="90.46" r="0.8" fill="#505050" />
<circle cx="323.54" cy="89.44" r="0.55" fill="#b0b0b0" />
<line x1="322.27" y1="90" x2="323.97" y2="86.3" stroke="#333" stroke-width="0.75" />
<line x1="323.97" y1="86.3" x2="322.57" y2="83.7" stroke="#333" stroke-width="0.75" />
<line x1="323.97" y1="86.3" x2="327.27" y2="86.4" stroke="#333" stroke-width="0.75" />
<circle cx="323.97" cy="86.3" r="0.85" fill="#444" />
<circle cx="322.57" cy="83.7" r="1.35" fill="#ee0f18" />
<circle cx="327.27" cy="86.4" r="1.15" fill="#4577d6" />
<polygon points="346.97,60.27 345.13,62.11 342.62,61.44 341.95,58.93 343.78,57.09 346.3,57.76" fill="none" stroke="#5a5a5a" stroke-width="0.6" stroke-linejoin="round" />
<circle cx="346.97" cy="60.27" r="0.8" fill="#505050" />
<circle cx="348.37" cy="60.65" r="0.55" fill="#b0b0b0" />
<circle cx="345.13" cy="62.11" r="0.8" fill="#505050" />
<circle cx="345.51" cy="63.51" r="0.55" fill="#b0b0b0" />
<circle cx="342.62" cy="61.44" r="0.8" fill="#505050" />
<circle cx="341.59" cy="62.46" r="0.55" fill="#b0b0b0" />
<circle cx="341.95" cy="58.93" r="0.8" fill="#505050" />
<circle cx="340.55" cy="58.55" r="0.55" fill="#b0b0b0" />
<circle cx="343.78" cy="57.09" r="0.8" fill="#505050" />
<circle cx="343.41" cy="55.69" r="0.55" fill="#b0b0b0" />
<circle cx="346.3" cy="57.76" r="0.8" fill="#505050" />
<circle cx="347.32" cy="56.74" r="0.55" fill="#b0b0b0" />
<line x1="342.66" y1="61.9" x2="341.06" y2="65" stroke="#333" stroke-width="0.75" />
<line x1="341.06" y1="65" x2="341.46" y2="68.4" stroke="#333" stroke-width="0.75" />
<line x1="341.06" y1="65" x2="337.86" y2="64.8" stroke="#333" stroke-width="0.75" />
<circle cx="341.06" cy="65" r="0.85" fill="#444" />
<circle cx="341.46" cy="68.4" r="1.35" fill="#ee0f18" />
<circle cx="337.86" cy="64.8" r="1.15" fill="#4577d6" />
<polygon points="341.77,92.97 339.93,94.81 337.42,94.14 336.75,91.63 338.58,89.79 341.1,90.46" fill="none" stroke="#5a5a5a" stroke-width="0.6" stroke-linejoin="round" />
<circle cx="341.77" cy="92.97" r="0.8" fill="#505050" />
<circle cx="343.17" cy="93.35" r="0.55" fill="#b0b0b0" />
<circle cx="339.93" cy="94.81" r="0.8" fill="#505050" />
<circle cx="340.31" cy="96.21" r="0.55" fill="#b0b0b0" />
<circle cx="337.42" cy="94.14" r="0.8" fill="#505050" />
<circle cx="336.39" cy="95.16" r="0.55" fill="#b0b0b0" />
<circle cx="336.75" cy="91.63" r="0.8" fill="#505050" />
<circle cx="335.35" cy="91.25" r="0.55" fill="#b0b0b0" />
<circle cx="338.58" cy="89.79" r="0.8" fill="#505050" />
<circle cx="338.21" cy="88.39" r="0.55" fill="#b0b0b0" />
<circle cx="341.1" cy="90.46" r="0.8" fill="#505050" />
<circle cx="342.12" cy="89.44" r="0.55" fill="#b0b0b0" />
<line x1="340.86" y1="90" x2="342.56" y2="86.3" stroke="#333" stroke-width="0.75" />
<line x1="342.56" y1="86.3" x2="341.16" y2="83.7" stroke="#333" stroke-width="0.75" />
<line x1="342.56" y1="86.3" x2="345.86" y2="86.4" stroke="#333" stroke-width="0.75" />
<circle cx="342.56" cy="86.3" r="0.85" fill="#444" />
<circle cx="341.16" cy="83.7" r="1.35" fill="#ee0f18" />
<circle cx="345.86" cy="86.4" r="1.15" fill="#4577d6" />
<polygon points="365.55,60.27 363.72,62.11 361.2,61.44 360.53,58.93 362.37,57.09 364.88,57.76" fill="none" stroke="#5a5a5a" stroke-width="0.6" stroke-linejoin="round" />
<circle cx="365.55" cy="60.27" r="0.8" fill="#505050" />
<circle cx="366.95" cy="60.65" r="0.55" fill="#b0b0b0" />
<circle cx="363.72" cy="62.11" r="0.8" fill="#505050" />
<circle cx="364.09" cy="63.51" r="0.55" fill="#b0b0b0" />
<circle cx="361.2" cy="61.44" r="0.8" fill="#505050" />
<circle cx="360.18" cy="62.46" r="0.55" fill="#b0b0b0" />
<circle cx="360.53" cy="58.93" r="0.8" fill="#505050" />
<circle cx="359.13" cy="58.55" r="0.55" fill="#b0b0b0" />
<circle cx="362.37" cy="57.09" r="0.8" fill="#505050" />
<circle cx="361.99" cy="55.69" r="0.55" fill="#b0b0b0" />
<circle cx="364.88" cy="57.76" r="0.8" fill="#505050" />
<circle cx="365.91" cy="56.74" r="0.55" fill="#b0b0b0" />
<line x1="361.24" y1="61.9" x2="359.64" y2="65" stroke="#333" stroke-width="0.75" />
<line x1="359.64" y1="65" x2="360.04" y2="68.4" stroke="#333" stroke-width="0.75" />
<line x1="359.64" y1="65" x2="356.44" y2="64.8" stroke="#333" stroke-width="0.75" />
<circle cx="359.64" cy="65" r="0.85" fill="#444" />
<circle cx="360.04" cy="68.4" r="1.35" fill="#ee0f18" />
<circle cx="356.44" cy="64.8" r="1.15" fill="#4577d6" />
<polygon points="360.35,92.97 358.52,94.81 356,94.14 355.33,91.63 357.17,89.79 359.68,90.46" fill="none" stroke="#5a5a5a" stroke-width="0.6" stroke-linejoin="round" />
<circle cx="360.35" cy="92.97" r="0.8" fill="#505050" />
<circle cx="361.75" cy="93.35" r="0.55" fill="#b0b0b0" />
<circle cx="358.52" cy="94.81" r="0.8" fill="#505050" />
<circle cx="358.89" cy="96.21" r="0.55" fill="#b0b0b0" />
<circle cx="356" cy="94.14" r="0.8" fill="#505050" />
<circle cx="354.98" cy="95.16" r="0.55" fill="#b0b0b0" />
<circle cx="355.33" cy="91.63" r="0.8" fill="#505050" />
<circle cx="353.93" cy="91.25" r="0.55" fill="#b0b0b0" />
<circle cx="357.17" cy="89.79" r="0.8" fill="#505050" />
<circle cx="356.79" cy="88.39" r="0.55" fill="#b0b0b0" />
<circle cx="359.68" cy="90.46" r="0.8" fill="#505050" />
<circle cx="360.71" cy="89.44" r="0.55" fill="#b0b0b0" />
<line x1="359.44" y1="90" x2="361.14" y2="86.3" stroke="#333" stroke-width="0.75" />
<line x1="361.14" y1="86.3" x2="359.74" y2="83.7" stroke="#333" stroke-width="0.75" />
<line x1="361.14" y1="86.3" x2="364.44" y2="86.4" stroke="#333" stroke-width="0.75" />
<circle cx="361.14" cy="86.3" r="0.85" fill="#444" />
<circle cx="359.74" cy="83.7" r="1.35" fill="#ee0f18" />
<circle cx="364.44" cy="86.4" r="1.15" fill="#4577d6" />
<polygon points="384.14,60.27 382.3,62.11 379.79,61.44 379.12,58.93 380.96,57.09 383.47,57.76" fill="none" stroke="#5a5a5a" stroke-width="0.6" stroke-linejoin="round" />
<circle cx="384.14" cy="60.27" r="0.8" fill="#505050" />
<circle cx="385.54" cy="60.65" r="0.55" fill="#b0b0b0" />
<circle cx="382.3" cy="62.11" r="0.8" fill="#505050" />
<circle cx="382.68" cy="63.51" r="0.55" fill="#b0b0b0" />
<circle cx="379.79" cy="61.44" r="0.8" fill="#505050" />
<circle cx="378.76" cy="62.46" r="0.55" fill="#b0b0b0" />
<circle cx="379.12" cy="58.93" r="0.8" fill="#505050" />
<circle cx="377.72" cy="58.55" r="0.55" fill="#b0b0b0" />
<circle cx="380.96" cy="57.09" r="0.8" fill="#505050" />
<circle cx="380.58" cy="55.69" r="0.55" fill="#b0b0b0" />
<circle cx="383.47" cy="57.76" r="0.8" fill="#505050" />
<circle cx="384.49" cy="56.74" r="0.55" fill="#b0b0b0" />
<line x1="379.83" y1="61.9" x2="378.23" y2="65" stroke="#333" stroke-width="0.75" />
<line x1="378.23" y1="65" x2="378.63" y2="68.4" stroke="#333" stroke-width="0.75" />
<line x1="378.23" y1="65" x2="375.03" y2="64.8" stroke="#333" stroke-width="0.75" />
<circle cx="378.23" cy="65" r="0.85" fill="#444" />
<circle cx="378.63" cy="68.4" r="1.35" fill="#ee0f18" />
<circle cx="375.03" cy="64.8" r="1.15" fill="#4577d6" />
<polygon points="378.94,92.97 377.1,94.81 374.59,94.14 373.92,91.63 375.76,89.79 378.27,90.46" fill="none" stroke="#5a5a5a" stroke-width="0.6" stroke-linejoin="round" />
<circle cx="378.94" cy="92.97" r="0.8" fill="#505050" />
<circle cx="380.34" cy="93.35" r="0.55" fill="#b0b0b0" />
<circle cx="377.1" cy="94.81" r="0.8" fill="#505050" />
<circle cx="377.48" cy="96.21" r="0.55" fill="#b0b0b0" />
<circle cx="374.59" cy="94.14" r="0.8" fill="#505050" />
<circle cx="373.56" cy="95.16" r="0.55" fill="#b0b0b0" />
<circle cx="373.92" cy="91.63" r="0.8" fill="#505050" />
<circle cx="372.52" cy="91.25" r="0.55" fill="#b0b0b0" />
<circle cx="375.76" cy="89.79" r="0.8" fill="#505050" />
<circle cx="375.38" cy="88.39" r="0.55" fill="#b0b0b0" />
<circle cx="378.27" cy="90.46" r="0.8" fill="#505050" />
<circle cx="379.29" cy="89.44" r="0.55" fill="#b0b0b0" />
<line x1="378.03" y1="90" x2="379.73" y2="86.3" stroke="#333" stroke-width="0.75" />
<line x1="379.73" y1="86.3" x2="378.33" y2="83.7" stroke="#333" stroke-width="0.75" />
<line x1="379.73" y1="86.3" x2="383.03" y2="86.4" stroke="#333" stroke-width="0.75" />
<circle cx="379.73" cy="86.3" r="0.85" fill="#444" />
<circle cx="378.33" cy="83.7" r="1.35" fill="#ee0f18" />
<circle cx="383.03" cy="86.4" r="1.15" fill="#4577d6" />
<polygon points="402.73,60.27 400.89,62.11 398.38,61.44 397.7,58.93 399.54,57.09 402.05,57.76" fill="none" stroke="#5a5a5a" stroke-width="0.6" stroke-linejoin="round" />
<circle cx="402.73" cy="60.27" r="0.8" fill="#505050" />
<circle cx="404.13" cy="60.65" r="0.55" fill="#b0b0b0" />
<circle cx="400.89" cy="62.11" r="0.8" fill="#505050" />
<circle cx="401.26" cy="63.51" r="0.55" fill="#b0b0b0" />
<circle cx="398.38" cy="61.44" r="0.8" fill="#505050" />
<circle cx="397.35" cy="62.46" r="0.55" fill="#b0b0b0" />
<circle cx="397.7" cy="58.93" r="0.8" fill="#505050" />
<circle cx="396.3" cy="58.55" r="0.55" fill="#b0b0b0" />
<circle cx="399.54" cy="57.09" r="0.8" fill="#505050" />
<circle cx="399.17" cy="55.69" r="0.55" fill="#b0b0b0" />
<circle cx="402.05" cy="57.76" r="0.8" fill="#505050" />
<circle cx="403.08" cy="56.74" r="0.55" fill="#b0b0b0" />
<line x1="398.41" y1="61.9" x2="396.81" y2="65" stroke="#333" stroke-width="0.75" />
<line x1="396.81" y1="65" x2="397.21" y2="68.4" stroke="#333" stroke-width="0.75" />
<line x1="396.81" y1="65" x2="393.61" y2="64.8" stroke="#333" stroke-width="0.75" />
<circle cx="396.81" cy="65" r="0.85" fill="#444" />
<circle cx="397.21" cy="68.4" r="1.35" fill="#ee0f18" />
<circle cx="393.61" cy="64.8" r="1.15" fill="#4577d6" />
<polygon points="397.53,92.97 395.69,94.81 393.18,94.14 392.5,91.63 394.34,89.79 396.85,90.46" fill="none" stroke="#5a5a5a" stroke-width="0.6" stroke-linejoin="round" />
<circle cx="397.53" cy="92.97" r="0.8" fill="#505050" />
<circle cx="398.93" cy="93.35" r="0.55" fill="#b0b0b0" />
<circle cx="395.69" cy="94.81" r="0.8" fill="#505050" />
<circle cx="396.06" cy="96.21" r="0.55" fill="#b0b0b0" />
<circle cx="393.18" cy="94.14" r="0.8" fill="#505050" />
<circle cx="392.15" cy="95.16" r="0.55" fill="#b0b0b0" />
<circle cx="392.5" cy="91.63" r="0.8" fill="#505050" />
<circle cx="391.1" cy="91.25" r="0.55" fill="#b0b0b0" />
<circle cx="394.34" cy="89.79" r="0.8" fill="#505050" />
<circle cx="393.97" cy="88.39" r="0.55" fill="#b0b0b0" />
<circle cx="396.85" cy="90.46" r="0.8" fill="#505050" />
<circle cx="397.88" cy="89.44" r="0.55" fill="#b0b0b0" />
<line x1="396.61" y1="90" x2="398.31" y2="86.3" stroke="#333" stroke-width="0.75" />
<line x1="398.31" y1="86.3" x2="396.91" y2="83.7" stroke="#333" stroke-width="0.75" />
<line x1="398.31" y1="86.3" x2="401.61" y2="86.4" stroke="#333" stroke-width="0.75" />
<circle cx="398.31" cy="86.3" r="0.85" fill="#444" />
<circle cx="396.91" cy="83.7" r="1.35" fill="#ee0f18" />
<circle cx="401.61" cy="86.4" r="1.15" fill="#4577d6" />
<g transform="rotate(0.9 285.8 75.5)">
<g>
<polygon points="295.39,65.7 304.39,75.5 295.29,85.3 285.8,75.5" fill="#fce39e" stroke="#9a7c3a" stroke-width="0.45" stroke-linejoin="round" />
<polygon points="285.8,75.5 295.29,85.3 294.79,77.1" fill="#f5d572" stroke="none" stroke-width="0" stroke-linejoin="round" opacity="0.25"/>
<line x1="295.39" y1="65.7" x2="294.79" y2="77.1" stroke="#9a7c3a" stroke-width="0.4" />
<line x1="304.39" y1="75.5" x2="294.79" y2="77.1" stroke="#9a7c3a" stroke-width="0.4" />
<line x1="295.29" y1="85.3" x2="294.79" y2="77.1" stroke="#9a7c3a" stroke-width="0.4" />
<line x1="285.8" y1="75.5" x2="294.79" y2="77.1" stroke="#9a7c3a" stroke-width="0.4" />
<line x1="285.8" y1="75.5" x2="304.39" y2="75.5" stroke="#9a7c3a" stroke-width="0.3" opacity="0.6"/>
<polygon points="313.98,65.7 322.97,75.5 313.88,85.3 304.39,75.5" fill="#fce39e" stroke="#9a7c3a" stroke-width="0.45" stroke-linejoin="round" />
<polygon points="304.39,75.5 313.88,85.3 313.38,77.1" fill="#f5d572" stroke="none" stroke-width="0" stroke-linejoin="round" opacity="0.25"/>
<line x1="313.98" y1="65.7" x2="313.38" y2="77.1" stroke="#9a7c3a" stroke-width="0.4" />
<line x1="322.97" y1="75.5" x2="313.38" y2="77.1" stroke="#9a7c3a" stroke-width="0.4" />
<line x1="313.88" y1="85.3" x2="313.38" y2="77.1" stroke="#9a7c3a" stroke-width="0.4" />
<line x1="304.39" y1="75.5" x2="313.38" y2="77.1" stroke="#9a7c3a" stroke-width="0.4" />
<line x1="304.39" y1="75.5" x2="322.97" y2="75.5" stroke="#9a7c3a" stroke-width="0.3" opacity="0.6"/>
<polygon points="332.56,65.7 341.56,75.5 332.46,85.3 322.97,75.5" fill="#fce39e" stroke="#9a7c3a" stroke-width="0.45" stroke-linejoin="round" />
<polygon points="322.97,75.5 332.46,85.3 331.96,77.1" fill="#f5d572" stroke="none" stroke-width="0" stroke-linejoin="round" opacity="0.25"/>
<line x1="332.56" y1="65.7" x2="331.96" y2="77.1" stroke="#9a7c3a" stroke-width="0.4" />
<line x1="341.56" y1="75.5" x2="331.96" y2="77.1" stroke="#9a7c3a" stroke-width="0.4" />
<line x1="332.46" y1="85.3" x2="331.96" y2="77.1" stroke="#9a7c3a" stroke-width="0.4" />
<line x1="322.97" y1="75.5" x2="331.96" y2="77.1" stroke="#9a7c3a" stroke-width="0.4" />
<line x1="322.97" y1="75.5" x2="341.56" y2="75.5" stroke="#9a7c3a" stroke-width="0.3" opacity="0.6"/>
<polygon points="351.15,65.7 360.14,75.5 351.05,85.3 341.56,75.5" fill="#fce39e" stroke="#9a7c3a" stroke-width="0.45" stroke-linejoin="round" />
<polygon points="341.56,75.5 351.05,85.3 350.55,77.1" fill="#f5d572" stroke="none" stroke-width="0" stroke-linejoin="round" opacity="0.25"/>
<line x1="351.15" y1="65.7" x2="350.55" y2="77.1" stroke="#9a7c3a" stroke-width="0.4" />
<line x1="360.14" y1="75.5" x2="350.55" y2="77.1" stroke="#9a7c3a" stroke-width="0.4" />
<line x1="351.05" y1="85.3" x2="350.55" y2="77.1" stroke="#9a7c3a" stroke-width="0.4" />
<line x1="341.56" y1="75.5" x2="350.55" y2="77.1" stroke="#9a7c3a" stroke-width="0.4" />
<line x1="341.56" y1="75.5" x2="360.14" y2="75.5" stroke="#9a7c3a" stroke-width="0.3" opacity="0.6"/>
<polygon points="369.74,65.7 378.73,75.5 369.64,85.3 360.14,75.5" fill="#fce39e" stroke="#9a7c3a" stroke-width="0.45" stroke-linejoin="round" />
<polygon points="360.14,75.5 369.64,85.3 369.14,77.1" fill="#f5d572" stroke="none" stroke-width="0" stroke-linejoin="round" opacity="0.25"/>
<line x1="369.74" y1="65.7" x2="369.14" y2="77.1" stroke="#9a7c3a" stroke-width="0.4" />
<line x1="378.73" y1="75.5" x2="369.14" y2="77.1" stroke="#9a7c3a" stroke-width="0.4" />
<line x1="369.64" y1="85.3" x2="369.14" y2="77.1" stroke="#9a7c3a" stroke-width="0.4" />
<line x1="360.14" y1="75.5" x2="369.14" y2="77.1" stroke="#9a7c3a" stroke-width="0.4" />
<line x1="360.14" y1="75.5" x2="378.73" y2="75.5" stroke="#9a7c3a" stroke-width="0.3" opacity="0.6"/>
<polygon points="388.32,65.7 397.31,75.5 388.22,85.3 378.73,75.5" fill="#fce39e" stroke="#9a7c3a" stroke-width="0.45" stroke-linejoin="round" />
<polygon points="378.73,75.5 388.22,85.3 387.72,77.1" fill="#f5d572" stroke="none" stroke-width="0" stroke-linejoin="round" opacity="0.25"/>
<line x1="388.32" y1="65.7" x2="387.72" y2="77.1" stroke="#9a7c3a" stroke-width="0.4" />
<line x1="397.31" y1="75.5" x2="387.72" y2="77.1" stroke="#9a7c3a" stroke-width="0.4" />
<line x1="388.22" y1="85.3" x2="387.72" y2="77.1" stroke="#9a7c3a" stroke-width="0.4" />
<line x1="378.73" y1="75.5" x2="387.72" y2="77.1" stroke="#9a7c3a" stroke-width="0.4" />
<line x1="378.73" y1="75.5" x2="397.31" y2="75.5" stroke="#9a7c3a" stroke-width="0.3" opacity="0.6"/>
<polygon points="406.91,65.7 415.9,75.5 406.81,85.3 397.31,75.5" fill="#fce39e" stroke="#9a7c3a" stroke-width="0.45" stroke-linejoin="round" />
<polygon points="397.31,75.5 406.81,85.3 406.31,77.1" fill="#f5d572" stroke="none" stroke-width="0" stroke-linejoin="round" opacity="0.25"/>
<line x1="406.91" y1="65.7" x2="406.31" y2="77.1" stroke="#9a7c3a" stroke-width="0.4" />
<line x1="415.9" y1="75.5" x2="406.31" y2="77.1" stroke="#9a7c3a" stroke-width="0.4" />
<line x1="406.81" y1="85.3" x2="406.31" y2="77.1" stroke="#9a7c3a" stroke-width="0.4" />
<line x1="397.31" y1="75.5" x2="406.31" y2="77.1" stroke="#9a7c3a" stroke-width="0.4" />
<line x1="397.31" y1="75.5" x2="415.9" y2="75.5" stroke="#9a7c3a" stroke-width="0.3" opacity="0.6"/>
<circle cx="295.39" cy="65.7" r="1.15" fill="#70ae3e" />
<circle cx="295.29" cy="85.3" r="1.15" fill="#e6b000" />
<circle cx="294.79" cy="77.1" r="1.1" fill="#e6b000" />
<circle cx="285.8" cy="75.5" r="1.1" fill="#70ae3e" />
<circle cx="313.98" cy="65.7" r="1.15" fill="#e6b000" />
<circle cx="313.88" cy="85.3" r="1.15" fill="#e6b000" />
<circle cx="313.38" cy="77.1" r="1.1" fill="#70ae3e" />
<circle cx="304.39" cy="75.5" r="1.1" fill="#e6b000" />
<circle cx="332.56" cy="65.7" r="1.15" fill="#e6b000" />
<circle cx="332.46" cy="85.3" r="1.15" fill="#e6b000" />
<circle cx="331.96" cy="77.1" r="1.1" fill="#70ae3e" />
<circle cx="322.97" cy="75.5" r="1.1" fill="#70ae3e" />
<circle cx="351.15" cy="65.7" r="1.15" fill="#70ae3e" />
<circle cx="351.05" cy="85.3" r="1.15" fill="#e6b000" />
<circle cx="350.55" cy="77.1" r="1.1" fill="#e6b000" />
<circle cx="341.56" cy="75.5" r="1.1" fill="#70ae3e" />
<circle cx="369.74" cy="65.7" r="1.15" fill="#e6b000" />
<circle cx="369.64" cy="85.3" r="1.15" fill="#e6b000" />
<circle cx="369.14" cy="77.1" r="1.1" fill="#e6b000" />
<circle cx="360.14" cy="75.5" r="1.1" fill="#e6b000" />
<circle cx="388.32" cy="65.7" r="1.15" fill="#70ae3e" />
<circle cx="388.22" cy="85.3" r="1.15" fill="#70ae3e" />
<circle cx="387.72" cy="77.1" r="1.1" fill="#e6b000" />
<circle cx="378.73" cy="75.5" r="1.1" fill="#70ae3e" />
<circle cx="406.91" cy="65.7" r="1.15" fill="#70ae3e" />
<circle cx="406.81" cy="85.3" r="1.15" fill="#70ae3e" />
<circle cx="406.31" cy="77.1" r="1.1" fill="#70ae3e" />
<circle cx="397.31" cy="75.5" r="1.1" fill="#70ae3e" />
<circle cx="415.9" cy="75.5" r="1.1" fill="#70ae3e" />
</g>
</g>
<g>
<polygon points="294.66,94.1 305.23,101.86 297.46,112.42 286.9,104.66" fill="#f3a970" stroke="#6b4a2c" stroke-width="0.45" stroke-linejoin="round" />
<line x1="294.66" y1="94.1" x2="295.66" y2="104.56" stroke="#6b4a2c" stroke-width="0.45" />
<line x1="294.66" y1="94.1" x2="296.76" y2="102.66" stroke="#6b4a2c" stroke-width="0.3" opacity="0.5"/>
<line x1="305.23" y1="101.86" x2="295.66" y2="104.56" stroke="#6b4a2c" stroke-width="0.45" />
<line x1="305.23" y1="101.86" x2="296.76" y2="102.66" stroke="#6b4a2c" stroke-width="0.3" opacity="0.5"/>
<line x1="297.46" y1="112.42" x2="295.66" y2="104.56" stroke="#6b4a2c" stroke-width="0.45" />
<line x1="297.46" y1="112.42" x2="296.76" y2="102.66" stroke="#6b4a2c" stroke-width="0.3" opacity="0.5"/>
<line x1="286.9" y1="104.66" x2="295.66" y2="104.56" stroke="#6b4a2c" stroke-width="0.45" />
<line x1="286.9" y1="104.66" x2="296.76" y2="102.66" stroke="#6b4a2c" stroke-width="0.3" opacity="0.5"/>
<polygon points="315.79,94.1 323.56,104.66 312.99,112.42 305.23,101.86" fill="#f3a970" stroke="#6b4a2c" stroke-width="0.45" stroke-linejoin="round" />
<line x1="315.79" y1="94.1" x2="313.99" y2="104.56" stroke="#6b4a2c" stroke-width="0.45" />
<line x1="315.79" y1="94.1" x2="313.69" y2="102.66" stroke="#6b4a2c" stroke-width="0.3" opacity="0.5"/>
<line x1="323.56" y1="104.66" x2="313.99" y2="104.56" stroke="#6b4a2c" stroke-width="0.45" />
<line x1="323.56" y1="104.66" x2="313.69" y2="102.66" stroke="#6b4a2c" stroke-width="0.3" opacity="0.5"/>
<line x1="312.99" y1="112.42" x2="313.99" y2="104.56" stroke="#6b4a2c" stroke-width="0.45" />
<line x1="312.99" y1="112.42" x2="313.69" y2="102.66" stroke="#6b4a2c" stroke-width="0.3" opacity="0.5"/>
<line x1="305.23" y1="101.86" x2="313.99" y2="104.56" stroke="#6b4a2c" stroke-width="0.45" />
<line x1="305.23" y1="101.86" x2="313.69" y2="102.66" stroke="#6b4a2c" stroke-width="0.3" opacity="0.5"/>
<polygon points="331.32,94.1 341.89,101.86 334.12,112.42 323.56,104.66" fill="#f3a970" stroke="#6b4a2c" stroke-width="0.45" stroke-linejoin="round" />
<line x1="331.32" y1="94.1" x2="332.32" y2="104.56" stroke="#6b4a2c" stroke-width="0.45" />
<line x1="331.32" y1="94.1" x2="333.42" y2="102.66" stroke="#6b4a2c" stroke-width="0.3" opacity="0.5"/>
<line x1="341.89" y1="101.86" x2="332.32" y2="104.56" stroke="#6b4a2c" stroke-width="0.45" />
<line x1="341.89" y1="101.86" x2="333.42" y2="102.66" stroke="#6b4a2c" stroke-width="0.3" opacity="0.5"/>
<line x1="334.12" y1="112.42" x2="332.32" y2="104.56" stroke="#6b4a2c" stroke-width="0.45" />
<line x1="334.12" y1="112.42" x2="333.42" y2="102.66" stroke="#6b4a2c" stroke-width="0.3" opacity="0.5"/>
<line x1="323.56" y1="104.66" x2="332.32" y2="104.56" stroke="#6b4a2c" stroke-width="0.45" />
<line x1="323.56" y1="104.66" x2="333.42" y2="102.66" stroke="#6b4a2c" stroke-width="0.3" opacity="0.5"/>
<polygon points="352.45,94.1 360.21,104.66 349.65,112.42 341.89,101.86" fill="#f3a970" stroke="#6b4a2c" stroke-width="0.45" stroke-linejoin="round" />
<line x1="352.45" y1="94.1" x2="350.65" y2="104.56" stroke="#6b4a2c" stroke-width="0.45" />
<line x1="352.45" y1="94.1" x2="350.35" y2="102.66" stroke="#6b4a2c" stroke-width="0.3" opacity="0.5"/>
<line x1="360.21" y1="104.66" x2="350.65" y2="104.56" stroke="#6b4a2c" stroke-width="0.45" />
<line x1="360.21" y1="104.66" x2="350.35" y2="102.66" stroke="#6b4a2c" stroke-width="0.3" opacity="0.5"/>
<line x1="349.65" y1="112.42" x2="350.65" y2="104.56" stroke="#6b4a2c" stroke-width="0.45" />
<line x1="349.65" y1="112.42" x2="350.35" y2="102.66" stroke="#6b4a2c" stroke-width="0.3" opacity="0.5"/>
<line x1="341.89" y1="101.86" x2="350.65" y2="104.56" stroke="#6b4a2c" stroke-width="0.45" />
<line x1="341.89" y1="101.86" x2="350.35" y2="102.66" stroke="#6b4a2c" stroke-width="0.3" opacity="0.5"/>
<polygon points="367.98,94.1 378.54,101.86 370.78,112.42 360.21,104.66" fill="#f3a970" stroke="#6b4a2c" stroke-width="0.45" stroke-linejoin="round" />
<line x1="367.98" y1="94.1" x2="368.98" y2="104.56" stroke="#6b4a2c" stroke-width="0.45" />
<line x1="367.98" y1="94.1" x2="370.08" y2="102.66" stroke="#6b4a2c" stroke-width="0.3" opacity="0.5"/>
<line x1="378.54" y1="101.86" x2="368.98" y2="104.56" stroke="#6b4a2c" stroke-width="0.45" />
<line x1="378.54" y1="101.86" x2="370.08" y2="102.66" stroke="#6b4a2c" stroke-width="0.3" opacity="0.5"/>
<line x1="370.78" y1="112.42" x2="368.98" y2="104.56" stroke="#6b4a2c" stroke-width="0.45" />
<line x1="370.78" y1="112.42" x2="370.08" y2="102.66" stroke="#6b4a2c" stroke-width="0.3" opacity="0.5"/>
<line x1="360.21" y1="104.66" x2="368.98" y2="104.56" stroke="#6b4a2c" stroke-width="0.45" />
<line x1="360.21" y1="104.66" x2="370.08" y2="102.66" stroke="#6b4a2c" stroke-width="0.3" opacity="0.5"/>
<polygon points="389.11,94.1 396.87,104.66 386.31,112.42 378.54,101.86" fill="#f3a970" stroke="#6b4a2c" stroke-width="0.45" stroke-linejoin="round" />
<line x1="389.11" y1="94.1" x2="387.31" y2="104.56" stroke="#6b4a2c" stroke-width="0.45" />
<line x1="389.11" y1="94.1" x2="387.01" y2="102.66" stroke="#6b4a2c" stroke-width="0.3" opacity="0.5"/>
<line x1="396.87" y1="104.66" x2="387.31" y2="104.56" stroke="#6b4a2c" stroke-width="0.45" />
<line x1="396.87" y1="104.66" x2="387.01" y2="102.66" stroke="#6b4a2c" stroke-width="0.3" opacity="0.5"/>
<line x1="386.31" y1="112.42" x2="387.31" y2="104.56" stroke="#6b4a2c" stroke-width="0.45" />
<line x1="386.31" y1="112.42" x2="387.01" y2="102.66" stroke="#6b4a2c" stroke-width="0.3" opacity="0.5"/>
<line x1="378.54" y1="101.86" x2="387.31" y2="104.56" stroke="#6b4a2c" stroke-width="0.45" />
<line x1="378.54" y1="101.86" x2="387.01" y2="102.66" stroke="#6b4a2c" stroke-width="0.3" opacity="0.5"/>
<polygon points="404.64,94.1 415.2,101.86 407.44,112.42 396.87,104.66" fill="#f3a970" stroke="#6b4a2c" stroke-width="0.45" stroke-linejoin="round" />
<line x1="404.64" y1="94.1" x2="405.64" y2="104.56" stroke="#6b4a2c" stroke-width="0.45" />
<line x1="404.64" y1="94.1" x2="406.74" y2="102.66" stroke="#6b4a2c" stroke-width="0.3" opacity="0.5"/>
<line x1="415.2" y1="101.86" x2="405.64" y2="104.56" stroke="#6b4a2c" stroke-width="0.45" />
<line x1="415.2" y1="101.86" x2="406.74" y2="102.66" stroke="#6b4a2c" stroke-width="0.3" opacity="0.5"/>
<line x1="407.44" y1="112.42" x2="405.64" y2="104.56" stroke="#6b4a2c" stroke-width="0.45" />
<line x1="407.44" y1="112.42" x2="406.74" y2="102.66" stroke="#6b4a2c" stroke-width="0.3" opacity="0.5"/>
<line x1="396.87" y1="104.66" x2="405.64" y2="104.56" stroke="#6b4a2c" stroke-width="0.45" />
<line x1="396.87" y1="104.66" x2="406.74" y2="102.66" stroke="#6b4a2c" stroke-width="0.3" opacity="0.5"/>
<polygon points="297.46,112.43 305.23,122.99 294.66,130.75 286.9,120.19" fill="#f3a970" stroke="#6b4a2c" stroke-width="0.45" stroke-linejoin="round" />
<line x1="297.46" y1="112.43" x2="295.66" y2="122.89" stroke="#6b4a2c" stroke-width="0.45" />
<line x1="297.46" y1="112.43" x2="295.36" y2="120.99" stroke="#6b4a2c" stroke-width="0.3" opacity="0.5"/>
<line x1="305.23" y1="122.99" x2="295.66" y2="122.89" stroke="#6b4a2c" stroke-width="0.45" />
<line x1="305.23" y1="122.99" x2="295.36" y2="120.99" stroke="#6b4a2c" stroke-width="0.3" opacity="0.5"/>
<line x1="294.66" y1="130.75" x2="295.66" y2="122.89" stroke="#6b4a2c" stroke-width="0.45" />
<line x1="294.66" y1="130.75" x2="295.36" y2="120.99" stroke="#6b4a2c" stroke-width="0.3" opacity="0.5"/>
<line x1="286.9" y1="120.19" x2="295.66" y2="122.89" stroke="#6b4a2c" stroke-width="0.45" />
<line x1="286.9" y1="120.19" x2="295.36" y2="120.99" stroke="#6b4a2c" stroke-width="0.3" opacity="0.5"/>
<polygon points="312.99,112.43 323.56,120.19 315.79,130.75 305.23,122.99" fill="#f3a970" stroke="#6b4a2c" stroke-width="0.45" stroke-linejoin="round" />
<line x1="312.99" y1="112.43" x2="313.99" y2="122.89" stroke="#6b4a2c" stroke-width="0.45" />
<line x1="312.99" y1="112.43" x2="315.09" y2="120.99" stroke="#6b4a2c" stroke-width="0.3" opacity="0.5"/>
<line x1="323.56" y1="120.19" x2="313.99" y2="122.89" stroke="#6b4a2c" stroke-width="0.45" />
<line x1="323.56" y1="120.19" x2="315.09" y2="120.99" stroke="#6b4a2c" stroke-width="0.3" opacity="0.5"/>
<line x1="315.79" y1="130.75" x2="313.99" y2="122.89" stroke="#6b4a2c" stroke-width="0.45" />
<line x1="315.79" y1="130.75" x2="315.09" y2="120.99" stroke="#6b4a2c" stroke-width="0.3" opacity="0.5"/>
<line x1="305.23" y1="122.99" x2="313.99" y2="122.89" stroke="#6b4a2c" stroke-width="0.45" />
<line x1="305.23" y1="122.99" x2="315.09" y2="120.99" stroke="#6b4a2c" stroke-width="0.3" opacity="0.5"/>
<polygon points="334.12,112.43 341.89,122.99 331.32,130.75 323.56,120.19" fill="#f3a970" stroke="#6b4a2c" stroke-width="0.45" stroke-linejoin="round" />
<line x1="334.12" y1="112.43" x2="332.32" y2="122.89" stroke="#6b4a2c" stroke-width="0.45" />
<line x1="334.12" y1="112.43" x2="332.02" y2="120.99" stroke="#6b4a2c" stroke-width="0.3" opacity="0.5"/>
<line x1="341.89" y1="122.99" x2="332.32" y2="122.89" stroke="#6b4a2c" stroke-width="0.45" />
<line x1="341.89" y1="122.99" x2="332.02" y2="120.99" stroke="#6b4a2c" stroke-width="0.3" opacity="0.5"/>
<line x1="331.32" y1="130.75" x2="332.32" y2="122.89" stroke="#6b4a2c" stroke-width="0.45" />
<line x1="331.32" y1="130.75" x2="332.02" y2="120.99" stroke="#6b4a2c" stroke-width="0.3" opacity="0.5"/>
<line x1="323.56" y1="120.19" x2="332.32" y2="122.89" stroke="#6b4a2c" stroke-width="0.45" />
<line x1="323.56" y1="120.19" x2="332.02" y2="120.99" stroke="#6b4a2c" stroke-width="0.3" opacity="0.5"/>
<polygon points="349.65,112.43 360.21,120.19 352.45,130.75 341.89,122.99" fill="#f3a970" stroke="#6b4a2c" stroke-width="0.45" stroke-linejoin="round" />
<line x1="349.65" y1="112.43" x2="350.65" y2="122.89" stroke="#6b4a2c" stroke-width="0.45" />
<line x1="349.65" y1="112.43" x2="351.75" y2="120.99" stroke="#6b4a2c" stroke-width="0.3" opacity="0.5"/>
<line x1="360.21" y1="120.19" x2="350.65" y2="122.89" stroke="#6b4a2c" stroke-width="0.45" />
<line x1="360.21" y1="120.19" x2="351.75" y2="120.99" stroke="#6b4a2c" stroke-width="0.3" opacity="0.5"/>
<line x1="352.45" y1="130.75" x2="350.65" y2="122.89" stroke="#6b4a2c" stroke-width="0.45" />
<line x1="352.45" y1="130.75" x2="351.75" y2="120.99" stroke="#6b4a2c" stroke-width="0.3" opacity="0.5"/>
<line x1="341.89" y1="122.99" x2="350.65" y2="122.89" stroke="#6b4a2c" stroke-width="0.45" />
<line x1="341.89" y1="122.99" x2="351.75" y2="120.99" stroke="#6b4a2c" stroke-width="0.3" opacity="0.5"/>
<polygon points="370.78,112.43 378.54,122.99 367.98,130.75 360.21,120.19" fill="#f3a970" stroke="#6b4a2c" stroke-width="0.45" stroke-linejoin="round" />
<line x1="370.78" y1="112.43" x2="368.98" y2="122.89" stroke="#6b4a2c" stroke-width="0.45" />
<line x1="370.78" y1="112.43" x2="368.68" y2="120.99" stroke="#6b4a2c" stroke-width="0.3" opacity="0.5"/>
<line x1="378.54" y1="122.99" x2="368.98" y2="122.89" stroke="#6b4a2c" stroke-width="0.45" />
<line x1="378.54" y1="122.99" x2="368.68" y2="120.99" stroke="#6b4a2c" stroke-width="0.3" opacity="0.5"/>
<line x1="367.98" y1="130.75" x2="368.98" y2="122.89" stroke="#6b4a2c" stroke-width="0.45" />
<line x1="367.98" y1="130.75" x2="368.68" y2="120.99" stroke="#6b4a2c" stroke-width="0.3" opacity="0.5"/>
<line x1="360.21" y1="120.19" x2="368.98" y2="122.89" stroke="#6b4a2c" stroke-width="0.45" />
<line x1="360.21" y1="120.19" x2="368.68" y2="120.99" stroke="#6b4a2c" stroke-width="0.3" opacity="0.5"/>
<polygon points="386.31,112.43 396.87,120.19 389.11,130.75 378.54,122.99" fill="#f3a970" stroke="#6b4a2c" stroke-width="0.45" stroke-linejoin="round" />
<line x1="386.31" y1="112.43" x2="387.31" y2="122.89" stroke="#6b4a2c" stroke-width="0.45" />
<line x1="386.31" y1="112.43" x2="388.41" y2="120.99" stroke="#6b4a2c" stroke-width="0.3" opacity="0.5"/>
<line x1="396.87" y1="120.19" x2="387.31" y2="122.89" stroke="#6b4a2c" stroke-width="0.45" />
<line x1="396.87" y1="120.19" x2="388.41" y2="120.99" stroke="#6b4a2c" stroke-width="0.3" opacity="0.5"/>
<line x1="389.11" y1="130.75" x2="387.31" y2="122.89" stroke="#6b4a2c" stroke-width="0.45" />
<line x1="389.11" y1="130.75" x2="388.41" y2="120.99" stroke="#6b4a2c" stroke-width="0.3" opacity="0.5"/>
<line x1="378.54" y1="122.99" x2="387.31" y2="122.89" stroke="#6b4a2c" stroke-width="0.45" />
<line x1="378.54" y1="122.99" x2="388.41" y2="120.99" stroke="#6b4a2c" stroke-width="0.3" opacity="0.5"/>
<polygon points="407.44,112.43 415.2,122.99 404.64,130.75 396.87,120.19" fill="#f3a970" stroke="#6b4a2c" stroke-width="0.45" stroke-linejoin="round" />
<line x1="407.44" y1="112.43" x2="405.64" y2="122.89" stroke="#6b4a2c" stroke-width="0.45" />
<line x1="407.44" y1="112.43" x2="405.34" y2="120.99" stroke="#6b4a2c" stroke-width="0.3" opacity="0.5"/>
<line x1="415.2" y1="122.99" x2="405.64" y2="122.89" stroke="#6b4a2c" stroke-width="0.45" />
<line x1="415.2" y1="122.99" x2="405.34" y2="120.99" stroke="#6b4a2c" stroke-width="0.3" opacity="0.5"/>
<line x1="404.64" y1="130.75" x2="405.64" y2="122.89" stroke="#6b4a2c" stroke-width="0.45" />
<line x1="404.64" y1="130.75" x2="405.34" y2="120.99" stroke="#6b4a2c" stroke-width="0.3" opacity="0.5"/>
<line x1="396.87" y1="120.19" x2="405.64" y2="122.89" stroke="#6b4a2c" stroke-width="0.45" />
<line x1="396.87" y1="120.19" x2="405.34" y2="120.99" stroke="#6b4a2c" stroke-width="0.3" opacity="0.5"/>
<polygon points="294.66,130.75 305.23,138.51 297.46,149.07 286.9,141.31" fill="#f3a970" stroke="#6b4a2c" stroke-width="0.45" stroke-linejoin="round" />
<line x1="294.66" y1="130.75" x2="295.66" y2="141.21" stroke="#6b4a2c" stroke-width="0.45" />
<line x1="294.66" y1="130.75" x2="296.76" y2="139.31" stroke="#6b4a2c" stroke-width="0.3" opacity="0.5"/>
<line x1="305.23" y1="138.51" x2="295.66" y2="141.21" stroke="#6b4a2c" stroke-width="0.45" />
<line x1="305.23" y1="138.51" x2="296.76" y2="139.31" stroke="#6b4a2c" stroke-width="0.3" opacity="0.5"/>
<line x1="297.46" y1="149.07" x2="295.66" y2="141.21" stroke="#6b4a2c" stroke-width="0.45" />
<line x1="297.46" y1="149.07" x2="296.76" y2="139.31" stroke="#6b4a2c" stroke-width="0.3" opacity="0.5"/>
<line x1="286.9" y1="141.31" x2="295.66" y2="141.21" stroke="#6b4a2c" stroke-width="0.45" />
<line x1="286.9" y1="141.31" x2="296.76" y2="139.31" stroke="#6b4a2c" stroke-width="0.3" opacity="0.5"/>
<polygon points="315.79,130.75 323.56,141.31 312.99,149.07 305.23,138.51" fill="#f3a970" stroke="#6b4a2c" stroke-width="0.45" stroke-linejoin="round" />
<line x1="315.79" y1="130.75" x2="313.99" y2="141.21" stroke="#6b4a2c" stroke-width="0.45" />
<line x1="315.79" y1="130.75" x2="313.69" y2="139.31" stroke="#6b4a2c" stroke-width="0.3" opacity="0.5"/>
<line x1="323.56" y1="141.31" x2="313.99" y2="141.21" stroke="#6b4a2c" stroke-width="0.45" />
<line x1="323.56" y1="141.31" x2="313.69" y2="139.31" stroke="#6b4a2c" stroke-width="0.3" opacity="0.5"/>
<line x1="312.99" y1="149.07" x2="313.99" y2="141.21" stroke="#6b4a2c" stroke-width="0.45" />
<line x1="312.99" y1="149.07" x2="313.69" y2="139.31" stroke="#6b4a2c" stroke-width="0.3" opacity="0.5"/>
<line x1="305.23" y1="138.51" x2="313.99" y2="141.21" stroke="#6b4a2c" stroke-width="0.45" />
<line x1="305.23" y1="138.51" x2="313.69" y2="139.31" stroke="#6b4a2c" stroke-width="0.3" opacity="0.5"/>
<polygon points="331.32,130.75 341.89,138.51 334.12,149.07 323.56,141.31" fill="#f3a970" stroke="#6b4a2c" stroke-width="0.45" stroke-linejoin="round" />
<line x1="331.32" y1="130.75" x2="332.32" y2="141.21" stroke="#6b4a2c" stroke-width="0.45" />
<line x1="331.32" y1="130.75" x2="333.42" y2="139.31" stroke="#6b4a2c" stroke-width="0.3" opacity="0.5"/>
<line x1="341.89" y1="138.51" x2="332.32" y2="141.21" stroke="#6b4a2c" stroke-width="0.45" />
<line x1="341.89" y1="138.51" x2="333.42" y2="139.31" stroke="#6b4a2c" stroke-width="0.3" opacity="0.5"/>
<line x1="334.12" y1="149.07" x2="332.32" y2="141.21" stroke="#6b4a2c" stroke-width="0.45" />
<line x1="334.12" y1="149.07" x2="333.42" y2="139.31" stroke="#6b4a2c" stroke-width="0.3" opacity="0.5"/>
<line x1="323.56" y1="141.31" x2="332.32" y2="141.21" stroke="#6b4a2c" stroke-width="0.45" />
<line x1="323.56" y1="141.31" x2="333.42" y2="139.31" stroke="#6b4a2c" stroke-width="0.3" opacity="0.5"/>
<polygon points="352.45,130.75 360.21,141.31 349.65,149.07 341.89,138.51" fill="#f3a970" stroke="#6b4a2c" stroke-width="0.45" stroke-linejoin="round" />
<line x1="352.45" y1="130.75" x2="350.65" y2="141.21" stroke="#6b4a2c" stroke-width="0.45" />
<line x1="352.45" y1="130.75" x2="350.35" y2="139.31" stroke="#6b4a2c" stroke-width="0.3" opacity="0.5"/>
<line x1="360.21" y1="141.31" x2="350.65" y2="141.21" stroke="#6b4a2c" stroke-width="0.45" />
<line x1="360.21" y1="141.31" x2="350.35" y2="139.31" stroke="#6b4a2c" stroke-width="0.3" opacity="0.5"/>
<line x1="349.65" y1="149.07" x2="350.65" y2="141.21" stroke="#6b4a2c" stroke-width="0.45" />
<line x1="349.65" y1="149.07" x2="350.35" y2="139.31" stroke="#6b4a2c" stroke-width="0.3" opacity="0.5"/>
<line x1="341.89" y1="138.51" x2="350.65" y2="141.21" stroke="#6b4a2c" stroke-width="0.45" />
<line x1="341.89" y1="138.51" x2="350.35" y2="139.31" stroke="#6b4a2c" stroke-width="0.3" opacity="0.5"/>
<polygon points="367.98,130.75 378.54,138.51 370.78,149.07 360.21,141.31" fill="#f3a970" stroke="#6b4a2c" stroke-width="0.45" stroke-linejoin="round" />
<line x1="367.98" y1="130.75" x2="368.98" y2="141.21" stroke="#6b4a2c" stroke-width="0.45" />
<line x1="367.98" y1="130.75" x2="370.08" y2="139.31" stroke="#6b4a2c" stroke-width="0.3" opacity="0.5"/>
<line x1="378.54" y1="138.51" x2="368.98" y2="141.21" stroke="#6b4a2c" stroke-width="0.45" />
<line x1="378.54" y1="138.51" x2="370.08" y2="139.31" stroke="#6b4a2c" stroke-width="0.3" opacity="0.5"/>
<line x1="370.78" y1="149.07" x2="368.98" y2="141.21" stroke="#6b4a2c" stroke-width="0.45" />
<line x1="370.78" y1="149.07" x2="370.08" y2="139.31" stroke="#6b4a2c" stroke-width="0.3" opacity="0.5"/>
<line x1="360.21" y1="141.31" x2="368.98" y2="141.21" stroke="#6b4a2c" stroke-width="0.45" />
<line x1="360.21" y1="141.31" x2="370.08" y2="139.31" stroke="#6b4a2c" stroke-width="0.3" opacity="0.5"/>
<polygon points="389.11,130.75 396.87,141.31 386.31,149.07 378.54,138.51" fill="#f3a970" stroke="#6b4a2c" stroke-width="0.45" stroke-linejoin="round" />
<line x1="389.11" y1="130.75" x2="387.31" y2="141.21" stroke="#6b4a2c" stroke-width="0.45" />
<line x1="389.11" y1="130.75" x2="387.01" y2="139.31" stroke="#6b4a2c" stroke-width="0.3" opacity="0.5"/>
<line x1="396.87" y1="141.31" x2="387.31" y2="141.21" stroke="#6b4a2c" stroke-width="0.45" />
<line x1="396.87" y1="141.31" x2="387.01" y2="139.31" stroke="#6b4a2c" stroke-width="0.3" opacity="0.5"/>
<line x1="386.31" y1="149.07" x2="387.31" y2="141.21" stroke="#6b4a2c" stroke-width="0.45" />
<line x1="386.31" y1="149.07" x2="387.01" y2="139.31" stroke="#6b4a2c" stroke-width="0.3" opacity="0.5"/>
<line x1="378.54" y1="138.51" x2="387.31" y2="141.21" stroke="#6b4a2c" stroke-width="0.45" />
<line x1="378.54" y1="138.51" x2="387.01" y2="139.31" stroke="#6b4a2c" stroke-width="0.3" opacity="0.5"/>
<polygon points="404.64,130.75 415.2,138.51 407.44,149.07 396.87,141.31" fill="#f3a970" stroke="#6b4a2c" stroke-width="0.45" stroke-linejoin="round" />
<line x1="404.64" y1="130.75" x2="405.64" y2="141.21" stroke="#6b4a2c" stroke-width="0.45" />
<line x1="404.64" y1="130.75" x2="406.74" y2="139.31" stroke="#6b4a2c" stroke-width="0.3" opacity="0.5"/>
<line x1="415.2" y1="138.51" x2="405.64" y2="141.21" stroke="#6b4a2c" stroke-width="0.45" />
<line x1="415.2" y1="138.51" x2="406.74" y2="139.31" stroke="#6b4a2c" stroke-width="0.3" opacity="0.5"/>
<line x1="407.44" y1="149.07" x2="405.64" y2="141.21" stroke="#6b4a2c" stroke-width="0.45" />
<line x1="407.44" y1="149.07" x2="406.74" y2="139.31" stroke="#6b4a2c" stroke-width="0.3" opacity="0.5"/>
<line x1="396.87" y1="141.31" x2="405.64" y2="141.21" stroke="#6b4a2c" stroke-width="0.45" />
<line x1="396.87" y1="141.31" x2="406.74" y2="139.31" stroke="#6b4a2c" stroke-width="0.3" opacity="0.5"/>
<polygon points="297.46,149.08 305.23,159.64 294.66,167.4 286.9,156.84" fill="#f3a970" stroke="#6b4a2c" stroke-width="0.45" stroke-linejoin="round" />
<line x1="297.46" y1="149.08" x2="295.66" y2="159.54" stroke="#6b4a2c" stroke-width="0.45" />
<line x1="297.46" y1="149.08" x2="295.36" y2="157.64" stroke="#6b4a2c" stroke-width="0.3" opacity="0.5"/>
<line x1="305.23" y1="159.64" x2="295.66" y2="159.54" stroke="#6b4a2c" stroke-width="0.45" />
<line x1="305.23" y1="159.64" x2="295.36" y2="157.64" stroke="#6b4a2c" stroke-width="0.3" opacity="0.5"/>
<line x1="294.66" y1="167.4" x2="295.66" y2="159.54" stroke="#6b4a2c" stroke-width="0.45" />
<line x1="294.66" y1="167.4" x2="295.36" y2="157.64" stroke="#6b4a2c" stroke-width="0.3" opacity="0.5"/>
<line x1="286.9" y1="156.84" x2="295.66" y2="159.54" stroke="#6b4a2c" stroke-width="0.45" />
<line x1="286.9" y1="156.84" x2="295.36" y2="157.64" stroke="#6b4a2c" stroke-width="0.3" opacity="0.5"/>
<polygon points="312.99,149.08 323.56,156.84 315.79,167.4 305.23,159.64" fill="#f3a970" stroke="#6b4a2c" stroke-width="0.45" stroke-linejoin="round" />
<line x1="312.99" y1="149.08" x2="313.99" y2="159.54" stroke="#6b4a2c" stroke-width="0.45" />
<line x1="312.99" y1="149.08" x2="315.09" y2="157.64" stroke="#6b4a2c" stroke-width="0.3" opacity="0.5"/>
<line x1="323.56" y1="156.84" x2="313.99" y2="159.54" stroke="#6b4a2c" stroke-width="0.45" />
<line x1="323.56" y1="156.84" x2="315.09" y2="157.64" stroke="#6b4a2c" stroke-width="0.3" opacity="0.5"/>
<line x1="315.79" y1="167.4" x2="313.99" y2="159.54" stroke="#6b4a2c" stroke-width="0.45" />
<line x1="315.79" y1="167.4" x2="315.09" y2="157.64" stroke="#6b4a2c" stroke-width="0.3" opacity="0.5"/>
<line x1="305.23" y1="159.64" x2="313.99" y2="159.54" stroke="#6b4a2c" stroke-width="0.45" />
<line x1="305.23" y1="159.64" x2="315.09" y2="157.64" stroke="#6b4a2c" stroke-width="0.3" opacity="0.5"/>
<polygon points="334.12,149.08 341.89,159.64 331.32,167.4 323.56,156.84" fill="#f3a970" stroke="#6b4a2c" stroke-width="0.45" stroke-linejoin="round" />
<line x1="334.12" y1="149.08" x2="332.32" y2="159.54" stroke="#6b4a2c" stroke-width="0.45" />
<line x1="334.12" y1="149.08" x2="332.02" y2="157.64" stroke="#6b4a2c" stroke-width="0.3" opacity="0.5"/>
<line x1="341.89" y1="159.64" x2="332.32" y2="159.54" stroke="#6b4a2c" stroke-width="0.45" />
<line x1="341.89" y1="159.64" x2="332.02" y2="157.64" stroke="#6b4a2c" stroke-width="0.3" opacity="0.5"/>
<line x1="331.32" y1="167.4" x2="332.32" y2="159.54" stroke="#6b4a2c" stroke-width="0.45" />
<line x1="331.32" y1="167.4" x2="332.02" y2="157.64" stroke="#6b4a2c" stroke-width="0.3" opacity="0.5"/>
<line x1="323.56" y1="156.84" x2="332.32" y2="159.54" stroke="#6b4a2c" stroke-width="0.45" />
<line x1="323.56" y1="156.84" x2="332.02" y2="157.64" stroke="#6b4a2c" stroke-width="0.3" opacity="0.5"/>
<polygon points="349.65,149.08 360.21,156.84 352.45,167.4 341.89,159.64" fill="#f3a970" stroke="#6b4a2c" stroke-width="0.45" stroke-linejoin="round" />
<line x1="349.65" y1="149.08" x2="350.65" y2="159.54" stroke="#6b4a2c" stroke-width="0.45" />
<line x1="349.65" y1="149.08" x2="351.75" y2="157.64" stroke="#6b4a2c" stroke-width="0.3" opacity="0.5"/>
<line x1="360.21" y1="156.84" x2="350.65" y2="159.54" stroke="#6b4a2c" stroke-width="0.45" />
<line x1="360.21" y1="156.84" x2="351.75" y2="157.64" stroke="#6b4a2c" stroke-width="0.3" opacity="0.5"/>
<line x1="352.45" y1="167.4" x2="350.65" y2="159.54" stroke="#6b4a2c" stroke-width="0.45" />
<line x1="352.45" y1="167.4" x2="351.75" y2="157.64" stroke="#6b4a2c" stroke-width="0.3" opacity="0.5"/>
<line x1="341.89" y1="159.64" x2="350.65" y2="159.54" stroke="#6b4a2c" stroke-width="0.45" />
<line x1="341.89" y1="159.64" x2="351.75" y2="157.64" stroke="#6b4a2c" stroke-width="0.3" opacity="0.5"/>
<polygon points="370.78,149.08 378.54,159.64 367.98,167.4 360.21,156.84" fill="#f3a970" stroke="#6b4a2c" stroke-width="0.45" stroke-linejoin="round" />
<line x1="370.78" y1="149.08" x2="368.98" y2="159.54" stroke="#6b4a2c" stroke-width="0.45" />
<line x1="370.78" y1="149.08" x2="368.68" y2="157.64" stroke="#6b4a2c" stroke-width="0.3" opacity="0.5"/>
<line x1="378.54" y1="159.64" x2="368.98" y2="159.54" stroke="#6b4a2c" stroke-width="0.45" />
<line x1="378.54" y1="159.64" x2="368.68" y2="157.64" stroke="#6b4a2c" stroke-width="0.3" opacity="0.5"/>
<line x1="367.98" y1="167.4" x2="368.98" y2="159.54" stroke="#6b4a2c" stroke-width="0.45" />
<line x1="367.98" y1="167.4" x2="368.68" y2="157.64" stroke="#6b4a2c" stroke-width="0.3" opacity="0.5"/>
<line x1="360.21" y1="156.84" x2="368.98" y2="159.54" stroke="#6b4a2c" stroke-width="0.45" />
<line x1="360.21" y1="156.84" x2="368.68" y2="157.64" stroke="#6b4a2c" stroke-width="0.3" opacity="0.5"/>
<polygon points="386.31,149.08 396.87,156.84 389.11,167.4 378.54,159.64" fill="#f3a970" stroke="#6b4a2c" stroke-width="0.45" stroke-linejoin="round" />
<line x1="386.31" y1="149.08" x2="387.31" y2="159.54" stroke="#6b4a2c" stroke-width="0.45" />
<line x1="386.31" y1="149.08" x2="388.41" y2="157.64" stroke="#6b4a2c" stroke-width="0.3" opacity="0.5"/>
<line x1="396.87" y1="156.84" x2="387.31" y2="159.54" stroke="#6b4a2c" stroke-width="0.45" />
<line x1="396.87" y1="156.84" x2="388.41" y2="157.64" stroke="#6b4a2c" stroke-width="0.3" opacity="0.5"/>
<line x1="389.11" y1="167.4" x2="387.31" y2="159.54" stroke="#6b4a2c" stroke-width="0.45" />
<line x1="389.11" y1="167.4" x2="388.41" y2="157.64" stroke="#6b4a2c" stroke-width="0.3" opacity="0.5"/>
<line x1="378.54" y1="159.64" x2="387.31" y2="159.54" stroke="#6b4a2c" stroke-width="0.45" />
<line x1="378.54" y1="159.64" x2="388.41" y2="157.64" stroke="#6b4a2c" stroke-width="0.3" opacity="0.5"/>
<polygon points="407.44,149.08 415.2,159.64 404.64,167.4 396.87,156.84" fill="#f3a970" stroke="#6b4a2c" stroke-width="0.45" stroke-linejoin="round" />
<line x1="407.44" y1="149.08" x2="405.64" y2="159.54" stroke="#6b4a2c" stroke-width="0.45" />
<line x1="407.44" y1="149.08" x2="405.34" y2="157.64" stroke="#6b4a2c" stroke-width="0.3" opacity="0.5"/>
<line x1="415.2" y1="159.64" x2="405.64" y2="159.54" stroke="#6b4a2c" stroke-width="0.45" />
<line x1="415.2" y1="159.64" x2="405.34" y2="157.64" stroke="#6b4a2c" stroke-width="0.3" opacity="0.5"/>
<line x1="404.64" y1="167.4" x2="405.64" y2="159.54" stroke="#6b4a2c" stroke-width="0.45" />
<line x1="404.64" y1="167.4" x2="405.34" y2="157.64" stroke="#6b4a2c" stroke-width="0.3" opacity="0.5"/>
<line x1="396.87" y1="156.84" x2="405.64" y2="159.54" stroke="#6b4a2c" stroke-width="0.45" />
<line x1="396.87" y1="156.84" x2="405.34" y2="157.64" stroke="#6b4a2c" stroke-width="0.3" opacity="0.5"/>
<circle cx="294.66" cy="94.1" r="1.1" fill="#e6b000" />
<circle cx="305.23" cy="101.86" r="1.1" fill="#e6b000" />
<circle cx="297.46" cy="112.42" r="1.1" fill="#e6b000" />
<circle cx="286.9" cy="104.66" r="1.1" fill="#70ae3e" />
<circle cx="295.66" cy="104.56" r="1" fill="#e6b000" />
<circle cx="315.79" cy="94.1" r="1.1" fill="#70ae3e" />
<circle cx="323.56" cy="104.66" r="1.1" fill="#70ae3e" />
<circle cx="312.99" cy="112.42" r="1.1" fill="#e6b000" />
<circle cx="313.99" cy="104.56" r="1" fill="#e6b000" />
<circle cx="331.32" cy="94.1" r="1.1" fill="#e6b000" />
<circle cx="341.89" cy="101.86" r="1.1" fill="#e6b000" />
<circle cx="334.12" cy="112.42" r="1.1" fill="#70ae3e" />
<circle cx="332.32" cy="104.56" r="1" fill="#70ae3e" />
<circle cx="352.45" cy="94.1" r="1.1" fill="#70ae3e" />
<circle cx="360.21" cy="104.66" r="1.1" fill="#70ae3e" />
<circle cx="349.65" cy="112.42" r="1.1" fill="#e6b000" />
<circle cx="350.65" cy="104.56" r="1" fill="#70ae3e" />
<circle cx="367.98" cy="94.1" r="1.1" fill="#e6b000" />
<circle cx="378.54" cy="101.86" r="1.1" fill="#70ae3e" />
<circle cx="370.78" cy="112.42" r="1.1" fill="#e6b000" />
<circle cx="368.98" cy="104.56" r="1" fill="#e6b000" />
<circle cx="389.11" cy="94.1" r="1.1" fill="#70ae3e" />
<circle cx="396.87" cy="104.66" r="1.1" fill="#70ae3e" />
<circle cx="386.31" cy="112.42" r="1.1" fill="#e6b000" />
<circle cx="387.31" cy="104.56" r="1" fill="#70ae3e" />
<circle cx="404.64" cy="94.1" r="1.1" fill="#e6b000" />
<circle cx="415.2" cy="101.86" r="1.1" fill="#70ae3e" />
<circle cx="407.44" cy="112.42" r="1.1" fill="#70ae3e" />
<circle cx="405.64" cy="104.56" r="1" fill="#e6b000" />
<circle cx="305.23" cy="122.99" r="1.1" fill="#e6b000" />
<circle cx="294.66" cy="130.75" r="1.1" fill="#70ae3e" />
<circle cx="286.9" cy="120.19" r="1.1" fill="#70ae3e" />
<circle cx="295.66" cy="122.89" r="1" fill="#70ae3e" />
<circle cx="323.56" cy="120.19" r="1.1" fill="#e6b000" />
<circle cx="315.79" cy="130.75" r="1.1" fill="#e6b000" />
<circle cx="313.99" cy="122.89" r="1" fill="#70ae3e" />
<circle cx="341.89" cy="122.99" r="1.1" fill="#70ae3e" />
<circle cx="331.32" cy="130.75" r="1.1" fill="#70ae3e" />
<circle cx="332.32" cy="122.89" r="1" fill="#70ae3e" />
<circle cx="360.21" cy="120.19" r="1.1" fill="#e6b000" />
<circle cx="352.45" cy="130.75" r="1.1" fill="#70ae3e" />
<circle cx="350.65" cy="122.89" r="1" fill="#e6b000" />
<circle cx="378.54" cy="122.99" r="1.1" fill="#70ae3e" />
<circle cx="367.98" cy="130.75" r="1.1" fill="#70ae3e" />
<circle cx="368.98" cy="122.89" r="1" fill="#e6b000" />
<circle cx="396.87" cy="120.19" r="1.1" fill="#70ae3e" />
<circle cx="389.11" cy="130.75" r="1.1" fill="#e6b000" />
<circle cx="387.31" cy="122.89" r="1" fill="#70ae3e" />
<circle cx="415.2" cy="122.99" r="1.1" fill="#70ae3e" />
<circle cx="404.64" cy="130.75" r="1.1" fill="#70ae3e" />
<circle cx="405.64" cy="122.89" r="1" fill="#70ae3e" />
<circle cx="305.23" cy="138.51" r="1.1" fill="#e6b000" />
<circle cx="297.46" cy="149.07" r="1.1" fill="#e6b000" />
<circle cx="286.9" cy="141.31" r="1.1" fill="#70ae3e" />
<circle cx="295.66" cy="141.21" r="1" fill="#e6b000" />
<circle cx="323.56" cy="141.31" r="1.1" fill="#70ae3e" />
<circle cx="312.99" cy="149.07" r="1.1" fill="#70ae3e" />
<circle cx="313.99" cy="141.21" r="1" fill="#e6b000" />
<circle cx="341.89" cy="138.51" r="1.1" fill="#e6b000" />
<circle cx="334.12" cy="149.07" r="1.1" fill="#70ae3e" />
<circle cx="332.32" cy="141.21" r="1" fill="#e6b000" />
<circle cx="360.21" cy="141.31" r="1.1" fill="#70ae3e" />
<circle cx="349.65" cy="149.07" r="1.1" fill="#70ae3e" />
<circle cx="350.65" cy="141.21" r="1" fill="#e6b000" />
<circle cx="378.54" cy="138.51" r="1.1" fill="#70ae3e" />
<circle cx="370.78" cy="149.07" r="1.1" fill="#70ae3e" />
<circle cx="368.98" cy="141.21" r="1" fill="#70ae3e" />
<circle cx="396.87" cy="141.31" r="1.1" fill="#70ae3e" />
<circle cx="386.31" cy="149.07" r="1.1" fill="#e6b000" />
<circle cx="387.31" cy="141.21" r="1" fill="#70ae3e" />
<circle cx="415.2" cy="138.51" r="1.1" fill="#e6b000" />
<circle cx="407.44" cy="149.07" r="1.1" fill="#70ae3e" />
<circle cx="405.64" cy="141.21" r="1" fill="#70ae3e" />
<circle cx="305.23" cy="159.64" r="1.1" fill="#e6b000" />
<circle cx="294.66" cy="167.4" r="1.1" fill="#70ae3e" />
<circle cx="286.9" cy="156.84" r="1.1" fill="#e6b000" />
<circle cx="295.66" cy="159.54" r="1" fill="#e6b000" />
<circle cx="323.56" cy="156.84" r="1.1" fill="#70ae3e" />
<circle cx="315.79" cy="167.4" r="1.1" fill="#70ae3e" />
<circle cx="313.99" cy="159.54" r="1" fill="#e6b000" />
<circle cx="341.89" cy="159.64" r="1.1" fill="#e6b000" />
<circle cx="331.32" cy="167.4" r="1.1" fill="#70ae3e" />
<circle cx="332.32" cy="159.54" r="1" fill="#70ae3e" />
<circle cx="360.21" cy="156.84" r="1.1" fill="#e6b000" />
<circle cx="352.45" cy="167.4" r="1.1" fill="#e6b000" />
<circle cx="350.65" cy="159.54" r="1" fill="#70ae3e" />
<circle cx="378.54" cy="159.64" r="1.1" fill="#e6b000" />
<circle cx="367.98" cy="167.4" r="1.1" fill="#e6b000" />
<circle cx="368.98" cy="159.54" r="1" fill="#e6b000" />
<circle cx="396.87" cy="156.84" r="1.1" fill="#70ae3e" />
<circle cx="389.11" cy="167.4" r="1.1" fill="#70ae3e" />
<circle cx="387.31" cy="159.54" r="1" fill="#70ae3e" />
<circle cx="415.2" cy="159.64" r="1.1" fill="#e6b000" />
<circle cx="404.64" cy="167.4" r="1.1" fill="#70ae3e" />
<circle cx="405.64" cy="159.54" r="1" fill="#e6b000" />
<line x1="306.23" y1="114.44" x2="304.22" y2="110.41" stroke="#2b2b40" stroke-width="0.9" />
<circle cx="306.23" cy="114.44" r="1.7" fill="#e8101a" />
<circle cx="304.22" cy="110.41" r="1.45" fill="#3f72d0" />
<line x1="321.37" y1="111.91" x2="325.75" y2="112.94" stroke="#2b2b40" stroke-width="0.9" />
<circle cx="321.37" cy="111.91" r="1.7" fill="#e8101a" />
<circle cx="325.75" cy="112.94" r="1.45" fill="#3f72d0" />
<line x1="341.04" y1="114.51" x2="342.73" y2="110.34" stroke="#2b2b40" stroke-width="0.9" />
<circle cx="341.04" cy="114.51" r="1.7" fill="#e8101a" />
<circle cx="342.73" cy="110.34" r="1.45" fill="#3f72d0" />
<line x1="361.62" y1="114.18" x2="358.81" y2="110.67" stroke="#2b2b40" stroke-width="0.9" />
<circle cx="361.62" cy="114.18" r="1.7" fill="#e8101a" />
<circle cx="358.81" cy="110.67" r="1.45" fill="#3f72d0" />
<line x1="378.88" y1="114.65" x2="378.21" y2="110.2" stroke="#2b2b40" stroke-width="0.9" />
<circle cx="378.88" cy="114.65" r="1.7" fill="#e8101a" />
<circle cx="378.21" cy="110.2" r="1.45" fill="#3f72d0" />
<line x1="398.96" y1="111.59" x2="394.78" y2="113.26" stroke="#2b2b40" stroke-width="0.9" />
<circle cx="398.96" cy="111.59" r="1.7" fill="#e8101a" />
<circle cx="394.78" cy="113.26" r="1.45" fill="#3f72d0" />
<line x1="303.22" y1="129.74" x2="307.24" y2="131.76" stroke="#2b2b40" stroke-width="0.9" />
<circle cx="303.22" cy="129.74" r="1.7" fill="#e8101a" />
<circle cx="307.24" cy="131.76" r="1.45" fill="#3f72d0" />
<line x1="322.61" y1="132.79" x2="324.51" y2="128.71" stroke="#2b2b40" stroke-width="0.9" />
<circle cx="322.61" cy="132.79" r="1.7" fill="#e8101a" />
<circle cx="324.51" cy="128.71" r="1.45" fill="#3f72d0" />
<line x1="343.87" y1="131.81" x2="339.9" y2="129.69" stroke="#2b2b40" stroke-width="0.9" />
<circle cx="343.87" cy="131.81" r="1.7" fill="#e8101a" />
<circle cx="339.9" cy="129.69" r="1.45" fill="#3f72d0" />
<line x1="360.78" y1="132.93" x2="359.65" y2="128.57" stroke="#2b2b40" stroke-width="0.9" />
<circle cx="360.78" cy="132.93" r="1.7" fill="#e8101a" />
<circle cx="359.65" cy="128.57" r="1.45" fill="#3f72d0" />
<line x1="380.3" y1="129.34" x2="376.79" y2="132.16" stroke="#2b2b40" stroke-width="0.9" />
<circle cx="380.3" cy="129.34" r="1.7" fill="#e8101a" />
<circle cx="376.79" cy="132.16" r="1.45" fill="#3f72d0" />
<line x1="395.87" y1="132.76" x2="397.88" y2="128.74" stroke="#2b2b40" stroke-width="0.9" />
<circle cx="395.87" cy="132.76" r="1.7" fill="#e8101a" />
<circle cx="397.88" cy="128.74" r="1.45" fill="#3f72d0" />
<line x1="306.29" y1="147.09" x2="304.17" y2="151.06" stroke="#2b2b40" stroke-width="0.9" />
<circle cx="306.29" cy="147.09" r="1.7" fill="#e8101a" />
<circle cx="304.17" cy="151.06" r="1.45" fill="#3f72d0" />
<line x1="325.6" y1="148.13" x2="321.52" y2="150.02" stroke="#2b2b40" stroke-width="0.9" />
<circle cx="325.6" cy="148.13" r="1.7" fill="#e8101a" />
<circle cx="321.52" cy="150.02" r="1.45" fill="#3f72d0" />
<line x1="341.36" y1="146.89" x2="342.41" y2="151.26" stroke="#2b2b40" stroke-width="0.9" />
<circle cx="341.36" cy="146.89" r="1.7" fill="#e8101a" />
<circle cx="342.41" cy="151.26" r="1.45" fill="#3f72d0" />
<line x1="357.99" y1="148.71" x2="362.43" y2="149.44" stroke="#2b2b40" stroke-width="0.9" />
<circle cx="357.99" cy="148.71" r="1.7" fill="#e8101a" />
<circle cx="362.43" cy="149.44" r="1.45" fill="#3f72d0" />
<line x1="379.98" y1="150.8" x2="377.1" y2="147.35" stroke="#2b2b40" stroke-width="0.9" />
<circle cx="379.98" cy="150.8" r="1.7" fill="#e8101a" />
<circle cx="377.1" cy="147.35" r="1.45" fill="#3f72d0" />
<line x1="399.07" y1="149.57" x2="394.68" y2="148.58" stroke="#2b2b40" stroke-width="0.9" />
<circle cx="399.07" cy="149.57" r="1.7" fill="#e8101a" />
<circle cx="394.68" cy="148.58" r="1.45" fill="#3f72d0" />
</g>
<rect x="275.5" y="168.1" width="154.5" height="13.6" fill="#b4c6e6" stroke="#76849f" stroke-width="0.7" />
<path d="M341.8,181.7 C340.4,186.1 345.4,187.1 344.4,191.1 C343.6,193.1 343.1,194.1 343.8,195.2" fill="none" stroke="#fa0a14" stroke-width="4.4" stroke-linecap="butt"/>
<path d="M351,181.7 C349.6,186.1 354.6,187.1 353.6,191.1 C352.8,193.1 352.3,194.1 353,195.2" fill="none" stroke="#fa0a14" stroke-width="4.4" stroke-linecap="butt"/>
<path d="M360.2,181.7 C358.8,186.1 363.8,187.1 362.8,191.1 C362,193.1 361.5,194.1 362.2,195.2" fill="none" stroke="#fa0a14" stroke-width="4.4" stroke-linecap="butt"/>
<rect x="335.2" y="195.3" width="34.6" height="3.2" fill="#fbd4d4" stroke="#f6303a" stroke-width="0.9" />
<polygon points="451.4,98.3 484.3,98.3 484.3,93.3 493.6,103 484.3,112.7 484.3,107.7 451.4,107.7" fill="url(#gRight)" stroke="#8fb07c" stroke-width="0.5" stroke-linejoin="round" />
<text x="527" y="44.8" font-size="10.5" fill="#111" text-anchor="start" font-weight="normal" font-style="normal" >Chiral-2D/3D heterostructure</text>
<polygon points="555.47,57.17 553.63,59.01 551.12,58.34 550.45,55.83 552.28,53.99 554.8,54.66" fill="none" stroke="#5a5a5a" stroke-width="0.6" stroke-linejoin="round" />
<circle cx="555.47" cy="57.17" r="0.8" fill="#505050" />
<circle cx="556.87" cy="57.55" r="0.55" fill="#b0b0b0" />
<circle cx="553.63" cy="59.01" r="0.8" fill="#505050" />
<circle cx="554.01" cy="60.41" r="0.55" fill="#b0b0b0" />
<circle cx="551.12" cy="58.34" r="0.8" fill="#505050" />
<circle cx="550.09" cy="59.36" r="0.55" fill="#b0b0b0" />
<circle cx="550.45" cy="55.83" r="0.8" fill="#505050" />
<circle cx="549.05" cy="55.45" r="0.55" fill="#b0b0b0" />
<circle cx="552.28" cy="53.99" r="0.8" fill="#505050" />
<circle cx="551.91" cy="52.59" r="0.55" fill="#b0b0b0" />
<circle cx="554.8" cy="54.66" r="0.8" fill="#505050" />
<circle cx="555.82" cy="53.64" r="0.55" fill="#b0b0b0" />
<line x1="551.16" y1="58.8" x2="549.56" y2="61.9" stroke="#333" stroke-width="0.75" />
<line x1="549.56" y1="61.9" x2="549.96" y2="65.3" stroke="#333" stroke-width="0.75" />
<line x1="549.56" y1="61.9" x2="546.36" y2="61.7" stroke="#333" stroke-width="0.75" />
<circle cx="549.56" cy="61.9" r="0.85" fill="#444" />
<circle cx="549.96" cy="65.3" r="1.35" fill="#ee0f18" />
<circle cx="546.36" cy="61.7" r="1.15" fill="#4577d6" />
<polygon points="550.27,90.67 548.43,92.51 545.92,91.84 545.25,89.33 547.08,87.49 549.6,88.16" fill="none" stroke="#5a5a5a" stroke-width="0.6" stroke-linejoin="round" />
<circle cx="550.27" cy="90.67" r="0.8" fill="#505050" />
<circle cx="551.67" cy="91.05" r="0.55" fill="#b0b0b0" />
<circle cx="548.43" cy="92.51" r="0.8" fill="#505050" />
<circle cx="548.81" cy="93.91" r="0.55" fill="#b0b0b0" />
<circle cx="545.92" cy="91.84" r="0.8" fill="#505050" />
<circle cx="544.89" cy="92.86" r="0.55" fill="#b0b0b0" />
<circle cx="545.25" cy="89.33" r="0.8" fill="#505050" />
<circle cx="543.85" cy="88.95" r="0.55" fill="#b0b0b0" />
<circle cx="547.08" cy="87.49" r="0.8" fill="#505050" />
<circle cx="546.71" cy="86.09" r="0.55" fill="#b0b0b0" />
<circle cx="549.6" cy="88.16" r="0.8" fill="#505050" />
<circle cx="550.62" cy="87.14" r="0.55" fill="#b0b0b0" />
<line x1="549.36" y1="87.7" x2="551.06" y2="84" stroke="#333" stroke-width="0.75" />
<line x1="551.06" y1="84" x2="549.66" y2="81.4" stroke="#333" stroke-width="0.75" />
<line x1="551.06" y1="84" x2="554.36" y2="84.1" stroke="#333" stroke-width="0.75" />
<circle cx="551.06" cy="84" r="0.85" fill="#444" />
<circle cx="549.66" cy="81.4" r="1.35" fill="#ee0f18" />
<circle cx="554.36" cy="84.1" r="1.15" fill="#4577d6" />
<polygon points="574.53,57.17 572.69,59.01 570.18,58.34 569.5,55.83 571.34,53.99 573.85,54.66" fill="none" stroke="#5a5a5a" stroke-width="0.6" stroke-linejoin="round" />
<circle cx="574.53" cy="57.17" r="0.8" fill="#505050" />
<circle cx="575.93" cy="57.55" r="0.55" fill="#b0b0b0" />
<circle cx="572.69" cy="59.01" r="0.8" fill="#505050" />
<circle cx="573.06" cy="60.41" r="0.55" fill="#b0b0b0" />
<circle cx="570.18" cy="58.34" r="0.8" fill="#505050" />
<circle cx="569.15" cy="59.36" r="0.55" fill="#b0b0b0" />
<circle cx="569.5" cy="55.83" r="0.8" fill="#505050" />
<circle cx="568.1" cy="55.45" r="0.55" fill="#b0b0b0" />
<circle cx="571.34" cy="53.99" r="0.8" fill="#505050" />
<circle cx="570.97" cy="52.59" r="0.55" fill="#b0b0b0" />
<circle cx="573.85" cy="54.66" r="0.8" fill="#505050" />
<circle cx="574.88" cy="53.64" r="0.55" fill="#b0b0b0" />
<line x1="570.21" y1="58.8" x2="568.61" y2="61.9" stroke="#333" stroke-width="0.75" />
<line x1="568.61" y1="61.9" x2="569.01" y2="65.3" stroke="#333" stroke-width="0.75" />
<line x1="568.61" y1="61.9" x2="565.41" y2="61.7" stroke="#333" stroke-width="0.75" />
<circle cx="568.61" cy="61.9" r="0.85" fill="#444" />
<circle cx="569.01" cy="65.3" r="1.35" fill="#ee0f18" />
<circle cx="565.41" cy="61.7" r="1.15" fill="#4577d6" />
<polygon points="569.33,90.67 567.49,92.51 564.98,91.84 564.3,89.33 566.14,87.49 568.65,88.16" fill="none" stroke="#5a5a5a" stroke-width="0.6" stroke-linejoin="round" />
<circle cx="569.33" cy="90.67" r="0.8" fill="#505050" />
<circle cx="570.73" cy="91.05" r="0.55" fill="#b0b0b0" />
<circle cx="567.49" cy="92.51" r="0.8" fill="#505050" />
<circle cx="567.86" cy="93.91" r="0.55" fill="#b0b0b0" />
<circle cx="564.98" cy="91.84" r="0.8" fill="#505050" />
<circle cx="563.95" cy="92.86" r="0.55" fill="#b0b0b0" />
<circle cx="564.3" cy="89.33" r="0.8" fill="#505050" />
<circle cx="562.9" cy="88.95" r="0.55" fill="#b0b0b0" />
<circle cx="566.14" cy="87.49" r="0.8" fill="#505050" />
<circle cx="565.77" cy="86.09" r="0.55" fill="#b0b0b0" />
<circle cx="568.65" cy="88.16" r="0.8" fill="#505050" />
<circle cx="569.68" cy="87.14" r="0.55" fill="#b0b0b0" />
<line x1="568.41" y1="87.7" x2="570.11" y2="84" stroke="#333" stroke-width="0.75" />
<line x1="570.11" y1="84" x2="568.71" y2="81.4" stroke="#333" stroke-width="0.75" />
<line x1="570.11" y1="84" x2="573.41" y2="84.1" stroke="#333" stroke-width="0.75" />
<circle cx="570.11" cy="84" r="0.85" fill="#444" />
<circle cx="568.71" cy="81.4" r="1.35" fill="#ee0f18" />
<circle cx="573.41" cy="84.1" r="1.15" fill="#4577d6" />
<polygon points="593.58,57.17 591.74,59.01 589.23,58.34 588.56,55.83 590.4,53.99 592.91,54.66" fill="none" stroke="#5a5a5a" stroke-width="0.6" stroke-linejoin="round" />
<circle cx="593.58" cy="57.17" r="0.8" fill="#505050" />
<circle cx="594.98" cy="57.55" r="0.55" fill="#b0b0b0" />
<circle cx="591.74" cy="59.01" r="0.8" fill="#505050" />
<circle cx="592.12" cy="60.41" r="0.55" fill="#b0b0b0" />
<circle cx="589.23" cy="58.34" r="0.8" fill="#505050" />
<circle cx="588.21" cy="59.36" r="0.55" fill="#b0b0b0" />
<circle cx="588.56" cy="55.83" r="0.8" fill="#505050" />
<circle cx="587.16" cy="55.45" r="0.55" fill="#b0b0b0" />
<circle cx="590.4" cy="53.99" r="0.8" fill="#505050" />
<circle cx="590.02" cy="52.59" r="0.55" fill="#b0b0b0" />
<circle cx="592.91" cy="54.66" r="0.8" fill="#505050" />
<circle cx="593.94" cy="53.64" r="0.55" fill="#b0b0b0" />
<line x1="589.27" y1="58.8" x2="587.67" y2="61.9" stroke="#333" stroke-width="0.75" />
<line x1="587.67" y1="61.9" x2="588.07" y2="65.3" stroke="#333" stroke-width="0.75" />
<line x1="587.67" y1="61.9" x2="584.47" y2="61.7" stroke="#333" stroke-width="0.75" />
<circle cx="587.67" cy="61.9" r="0.85" fill="#444" />
<circle cx="588.07" cy="65.3" r="1.35" fill="#ee0f18" />
<circle cx="584.47" cy="61.7" r="1.15" fill="#4577d6" />
<polygon points="588.38,90.67 586.54,92.51 584.03,91.84 583.36,89.33 585.2,87.49 587.71,88.16" fill="none" stroke="#5a5a5a" stroke-width="0.6" stroke-linejoin="round" />
<circle cx="588.38" cy="90.67" r="0.8" fill="#505050" />
<circle cx="589.78" cy="91.05" r="0.55" fill="#b0b0b0" />
<circle cx="586.54" cy="92.51" r="0.8" fill="#505050" />
<circle cx="586.92" cy="93.91" r="0.55" fill="#b0b0b0" />
<circle cx="584.03" cy="91.84" r="0.8" fill="#505050" />
<circle cx="583.01" cy="92.86" r="0.55" fill="#b0b0b0" />
<circle cx="583.36" cy="89.33" r="0.8" fill="#505050" />
<circle cx="581.96" cy="88.95" r="0.55" fill="#b0b0b0" />
<circle cx="585.2" cy="87.49" r="0.8" fill="#505050" />
<circle cx="584.82" cy="86.09" r="0.55" fill="#b0b0b0" />
<circle cx="587.71" cy="88.16" r="0.8" fill="#505050" />
<circle cx="588.74" cy="87.14" r="0.55" fill="#b0b0b0" />
<line x1="587.47" y1="87.7" x2="589.17" y2="84" stroke="#333" stroke-width="0.75" />
<line x1="589.17" y1="84" x2="587.77" y2="81.4" stroke="#333" stroke-width="0.75" />
<line x1="589.17" y1="84" x2="592.47" y2="84.1" stroke="#333" stroke-width="0.75" />
<circle cx="589.17" cy="84" r="0.85" fill="#444" />
<circle cx="587.77" cy="81.4" r="1.35" fill="#ee0f18" />
<circle cx="592.47" cy="84.1" r="1.15" fill="#4577d6" />
<polygon points="612.64,57.17 610.8,59.01 608.29,58.34 607.62,55.83 609.46,53.99 611.97,54.66" fill="none" stroke="#5a5a5a" stroke-width="0.6" stroke-linejoin="round" />
<circle cx="612.64" cy="57.17" r="0.8" fill="#505050" />
<circle cx="614.04" cy="57.55" r="0.55" fill="#b0b0b0" />
<circle cx="610.8" cy="59.01" r="0.8" fill="#505050" />
<circle cx="611.18" cy="60.41" r="0.55" fill="#b0b0b0" />
<circle cx="608.29" cy="58.34" r="0.8" fill="#505050" />
<circle cx="607.26" cy="59.36" r="0.55" fill="#b0b0b0" />
<circle cx="607.62" cy="55.83" r="0.8" fill="#505050" />
<circle cx="606.22" cy="55.45" r="0.55" fill="#b0b0b0" />
<circle cx="609.46" cy="53.99" r="0.8" fill="#505050" />
<circle cx="609.08" cy="52.59" r="0.55" fill="#b0b0b0" />
<circle cx="611.97" cy="54.66" r="0.8" fill="#505050" />
<circle cx="612.99" cy="53.64" r="0.55" fill="#b0b0b0" />
<line x1="608.33" y1="58.8" x2="606.73" y2="61.9" stroke="#333" stroke-width="0.75" />
<line x1="606.73" y1="61.9" x2="607.13" y2="65.3" stroke="#333" stroke-width="0.75" />
<line x1="606.73" y1="61.9" x2="603.53" y2="61.7" stroke="#333" stroke-width="0.75" />
<circle cx="606.73" cy="61.9" r="0.85" fill="#444" />
<circle cx="607.13" cy="65.3" r="1.35" fill="#ee0f18" />
<circle cx="603.53" cy="61.7" r="1.15" fill="#4577d6" />
<polygon points="607.44,90.67 605.6,92.51 603.09,91.84 602.42,89.33 604.26,87.49 606.77,88.16" fill="none" stroke="#5a5a5a" stroke-width="0.6" stroke-linejoin="round" />
<circle cx="607.44" cy="90.67" r="0.8" fill="#505050" />
<circle cx="608.84" cy="91.05" r="0.55" fill="#b0b0b0" />
<circle cx="605.6" cy="92.51" r="0.8" fill="#505050" />
<circle cx="605.98" cy="93.91" r="0.55" fill="#b0b0b0" />
<circle cx="603.09" cy="91.84" r="0.8" fill="#505050" />
<circle cx="602.06" cy="92.86" r="0.55" fill="#b0b0b0" />
<circle cx="602.42" cy="89.33" r="0.8" fill="#505050" />
<circle cx="601.02" cy="88.95" r="0.55" fill="#b0b0b0" />
<circle cx="604.26" cy="87.49" r="0.8" fill="#505050" />
<circle cx="603.88" cy="86.09" r="0.55" fill="#b0b0b0" />
<circle cx="606.77" cy="88.16" r="0.8" fill="#505050" />
<circle cx="607.79" cy="87.14" r="0.55" fill="#b0b0b0" />
<line x1="606.53" y1="87.7" x2="608.23" y2="84" stroke="#333" stroke-width="0.75" />
<line x1="608.23" y1="84" x2="606.83" y2="81.4" stroke="#333" stroke-width="0.75" />
<line x1="608.23" y1="84" x2="611.53" y2="84.1" stroke="#333" stroke-width="0.75" />
<circle cx="608.23" cy="84" r="0.85" fill="#444" />
<circle cx="606.83" cy="81.4" r="1.35" fill="#ee0f18" />
<circle cx="611.53" cy="84.1" r="1.15" fill="#4577d6" />
<polygon points="631.7,57.17 629.86,59.01 627.35,58.34 626.67,55.83 628.51,53.99 631.02,54.66" fill="none" stroke="#5a5a5a" stroke-width="0.6" stroke-linejoin="round" />
<circle cx="631.7" cy="57.17" r="0.8" fill="#505050" />
<circle cx="633.1" cy="57.55" r="0.55" fill="#b0b0b0" />
<circle cx="629.86" cy="59.01" r="0.8" fill="#505050" />
<circle cx="630.23" cy="60.41" r="0.55" fill="#b0b0b0" />
<circle cx="627.35" cy="58.34" r="0.8" fill="#505050" />
<circle cx="626.32" cy="59.36" r="0.55" fill="#b0b0b0" />
<circle cx="626.67" cy="55.83" r="0.8" fill="#505050" />
<circle cx="625.27" cy="55.45" r="0.55" fill="#b0b0b0" />
<circle cx="628.51" cy="53.99" r="0.8" fill="#505050" />
<circle cx="628.14" cy="52.59" r="0.55" fill="#b0b0b0" />
<circle cx="631.02" cy="54.66" r="0.8" fill="#505050" />
<circle cx="632.05" cy="53.64" r="0.55" fill="#b0b0b0" />
<line x1="627.39" y1="58.8" x2="625.79" y2="61.9" stroke="#333" stroke-width="0.75" />
<line x1="625.79" y1="61.9" x2="626.19" y2="65.3" stroke="#333" stroke-width="0.75" />
<line x1="625.79" y1="61.9" x2="622.59" y2="61.7" stroke="#333" stroke-width="0.75" />
<circle cx="625.79" cy="61.9" r="0.85" fill="#444" />
<circle cx="626.19" cy="65.3" r="1.35" fill="#ee0f18" />
<circle cx="622.59" cy="61.7" r="1.15" fill="#4577d6" />
<polygon points="626.5,90.67 624.66,92.51 622.15,91.84 621.47,89.33 623.31,87.49 625.82,88.16" fill="none" stroke="#5a5a5a" stroke-width="0.6" stroke-linejoin="round" />
<circle cx="626.5" cy="90.67" r="0.8" fill="#505050" />
<circle cx="627.9" cy="91.05" r="0.55" fill="#b0b0b0" />
<circle cx="624.66" cy="92.51" r="0.8" fill="#505050" />
<circle cx="625.03" cy="93.91" r="0.55" fill="#b0b0b0" />
<circle cx="622.15" cy="91.84" r="0.8" fill="#505050" />
<circle cx="621.12" cy="92.86" r="0.55" fill="#b0b0b0" />
<circle cx="621.47" cy="89.33" r="0.8" fill="#505050" />
<circle cx="620.07" cy="88.95" r="0.55" fill="#b0b0b0" />
<circle cx="623.31" cy="87.49" r="0.8" fill="#505050" />
<circle cx="622.94" cy="86.09" r="0.55" fill="#b0b0b0" />
<circle cx="625.82" cy="88.16" r="0.8" fill="#505050" />
<circle cx="626.85" cy="87.14" r="0.55" fill="#b0b0b0" />
<line x1="625.59" y1="87.7" x2="627.29" y2="84" stroke="#333" stroke-width="0.75" />
<line x1="627.29" y1="84" x2="625.89" y2="81.4" stroke="#333" stroke-width="0.75" />
<line x1="627.29" y1="84" x2="630.59" y2="84.1" stroke="#333" stroke-width="0.75" />
<circle cx="627.29" cy="84" r="0.85" fill="#444" />
<circle cx="625.89" cy="81.4" r="1.35" fill="#ee0f18" />
<circle cx="630.59" cy="84.1" r="1.15" fill="#4577d6" />
<polygon points="650.75,57.17 648.92,59.01 646.4,58.34 645.73,55.83 647.57,53.99 650.08,54.66" fill="none" stroke="#5a5a5a" stroke-width="0.6" stroke-linejoin="round" />
<circle cx="650.75" cy="57.17" r="0.8" fill="#505050" />
<circle cx="652.15" cy="57.55" r="0.55" fill="#b0b0b0" />
<circle cx="648.92" cy="59.01" r="0.8" fill="#505050" />
<circle cx="649.29" cy="60.41" r="0.55" fill="#b0b0b0" />
<circle cx="646.4" cy="58.34" r="0.8" fill="#505050" />
<circle cx="645.38" cy="59.36" r="0.55" fill="#b0b0b0" />
<circle cx="645.73" cy="55.83" r="0.8" fill="#505050" />
<circle cx="644.33" cy="55.45" r="0.55" fill="#b0b0b0" />
<circle cx="647.57" cy="53.99" r="0.8" fill="#505050" />
<circle cx="647.19" cy="52.59" r="0.55" fill="#b0b0b0" />
<circle cx="650.08" cy="54.66" r="0.8" fill="#505050" />
<circle cx="651.11" cy="53.64" r="0.55" fill="#b0b0b0" />
<line x1="646.44" y1="58.8" x2="644.84" y2="61.9" stroke="#333" stroke-width="0.75" />
<line x1="644.84" y1="61.9" x2="645.24" y2="65.3" stroke="#333" stroke-width="0.75" />
<line x1="644.84" y1="61.9" x2="641.64" y2="61.7" stroke="#333" stroke-width="0.75" />
<circle cx="644.84" cy="61.9" r="0.85" fill="#444" />
<circle cx="645.24" cy="65.3" r="1.35" fill="#ee0f18" />
<circle cx="641.64" cy="61.7" r="1.15" fill="#4577d6" />
<polygon points="645.55,90.67 643.72,92.51 641.2,91.84 640.53,89.33 642.37,87.49 644.88,88.16" fill="none" stroke="#5a5a5a" stroke-width="0.6" stroke-linejoin="round" />
<circle cx="645.55" cy="90.67" r="0.8" fill="#505050" />
<circle cx="646.95" cy="91.05" r="0.55" fill="#b0b0b0" />
<circle cx="643.72" cy="92.51" r="0.8" fill="#505050" />
<circle cx="644.09" cy="93.91" r="0.55" fill="#b0b0b0" />
<circle cx="641.2" cy="91.84" r="0.8" fill="#505050" />
<circle cx="640.18" cy="92.86" r="0.55" fill="#b0b0b0" />
<circle cx="640.53" cy="89.33" r="0.8" fill="#505050" />
<circle cx="639.13" cy="88.95" r="0.55" fill="#b0b0b0" />
<circle cx="642.37" cy="87.49" r="0.8" fill="#505050" />
<circle cx="641.99" cy="86.09" r="0.55" fill="#b0b0b0" />
<circle cx="644.88" cy="88.16" r="0.8" fill="#505050" />
<circle cx="645.91" cy="87.14" r="0.55" fill="#b0b0b0" />
<line x1="644.64" y1="87.7" x2="646.34" y2="84" stroke="#333" stroke-width="0.75" />
<line x1="646.34" y1="84" x2="644.94" y2="81.4" stroke="#333" stroke-width="0.75" />
<line x1="646.34" y1="84" x2="649.64" y2="84.1" stroke="#333" stroke-width="0.75" />
<circle cx="646.34" cy="84" r="0.85" fill="#444" />
<circle cx="644.94" cy="81.4" r="1.35" fill="#ee0f18" />
<circle cx="649.64" cy="84.1" r="1.15" fill="#4577d6" />
<g transform="rotate(0.9 531 72.2)">
<g>
<polygon points="540.83,62.6 550.06,72.2 540.73,81.8 531,72.2" fill="#fce39e" stroke="#9a7c3a" stroke-width="0.45" stroke-linejoin="round" />
<polygon points="531,72.2 540.73,81.8 540.23,73.8" fill="#f5d572" stroke="none" stroke-width="0" stroke-linejoin="round" opacity="0.25"/>
<line x1="540.83" y1="62.6" x2="540.23" y2="73.8" stroke="#9a7c3a" stroke-width="0.4" />
<line x1="550.06" y1="72.2" x2="540.23" y2="73.8" stroke="#9a7c3a" stroke-width="0.4" />
<line x1="540.73" y1="81.8" x2="540.23" y2="73.8" stroke="#9a7c3a" stroke-width="0.4" />
<line x1="531" y1="72.2" x2="540.23" y2="73.8" stroke="#9a7c3a" stroke-width="0.4" />
<line x1="531" y1="72.2" x2="550.06" y2="72.2" stroke="#9a7c3a" stroke-width="0.3" opacity="0.6"/>
<polygon points="559.89,62.6 569.11,72.2 559.79,81.8 550.06,72.2" fill="#fce39e" stroke="#9a7c3a" stroke-width="0.45" stroke-linejoin="round" />
<polygon points="550.06,72.2 559.79,81.8 559.29,73.8" fill="#f5d572" stroke="none" stroke-width="0" stroke-linejoin="round" opacity="0.25"/>
<line x1="559.89" y1="62.6" x2="559.29" y2="73.8" stroke="#9a7c3a" stroke-width="0.4" />
<line x1="569.11" y1="72.2" x2="559.29" y2="73.8" stroke="#9a7c3a" stroke-width="0.4" />
<line x1="559.79" y1="81.8" x2="559.29" y2="73.8" stroke="#9a7c3a" stroke-width="0.4" />
<line x1="550.06" y1="72.2" x2="559.29" y2="73.8" stroke="#9a7c3a" stroke-width="0.4" />
<line x1="550.06" y1="72.2" x2="569.11" y2="72.2" stroke="#9a7c3a" stroke-width="0.3" opacity="0.6"/>
<polygon points="578.94,62.6 588.17,72.2 578.84,81.8 569.11,72.2" fill="#fce39e" stroke="#9a7c3a" stroke-width="0.45" stroke-linejoin="round" />
<polygon points="569.11,72.2 578.84,81.8 578.34,73.8" fill="#f5d572" stroke="none" stroke-width="0" stroke-linejoin="round" opacity="0.25"/>
<line x1="578.94" y1="62.6" x2="578.34" y2="73.8" stroke="#9a7c3a" stroke-width="0.4" />
<line x1="588.17" y1="72.2" x2="578.34" y2="73.8" stroke="#9a7c3a" stroke-width="0.4" />
<line x1="578.84" y1="81.8" x2="578.34" y2="73.8" stroke="#9a7c3a" stroke-width="0.4" />
<line x1="569.11" y1="72.2" x2="578.34" y2="73.8" stroke="#9a7c3a" stroke-width="0.4" />
<line x1="569.11" y1="72.2" x2="588.17" y2="72.2" stroke="#9a7c3a" stroke-width="0.3" opacity="0.6"/>
<polygon points="598,62.6 607.23,72.2 597.9,81.8 588.17,72.2" fill="#fce39e" stroke="#9a7c3a" stroke-width="0.45" stroke-linejoin="round" />
<polygon points="588.17,72.2 597.9,81.8 597.4,73.8" fill="#f5d572" stroke="none" stroke-width="0" stroke-linejoin="round" opacity="0.25"/>
<line x1="598" y1="62.6" x2="597.4" y2="73.8" stroke="#9a7c3a" stroke-width="0.4" />
<line x1="607.23" y1="72.2" x2="597.4" y2="73.8" stroke="#9a7c3a" stroke-width="0.4" />
<line x1="597.9" y1="81.8" x2="597.4" y2="73.8" stroke="#9a7c3a" stroke-width="0.4" />
<line x1="588.17" y1="72.2" x2="597.4" y2="73.8" stroke="#9a7c3a" stroke-width="0.4" />
<line x1="588.17" y1="72.2" x2="607.23" y2="72.2" stroke="#9a7c3a" stroke-width="0.3" opacity="0.6"/>
<polygon points="617.06,62.6 626.29,72.2 616.96,81.8 607.23,72.2" fill="#fce39e" stroke="#9a7c3a" stroke-width="0.45" stroke-linejoin="round" />
<polygon points="607.23,72.2 616.96,81.8 616.46,73.8" fill="#f5d572" stroke="none" stroke-width="0" stroke-linejoin="round" opacity="0.25"/>
<line x1="617.06" y1="62.6" x2="616.46" y2="73.8" stroke="#9a7c3a" stroke-width="0.4" />
<line x1="626.29" y1="72.2" x2="616.46" y2="73.8" stroke="#9a7c3a" stroke-width="0.4" />
<line x1="616.96" y1="81.8" x2="616.46" y2="73.8" stroke="#9a7c3a" stroke-width="0.4" />
<line x1="607.23" y1="72.2" x2="616.46" y2="73.8" stroke="#9a7c3a" stroke-width="0.4" />
<line x1="607.23" y1="72.2" x2="626.29" y2="72.2" stroke="#9a7c3a" stroke-width="0.3" opacity="0.6"/>
<polygon points="636.11,62.6 645.34,72.2 636.01,81.8 626.29,72.2" fill="#fce39e" stroke="#9a7c3a" stroke-width="0.45" stroke-linejoin="round" />
<polygon points="626.29,72.2 636.01,81.8 635.51,73.8" fill="#f5d572" stroke="none" stroke-width="0" stroke-linejoin="round" opacity="0.25"/>
<line x1="636.11" y1="62.6" x2="635.51" y2="73.8" stroke="#9a7c3a" stroke-width="0.4" />
<line x1="645.34" y1="72.2" x2="635.51" y2="73.8" stroke="#9a7c3a" stroke-width="0.4" />
<line x1="636.01" y1="81.8" x2="635.51" y2="73.8" stroke="#9a7c3a" stroke-width="0.4" />
<line x1="626.29" y1="72.2" x2="635.51" y2="73.8" stroke="#9a7c3a" stroke-width="0.4" />
<line x1="626.29" y1="72.2" x2="645.34" y2="72.2" stroke="#9a7c3a" stroke-width="0.3" opacity="0.6"/>
<polygon points="655.17,62.6 664.4,72.2 655.07,81.8 645.34,72.2" fill="#fce39e" stroke="#9a7c3a" stroke-width="0.45" stroke-linejoin="round" />
<polygon points="645.34,72.2 655.07,81.8 654.57,73.8" fill="#f5d572" stroke="none" stroke-width="0" stroke-linejoin="round" opacity="0.25"/>
<line x1="655.17" y1="62.6" x2="654.57" y2="73.8" stroke="#9a7c3a" stroke-width="0.4" />
<line x1="664.4" y1="72.2" x2="654.57" y2="73.8" stroke="#9a7c3a" stroke-width="0.4" />
<line x1="655.07" y1="81.8" x2="654.57" y2="73.8" stroke="#9a7c3a" stroke-width="0.4" />
<line x1="645.34" y1="72.2" x2="654.57" y2="73.8" stroke="#9a7c3a" stroke-width="0.4" />
<line x1="645.34" y1="72.2" x2="664.4" y2="72.2" stroke="#9a7c3a" stroke-width="0.3" opacity="0.6"/>
<circle cx="540.83" cy="62.6" r="1.15" fill="#e6b000" />
<circle cx="540.73" cy="81.8" r="1.15" fill="#e6b000" />
<circle cx="540.23" cy="73.8" r="1.1" fill="#e6b000" />
<circle cx="531" cy="72.2" r="1.1" fill="#70ae3e" />
<circle cx="559.89" cy="62.6" r="1.15" fill="#e6b000" />
<circle cx="559.79" cy="81.8" r="1.15" fill="#70ae3e" />
<circle cx="559.29" cy="73.8" r="1.1" fill="#e6b000" />
<circle cx="550.06" cy="72.2" r="1.1" fill="#70ae3e" />
<circle cx="578.94" cy="62.6" r="1.15" fill="#70ae3e" />
<circle cx="578.84" cy="81.8" r="1.15" fill="#70ae3e" />
<circle cx="578.34" cy="73.8" r="1.1" fill="#70ae3e" />
<circle cx="569.11" cy="72.2" r="1.1" fill="#70ae3e" />
<circle cx="598" cy="62.6" r="1.15" fill="#70ae3e" />
<circle cx="597.9" cy="81.8" r="1.15" fill="#70ae3e" />
<circle cx="597.4" cy="73.8" r="1.1" fill="#e6b000" />
<circle cx="588.17" cy="72.2" r="1.1" fill="#70ae3e" />
<circle cx="617.06" cy="62.6" r="1.15" fill="#e6b000" />
<circle cx="616.96" cy="81.8" r="1.15" fill="#e6b000" />
<circle cx="616.46" cy="73.8" r="1.1" fill="#70ae3e" />
<circle cx="607.23" cy="72.2" r="1.1" fill="#70ae3e" />
<circle cx="636.11" cy="62.6" r="1.15" fill="#e6b000" />
<circle cx="636.01" cy="81.8" r="1.15" fill="#e6b000" />
<circle cx="635.51" cy="73.8" r="1.1" fill="#e6b000" />
<circle cx="626.29" cy="72.2" r="1.1" fill="#e6b000" />
<circle cx="655.17" cy="62.6" r="1.15" fill="#e6b000" />
<circle cx="655.07" cy="81.8" r="1.15" fill="#70ae3e" />
<circle cx="654.57" cy="73.8" r="1.1" fill="#e6b000" />
<circle cx="645.34" cy="72.2" r="1.1" fill="#70ae3e" />
<circle cx="664.4" cy="72.2" r="1.1" fill="#e6b000" />
</g>
</g>
<g>
<polygon points="539.69,91.8 550.57,99.79 542.49,110.58 531.6,102.59" fill="#f3a970" stroke="#6b4a2c" stroke-width="0.45" stroke-linejoin="round" />
<line x1="539.69" y1="91.8" x2="540.69" y2="102.49" stroke="#6b4a2c" stroke-width="0.45" />
<line x1="539.69" y1="91.8" x2="541.79" y2="100.59" stroke="#6b4a2c" stroke-width="0.3" opacity="0.5"/>
<line x1="550.57" y1="99.79" x2="540.69" y2="102.49" stroke="#6b4a2c" stroke-width="0.45" />
<line x1="550.57" y1="99.79" x2="541.79" y2="100.59" stroke="#6b4a2c" stroke-width="0.3" opacity="0.5"/>
<line x1="542.49" y1="110.58" x2="540.69" y2="102.49" stroke="#6b4a2c" stroke-width="0.45" />
<line x1="542.49" y1="110.58" x2="541.79" y2="100.59" stroke="#6b4a2c" stroke-width="0.3" opacity="0.5"/>
<line x1="531.6" y1="102.59" x2="540.69" y2="102.49" stroke="#6b4a2c" stroke-width="0.45" />
<line x1="531.6" y1="102.59" x2="541.79" y2="100.59" stroke="#6b4a2c" stroke-width="0.3" opacity="0.5"/>
<polygon points="561.46,91.8 569.54,102.59 558.66,110.58 550.57,99.79" fill="#f3a970" stroke="#6b4a2c" stroke-width="0.45" stroke-linejoin="round" />
<line x1="561.46" y1="91.8" x2="559.66" y2="102.49" stroke="#6b4a2c" stroke-width="0.45" />
<line x1="561.46" y1="91.8" x2="559.36" y2="100.59" stroke="#6b4a2c" stroke-width="0.3" opacity="0.5"/>
<line x1="569.54" y1="102.59" x2="559.66" y2="102.49" stroke="#6b4a2c" stroke-width="0.45" />
<line x1="569.54" y1="102.59" x2="559.36" y2="100.59" stroke="#6b4a2c" stroke-width="0.3" opacity="0.5"/>
<line x1="558.66" y1="110.58" x2="559.66" y2="102.49" stroke="#6b4a2c" stroke-width="0.45" />
<line x1="558.66" y1="110.58" x2="559.36" y2="100.59" stroke="#6b4a2c" stroke-width="0.3" opacity="0.5"/>
<line x1="550.57" y1="99.79" x2="559.66" y2="102.49" stroke="#6b4a2c" stroke-width="0.45" />
<line x1="550.57" y1="99.79" x2="559.36" y2="100.59" stroke="#6b4a2c" stroke-width="0.3" opacity="0.5"/>
<polygon points="577.63,91.8 588.51,99.79 580.43,110.58 569.54,102.59" fill="#f3a970" stroke="#6b4a2c" stroke-width="0.45" stroke-linejoin="round" />
<line x1="577.63" y1="91.8" x2="578.63" y2="102.49" stroke="#6b4a2c" stroke-width="0.45" />
<line x1="577.63" y1="91.8" x2="579.73" y2="100.59" stroke="#6b4a2c" stroke-width="0.3" opacity="0.5"/>
<line x1="588.51" y1="99.79" x2="578.63" y2="102.49" stroke="#6b4a2c" stroke-width="0.45" />
<line x1="588.51" y1="99.79" x2="579.73" y2="100.59" stroke="#6b4a2c" stroke-width="0.3" opacity="0.5"/>
<line x1="580.43" y1="110.58" x2="578.63" y2="102.49" stroke="#6b4a2c" stroke-width="0.45" />
<line x1="580.43" y1="110.58" x2="579.73" y2="100.59" stroke="#6b4a2c" stroke-width="0.3" opacity="0.5"/>
<line x1="569.54" y1="102.59" x2="578.63" y2="102.49" stroke="#6b4a2c" stroke-width="0.45" />
<line x1="569.54" y1="102.59" x2="579.73" y2="100.59" stroke="#6b4a2c" stroke-width="0.3" opacity="0.5"/>
<polygon points="599.4,91.8 607.49,102.59 596.6,110.58 588.51,99.79" fill="#f3a970" stroke="#6b4a2c" stroke-width="0.45" stroke-linejoin="round" />
<line x1="599.4" y1="91.8" x2="597.6" y2="102.49" stroke="#6b4a2c" stroke-width="0.45" />
<line x1="599.4" y1="91.8" x2="597.3" y2="100.59" stroke="#6b4a2c" stroke-width="0.3" opacity="0.5"/>
<line x1="607.49" y1="102.59" x2="597.6" y2="102.49" stroke="#6b4a2c" stroke-width="0.45" />
<line x1="607.49" y1="102.59" x2="597.3" y2="100.59" stroke="#6b4a2c" stroke-width="0.3" opacity="0.5"/>
<line x1="596.6" y1="110.58" x2="597.6" y2="102.49" stroke="#6b4a2c" stroke-width="0.45" />
<line x1="596.6" y1="110.58" x2="597.3" y2="100.59" stroke="#6b4a2c" stroke-width="0.3" opacity="0.5"/>
<line x1="588.51" y1="99.79" x2="597.6" y2="102.49" stroke="#6b4a2c" stroke-width="0.45" />
<line x1="588.51" y1="99.79" x2="597.3" y2="100.59" stroke="#6b4a2c" stroke-width="0.3" opacity="0.5"/>
<polygon points="615.57,91.8 626.46,99.79 618.37,110.58 607.49,102.59" fill="#f3a970" stroke="#6b4a2c" stroke-width="0.45" stroke-linejoin="round" />
<line x1="615.57" y1="91.8" x2="616.57" y2="102.49" stroke="#6b4a2c" stroke-width="0.45" />
<line x1="615.57" y1="91.8" x2="617.67" y2="100.59" stroke="#6b4a2c" stroke-width="0.3" opacity="0.5"/>
<line x1="626.46" y1="99.79" x2="616.57" y2="102.49" stroke="#6b4a2c" stroke-width="0.45" />
<line x1="626.46" y1="99.79" x2="617.67" y2="100.59" stroke="#6b4a2c" stroke-width="0.3" opacity="0.5"/>
<line x1="618.37" y1="110.58" x2="616.57" y2="102.49" stroke="#6b4a2c" stroke-width="0.45" />
<line x1="618.37" y1="110.58" x2="617.67" y2="100.59" stroke="#6b4a2c" stroke-width="0.3" opacity="0.5"/>
<line x1="607.49" y1="102.59" x2="616.57" y2="102.49" stroke="#6b4a2c" stroke-width="0.45" />
<line x1="607.49" y1="102.59" x2="617.67" y2="100.59" stroke="#6b4a2c" stroke-width="0.3" opacity="0.5"/>
<polygon points="637.34,91.8 645.43,102.59 634.54,110.58 626.46,99.79" fill="#f3a970" stroke="#6b4a2c" stroke-width="0.45" stroke-linejoin="round" />
<line x1="637.34" y1="91.8" x2="635.54" y2="102.49" stroke="#6b4a2c" stroke-width="0.45" />
<line x1="637.34" y1="91.8" x2="635.24" y2="100.59" stroke="#6b4a2c" stroke-width="0.3" opacity="0.5"/>
<line x1="645.43" y1="102.59" x2="635.54" y2="102.49" stroke="#6b4a2c" stroke-width="0.45" />
<line x1="645.43" y1="102.59" x2="635.24" y2="100.59" stroke="#6b4a2c" stroke-width="0.3" opacity="0.5"/>
<line x1="634.54" y1="110.58" x2="635.54" y2="102.49" stroke="#6b4a2c" stroke-width="0.45" />
<line x1="634.54" y1="110.58" x2="635.24" y2="100.59" stroke="#6b4a2c" stroke-width="0.3" opacity="0.5"/>
<line x1="626.46" y1="99.79" x2="635.54" y2="102.49" stroke="#6b4a2c" stroke-width="0.45" />
<line x1="626.46" y1="99.79" x2="635.24" y2="100.59" stroke="#6b4a2c" stroke-width="0.3" opacity="0.5"/>
<polygon points="653.51,91.8 664.4,99.79 656.31,110.58 645.43,102.59" fill="#f3a970" stroke="#6b4a2c" stroke-width="0.45" stroke-linejoin="round" />
<line x1="653.51" y1="91.8" x2="654.51" y2="102.49" stroke="#6b4a2c" stroke-width="0.45" />
<line x1="653.51" y1="91.8" x2="655.61" y2="100.59" stroke="#6b4a2c" stroke-width="0.3" opacity="0.5"/>
<line x1="664.4" y1="99.79" x2="654.51" y2="102.49" stroke="#6b4a2c" stroke-width="0.45" />
<line x1="664.4" y1="99.79" x2="655.61" y2="100.59" stroke="#6b4a2c" stroke-width="0.3" opacity="0.5"/>
<line x1="656.31" y1="110.58" x2="654.51" y2="102.49" stroke="#6b4a2c" stroke-width="0.45" />
<line x1="656.31" y1="110.58" x2="655.61" y2="100.59" stroke="#6b4a2c" stroke-width="0.3" opacity="0.5"/>
<line x1="645.43" y1="102.59" x2="654.51" y2="102.49" stroke="#6b4a2c" stroke-width="0.45" />
<line x1="645.43" y1="102.59" x2="655.61" y2="100.59" stroke="#6b4a2c" stroke-width="0.3" opacity="0.5"/>
<polygon points="542.49,110.58 550.57,121.36 539.69,129.35 531.6,118.56" fill="#f3a970" stroke="#6b4a2c" stroke-width="0.45" stroke-linejoin="round" />
<line x1="542.49" y1="110.58" x2="540.69" y2="121.26" stroke="#6b4a2c" stroke-width="0.45" />
<line x1="542.49" y1="110.58" x2="540.39" y2="119.36" stroke="#6b4a2c" stroke-width="0.3" opacity="0.5"/>
<line x1="550.57" y1="121.36" x2="540.69" y2="121.26" stroke="#6b4a2c" stroke-width="0.45" />
<line x1="550.57" y1="121.36" x2="540.39" y2="119.36" stroke="#6b4a2c" stroke-width="0.3" opacity="0.5"/>
<line x1="539.69" y1="129.35" x2="540.69" y2="121.26" stroke="#6b4a2c" stroke-width="0.45" />
<line x1="539.69" y1="129.35" x2="540.39" y2="119.36" stroke="#6b4a2c" stroke-width="0.3" opacity="0.5"/>
<line x1="531.6" y1="118.56" x2="540.69" y2="121.26" stroke="#6b4a2c" stroke-width="0.45" />
<line x1="531.6" y1="118.56" x2="540.39" y2="119.36" stroke="#6b4a2c" stroke-width="0.3" opacity="0.5"/>
<polygon points="558.66,110.58 569.54,118.56 561.46,129.35 550.57,121.36" fill="#f3a970" stroke="#6b4a2c" stroke-width="0.45" stroke-linejoin="round" />
<line x1="558.66" y1="110.58" x2="559.66" y2="121.26" stroke="#6b4a2c" stroke-width="0.45" />
<line x1="558.66" y1="110.58" x2="560.76" y2="119.36" stroke="#6b4a2c" stroke-width="0.3" opacity="0.5"/>
<line x1="569.54" y1="118.56" x2="559.66" y2="121.26" stroke="#6b4a2c" stroke-width="0.45" />
<line x1="569.54" y1="118.56" x2="560.76" y2="119.36" stroke="#6b4a2c" stroke-width="0.3" opacity="0.5"/>
<line x1="561.46" y1="129.35" x2="559.66" y2="121.26" stroke="#6b4a2c" stroke-width="0.45" />
<line x1="561.46" y1="129.35" x2="560.76" y2="119.36" stroke="#6b4a2c" stroke-width="0.3" opacity="0.5"/>
<line x1="550.57" y1="121.36" x2="559.66" y2="121.26" stroke="#6b4a2c" stroke-width="0.45" />
<line x1="550.57" y1="121.36" x2="560.76" y2="119.36" stroke="#6b4a2c" stroke-width="0.3" opacity="0.5"/>
<polygon points="580.43,110.58 588.51,121.36 577.63,129.35 569.54,118.56" fill="#f3a970" stroke="#6b4a2c" stroke-width="0.45" stroke-linejoin="round" />
<line x1="580.43" y1="110.58" x2="578.63" y2="121.26" stroke="#6b4a2c" stroke-width="0.45" />
<line x1="580.43" y1="110.58" x2="578.33" y2="119.36" stroke="#6b4a2c" stroke-width="0.3" opacity="0.5"/>
<line x1="588.51" y1="121.36" x2="578.63" y2="121.26" stroke="#6b4a2c" stroke-width="0.45" />
<line x1="588.51" y1="121.36" x2="578.33" y2="119.36" stroke="#6b4a2c" stroke-width="0.3" opacity="0.5"/>
<line x1="577.63" y1="129.35" x2="578.63" y2="121.26" stroke="#6b4a2c" stroke-width="0.45" />
<line x1="577.63" y1="129.35" x2="578.33" y2="119.36" stroke="#6b4a2c" stroke-width="0.3" opacity="0.5"/>
<line x1="569.54" y1="118.56" x2="578.63" y2="121.26" stroke="#6b4a2c" stroke-width="0.45" />
<line x1="569.54" y1="118.56" x2="578.33" y2="119.36" stroke="#6b4a2c" stroke-width="0.3" opacity="0.5"/>
<polygon points="596.6,110.58 607.49,118.56 599.4,129.35 588.51,121.36" fill="#f3a970" stroke="#6b4a2c" stroke-width="0.45" stroke-linejoin="round" />
<line x1="596.6" y1="110.58" x2="597.6" y2="121.26" stroke="#6b4a2c" stroke-width="0.45" />
<line x1="596.6" y1="110.58" x2="598.7" y2="119.36" stroke="#6b4a2c" stroke-width="0.3" opacity="0.5"/>
<line x1="607.49" y1="118.56" x2="597.6" y2="121.26" stroke="#6b4a2c" stroke-width="0.45" />
<line x1="607.49" y1="118.56" x2="598.7" y2="119.36" stroke="#6b4a2c" stroke-width="0.3" opacity="0.5"/>
<line x1="599.4" y1="129.35" x2="597.6" y2="121.26" stroke="#6b4a2c" stroke-width="0.45" />
<line x1="599.4" y1="129.35" x2="598.7" y2="119.36" stroke="#6b4a2c" stroke-width="0.3" opacity="0.5"/>
<line x1="588.51" y1="121.36" x2="597.6" y2="121.26" stroke="#6b4a2c" stroke-width="0.45" />
<line x1="588.51" y1="121.36" x2="598.7" y2="119.36" stroke="#6b4a2c" stroke-width="0.3" opacity="0.5"/>
<polygon points="618.37,110.58 626.46,121.36 615.57,129.35 607.49,118.56" fill="#f3a970" stroke="#6b4a2c" stroke-width="0.45" stroke-linejoin="round" />
<line x1="618.37" y1="110.58" x2="616.57" y2="121.26" stroke="#6b4a2c" stroke-width="0.45" />
<line x1="618.37" y1="110.58" x2="616.27" y2="119.36" stroke="#6b4a2c" stroke-width="0.3" opacity="0.5"/>
<line x1="626.46" y1="121.36" x2="616.57" y2="121.26" stroke="#6b4a2c" stroke-width="0.45" />
<line x1="626.46" y1="121.36" x2="616.27" y2="119.36" stroke="#6b4a2c" stroke-width="0.3" opacity="0.5"/>
<line x1="615.57" y1="129.35" x2="616.57" y2="121.26" stroke="#6b4a2c" stroke-width="0.45" />
<line x1="615.57" y1="129.35" x2="616.27" y2="119.36" stroke="#6b4a2c" stroke-width="0.3" opacity="0.5"/>
<line x1="607.49" y1="118.56" x2="616.57" y2="121.26" stroke="#6b4a2c" stroke-width="0.45" />
<line x1="607.49" y1="118.56" x2="616.27" y2="119.36" stroke="#6b4a2c" stroke-width="0.3" opacity="0.5"/>
<polygon points="634.54,110.58 645.43,118.56 637.34,129.35 626.46,121.36" fill="#f3a970" stroke="#6b4a2c" stroke-width="0.45" stroke-linejoin="round" />
<line x1="634.54" y1="110.58" x2="635.54" y2="121.26" stroke="#6b4a2c" stroke-width="0.45" />
<line x1="634.54" y1="110.58" x2="636.64" y2="119.36" stroke="#6b4a2c" stroke-width="0.3" opacity="0.5"/>
<line x1="645.43" y1="118.56" x2="635.54" y2="121.26" stroke="#6b4a2c" stroke-width="0.45" />
<line x1="645.43" y1="118.56" x2="636.64" y2="119.36" stroke="#6b4a2c" stroke-width="0.3" opacity="0.5"/>
<line x1="637.34" y1="129.35" x2="635.54" y2="121.26" stroke="#6b4a2c" stroke-width="0.45" />
<line x1="637.34" y1="129.35" x2="636.64" y2="119.36" stroke="#6b4a2c" stroke-width="0.3" opacity="0.5"/>
<line x1="626.46" y1="121.36" x2="635.54" y2="121.26" stroke="#6b4a2c" stroke-width="0.45" />
<line x1="626.46" y1="121.36" x2="636.64" y2="119.36" stroke="#6b4a2c" stroke-width="0.3" opacity="0.5"/>
<polygon points="656.31,110.58 664.4,121.36 653.51,129.35 645.43,118.56" fill="#f3a970" stroke="#6b4a2c" stroke-width="0.45" stroke-linejoin="round" />
<line x1="656.31" y1="110.58" x2="654.51" y2="121.26" stroke="#6b4a2c" stroke-width="0.45" />
<line x1="656.31" y1="110.58" x2="654.21" y2="119.36" stroke="#6b4a2c" stroke-width="0.3" opacity="0.5"/>
<line x1="664.4" y1="121.36" x2="654.51" y2="121.26" stroke="#6b4a2c" stroke-width="0.45" />
<line x1="664.4" y1="121.36" x2="654.21" y2="119.36" stroke="#6b4a2c" stroke-width="0.3" opacity="0.5"/>
<line x1="653.51" y1="129.35" x2="654.51" y2="121.26" stroke="#6b4a2c" stroke-width="0.45" />
<line x1="653.51" y1="129.35" x2="654.21" y2="119.36" stroke="#6b4a2c" stroke-width="0.3" opacity="0.5"/>
<line x1="645.43" y1="118.56" x2="654.51" y2="121.26" stroke="#6b4a2c" stroke-width="0.45" />
<line x1="645.43" y1="118.56" x2="654.21" y2="119.36" stroke="#6b4a2c" stroke-width="0.3" opacity="0.5"/>
<polygon points="539.69,129.35 550.57,137.34 542.49,148.12 531.6,140.14" fill="#f3a970" stroke="#6b4a2c" stroke-width="0.45" stroke-linejoin="round" />
<line x1="539.69" y1="129.35" x2="540.69" y2="140.04" stroke="#6b4a2c" stroke-width="0.45" />
<line x1="539.69" y1="129.35" x2="541.79" y2="138.14" stroke="#6b4a2c" stroke-width="0.3" opacity="0.5"/>
<line x1="550.57" y1="137.34" x2="540.69" y2="140.04" stroke="#6b4a2c" stroke-width="0.45" />
<line x1="550.57" y1="137.34" x2="541.79" y2="138.14" stroke="#6b4a2c" stroke-width="0.3" opacity="0.5"/>
<line x1="542.49" y1="148.12" x2="540.69" y2="140.04" stroke="#6b4a2c" stroke-width="0.45" />
<line x1="542.49" y1="148.12" x2="541.79" y2="138.14" stroke="#6b4a2c" stroke-width="0.3" opacity="0.5"/>
<line x1="531.6" y1="140.14" x2="540.69" y2="140.04" stroke="#6b4a2c" stroke-width="0.45" />
<line x1="531.6" y1="140.14" x2="541.79" y2="138.14" stroke="#6b4a2c" stroke-width="0.3" opacity="0.5"/>
<polygon points="561.46,129.35 569.54,140.14 558.66,148.12 550.57,137.34" fill="#f3a970" stroke="#6b4a2c" stroke-width="0.45" stroke-linejoin="round" />
<line x1="561.46" y1="129.35" x2="559.66" y2="140.04" stroke="#6b4a2c" stroke-width="0.45" />
<line x1="561.46" y1="129.35" x2="559.36" y2="138.14" stroke="#6b4a2c" stroke-width="0.3" opacity="0.5"/>
<line x1="569.54" y1="140.14" x2="559.66" y2="140.04" stroke="#6b4a2c" stroke-width="0.45" />
<line x1="569.54" y1="140.14" x2="559.36" y2="138.14" stroke="#6b4a2c" stroke-width="0.3" opacity="0.5"/>
<line x1="558.66" y1="148.12" x2="559.66" y2="140.04" stroke="#6b4a2c" stroke-width="0.45" />
<line x1="558.66" y1="148.12" x2="559.36" y2="138.14" stroke="#6b4a2c" stroke-width="0.3" opacity="0.5"/>
<line x1="550.57" y1="137.34" x2="559.66" y2="140.04" stroke="#6b4a2c" stroke-width="0.45" />
<line x1="550.57" y1="137.34" x2="559.36" y2="138.14" stroke="#6b4a2c" stroke-width="0.3" opacity="0.5"/>
<polygon points="577.63,129.35 588.51,137.34 580.43,148.12 569.54,140.14" fill="#f3a970" stroke="#6b4a2c" stroke-width="0.45" stroke-linejoin="round" />
<line x1="577.63" y1="129.35" x2="578.63" y2="140.04" stroke="#6b4a2c" stroke-width="0.45" />
<line x1="577.63" y1="129.35" x2="579.73" y2="138.14" stroke="#6b4a2c" stroke-width="0.3" opacity="0.5"/>
<line x1="588.51" y1="137.34" x2="578.63" y2="140.04" stroke="#6b4a2c" stroke-width="0.45" />
<line x1="588.51" y1="137.34" x2="579.73" y2="138.14" stroke="#6b4a2c" stroke-width="0.3" opacity="0.5"/>
<line x1="580.43" y1="148.12" x2="578.63" y2="140.04" stroke="#6b4a2c" stroke-width="0.45" />
<line x1="580.43" y1="148.12" x2="579.73" y2="138.14" stroke="#6b4a2c" stroke-width="0.3" opacity="0.5"/>
<line x1="569.54" y1="140.14" x2="578.63" y2="140.04" stroke="#6b4a2c" stroke-width="0.45" />
<line x1="569.54" y1="140.14" x2="579.73" y2="138.14" stroke="#6b4a2c" stroke-width="0.3" opacity="0.5"/>
<polygon points="599.4,129.35 607.49,140.14 596.6,148.12 588.51,137.34" fill="#f3a970" stroke="#6b4a2c" stroke-width="0.45" stroke-linejoin="round" />
<line x1="599.4" y1="129.35" x2="597.6" y2="140.04" stroke="#6b4a2c" stroke-width="0.45" />
<line x1="599.4" y1="129.35" x2="597.3" y2="138.14" stroke="#6b4a2c" stroke-width="0.3" opacity="0.5"/>
<line x1="607.49" y1="140.14" x2="597.6" y2="140.04" stroke="#6b4a2c" stroke-width="0.45" />
<line x1="607.49" y1="140.14" x2="597.3" y2="138.14" stroke="#6b4a2c" stroke-width="0.3" opacity="0.5"/>
<line x1="596.6" y1="148.12" x2="597.6" y2="140.04" stroke="#6b4a2c" stroke-width="0.45" />
<line x1="596.6" y1="148.12" x2="597.3" y2="138.14" stroke="#6b4a2c" stroke-width="0.3" opacity="0.5"/>
<line x1="588.51" y1="137.34" x2="597.6" y2="140.04" stroke="#6b4a2c" stroke-width="0.45" />
<line x1="588.51" y1="137.34" x2="597.3" y2="138.14" stroke="#6b4a2c" stroke-width="0.3" opacity="0.5"/>
<polygon points="615.57,129.35 626.46,137.34 618.37,148.12 607.49,140.14" fill="#f3a970" stroke="#6b4a2c" stroke-width="0.45" stroke-linejoin="round" />
<line x1="615.57" y1="129.35" x2="616.57" y2="140.04" stroke="#6b4a2c" stroke-width="0.45" />
<line x1="615.57" y1="129.35" x2="617.67" y2="138.14" stroke="#6b4a2c" stroke-width="0.3" opacity="0.5"/>
<line x1="626.46" y1="137.34" x2="616.57" y2="140.04" stroke="#6b4a2c" stroke-width="0.45" />
<line x1="626.46" y1="137.34" x2="617.67" y2="138.14" stroke="#6b4a2c" stroke-width="0.3" opacity="0.5"/>
<line x1="618.37" y1="148.12" x2="616.57" y2="140.04" stroke="#6b4a2c" stroke-width="0.45" />
<line x1="618.37" y1="148.12" x2="617.67" y2="138.14" stroke="#6b4a2c" stroke-width="0.3" opacity="0.5"/>
<line x1="607.49" y1="140.14" x2="616.57" y2="140.04" stroke="#6b4a2c" stroke-width="0.45" />
<line x1="607.49" y1="140.14" x2="617.67" y2="138.14" stroke="#6b4a2c" stroke-width="0.3" opacity="0.5"/>
<polygon points="637.34,129.35 645.43,140.14 634.54,148.12 626.46,137.34" fill="#f3a970" stroke="#6b4a2c" stroke-width="0.45" stroke-linejoin="round" />
<line x1="637.34" y1="129.35" x2="635.54" y2="140.04" stroke="#6b4a2c" stroke-width="0.45" />
<line x1="637.34" y1="129.35" x2="635.24" y2="138.14" stroke="#6b4a2c" stroke-width="0.3" opacity="0.5"/>
<line x1="645.43" y1="140.14" x2="635.54" y2="140.04" stroke="#6b4a2c" stroke-width="0.45" />
<line x1="645.43" y1="140.14" x2="635.24" y2="138.14" stroke="#6b4a2c" stroke-width="0.3" opacity="0.5"/>
<line x1="634.54" y1="148.12" x2="635.54" y2="140.04" stroke="#6b4a2c" stroke-width="0.45" />
<line x1="634.54" y1="148.12" x2="635.24" y2="138.14" stroke="#6b4a2c" stroke-width="0.3" opacity="0.5"/>
<line x1="626.46" y1="137.34" x2="635.54" y2="140.04" stroke="#6b4a2c" stroke-width="0.45" />
<line x1="626.46" y1="137.34" x2="635.24" y2="138.14" stroke="#6b4a2c" stroke-width="0.3" opacity="0.5"/>
<polygon points="653.51,129.35 664.4,137.34 656.31,148.12 645.43,140.14" fill="#f3a970" stroke="#6b4a2c" stroke-width="0.45" stroke-linejoin="round" />
<line x1="653.51" y1="129.35" x2="654.51" y2="140.04" stroke="#6b4a2c" stroke-width="0.45" />
<line x1="653.51" y1="129.35" x2="655.61" y2="138.14" stroke="#6b4a2c" stroke-width="0.3" opacity="0.5"/>
<line x1="664.4" y1="137.34" x2="654.51" y2="140.04" stroke="#6b4a2c" stroke-width="0.45" />
<line x1="664.4" y1="137.34" x2="655.61" y2="138.14" stroke="#6b4a2c" stroke-width="0.3" opacity="0.5"/>
<line x1="656.31" y1="148.12" x2="654.51" y2="140.04" stroke="#6b4a2c" stroke-width="0.45" />
<line x1="656.31" y1="148.12" x2="655.61" y2="138.14" stroke="#6b4a2c" stroke-width="0.3" opacity="0.5"/>
<line x1="645.43" y1="140.14" x2="654.51" y2="140.04" stroke="#6b4a2c" stroke-width="0.45" />
<line x1="645.43" y1="140.14" x2="655.61" y2="138.14" stroke="#6b4a2c" stroke-width="0.3" opacity="0.5"/>
<polygon points="542.49,148.12 550.57,158.91 539.69,166.9 531.6,156.11" fill="#f3a970" stroke="#6b4a2c" stroke-width="0.45" stroke-linejoin="round" />
<line x1="542.49" y1="148.12" x2="540.69" y2="158.81" stroke="#6b4a2c" stroke-width="0.45" />
<line x1="542.49" y1="148.12" x2="540.39" y2="156.91" stroke="#6b4a2c" stroke-width="0.3" opacity="0.5"/>
<line x1="550.57" y1="158.91" x2="540.69" y2="158.81" stroke="#6b4a2c" stroke-width="0.45" />
<line x1="550.57" y1="158.91" x2="540.39" y2="156.91" stroke="#6b4a2c" stroke-width="0.3" opacity="0.5"/>
<line x1="539.69" y1="166.9" x2="540.69" y2="158.81" stroke="#6b4a2c" stroke-width="0.45" />
<line x1="539.69" y1="166.9" x2="540.39" y2="156.91" stroke="#6b4a2c" stroke-width="0.3" opacity="0.5"/>
<line x1="531.6" y1="156.11" x2="540.69" y2="158.81" stroke="#6b4a2c" stroke-width="0.45" />
<line x1="531.6" y1="156.11" x2="540.39" y2="156.91" stroke="#6b4a2c" stroke-width="0.3" opacity="0.5"/>
<polygon points="558.66,148.12 569.54,156.11 561.46,166.9 550.57,158.91" fill="#f3a970" stroke="#6b4a2c" stroke-width="0.45" stroke-linejoin="round" />
<line x1="558.66" y1="148.12" x2="559.66" y2="158.81" stroke="#6b4a2c" stroke-width="0.45" />
<line x1="558.66" y1="148.12" x2="560.76" y2="156.91" stroke="#6b4a2c" stroke-width="0.3" opacity="0.5"/>
<line x1="569.54" y1="156.11" x2="559.66" y2="158.81" stroke="#6b4a2c" stroke-width="0.45" />
<line x1="569.54" y1="156.11" x2="560.76" y2="156.91" stroke="#6b4a2c" stroke-width="0.3" opacity="0.5"/>
<line x1="561.46" y1="166.9" x2="559.66" y2="158.81" stroke="#6b4a2c" stroke-width="0.45" />
<line x1="561.46" y1="166.9" x2="560.76" y2="156.91" stroke="#6b4a2c" stroke-width="0.3" opacity="0.5"/>
<line x1="550.57" y1="158.91" x2="559.66" y2="158.81" stroke="#6b4a2c" stroke-width="0.45" />
<line x1="550.57" y1="158.91" x2="560.76" y2="156.91" stroke="#6b4a2c" stroke-width="0.3" opacity="0.5"/>
<polygon points="580.43,148.12 588.51,158.91 577.63,166.9 569.54,156.11" fill="#f3a970" stroke="#6b4a2c" stroke-width="0.45" stroke-linejoin="round" />
<line x1="580.43" y1="148.12" x2="578.63" y2="158.81" stroke="#6b4a2c" stroke-width="0.45" />
<line x1="580.43" y1="148.12" x2="578.33" y2="156.91" stroke="#6b4a2c" stroke-width="0.3" opacity="0.5"/>
<line x1="588.51" y1="158.91" x2="578.63" y2="158.81" stroke="#6b4a2c" stroke-width="0.45" />
<line x1="588.51" y1="158.91" x2="578.33" y2="156.91" stroke="#6b4a2c" stroke-width="0.3" opacity="0.5"/>
<line x1="577.63" y1="166.9" x2="578.63" y2="158.81" stroke="#6b4a2c" stroke-width="0.45" />
<line x1="577.63" y1="166.9" x2="578.33" y2="156.91" stroke="#6b4a2c" stroke-width="0.3" opacity="0.5"/>
<line x1="569.54" y1="156.11" x2="578.63" y2="158.81" stroke="#6b4a2c" stroke-width="0.45" />
<line x1="569.54" y1="156.11" x2="578.33" y2="156.91" stroke="#6b4a2c" stroke-width="0.3" opacity="0.5"/>
<polygon points="596.6,148.12 607.49,156.11 599.4,166.9 588.51,158.91" fill="#f3a970" stroke="#6b4a2c" stroke-width="0.45" stroke-linejoin="round" />
<line x1="596.6" y1="148.12" x2="597.6" y2="158.81" stroke="#6b4a2c" stroke-width="0.45" />
<line x1="596.6" y1="148.12" x2="598.7" y2="156.91" stroke="#6b4a2c" stroke-width="0.3" opacity="0.5"/>
<line x1="607.49" y1="156.11" x2="597.6" y2="158.81" stroke="#6b4a2c" stroke-width="0.45" />
<line x1="607.49" y1="156.11" x2="598.7" y2="156.91" stroke="#6b4a2c" stroke-width="0.3" opacity="0.5"/>
<line x1="599.4" y1="166.9" x2="597.6" y2="158.81" stroke="#6b4a2c" stroke-width="0.45" />
<line x1="599.4" y1="166.9" x2="598.7" y2="156.91" stroke="#6b4a2c" stroke-width="0.3" opacity="0.5"/>
<line x1="588.51" y1="158.91" x2="597.6" y2="158.81" stroke="#6b4a2c" stroke-width="0.45" />
<line x1="588.51" y1="158.91" x2="598.7" y2="156.91" stroke="#6b4a2c" stroke-width="0.3" opacity="0.5"/>
<polygon points="618.37,148.12 626.46,158.91 615.57,166.9 607.49,156.11" fill="#f3a970" stroke="#6b4a2c" stroke-width="0.45" stroke-linejoin="round" />
<line x1="618.37" y1="148.12" x2="616.57" y2="158.81" stroke="#6b4a2c" stroke-width="0.45" />
<line x1="618.37" y1="148.12" x2="616.27" y2="156.91" stroke="#6b4a2c" stroke-width="0.3" opacity="0.5"/>
<line x1="626.46" y1="158.91" x2="616.57" y2="158.81" stroke="#6b4a2c" stroke-width="0.45" />
<line x1="626.46" y1="158.91" x2="616.27" y2="156.91" stroke="#6b4a2c" stroke-width="0.3" opacity="0.5"/>
<line x1="615.57" y1="166.9" x2="616.57" y2="158.81" stroke="#6b4a2c" stroke-width="0.45" />
<line x1="615.57" y1="166.9" x2="616.27" y2="156.91" stroke="#6b4a2c" stroke-width="0.3" opacity="0.5"/>
<line x1="607.49" y1="156.11" x2="616.57" y2="158.81" stroke="#6b4a2c" stroke-width="0.45" />
<line x1="607.49" y1="156.11" x2="616.27" y2="156.91" stroke="#6b4a2c" stroke-width="0.3" opacity="0.5"/>
<polygon points="634.54,148.12 645.43,156.11 637.34,166.9 626.46,158.91" fill="#f3a970" stroke="#6b4a2c" stroke-width="0.45" stroke-linejoin="round" />
<line x1="634.54" y1="148.12" x2="635.54" y2="158.81" stroke="#6b4a2c" stroke-width="0.45" />
<line x1="634.54" y1="148.12" x2="636.64" y2="156.91" stroke="#6b4a2c" stroke-width="0.3" opacity="0.5"/>
<line x1="645.43" y1="156.11" x2="635.54" y2="158.81" stroke="#6b4a2c" stroke-width="0.45" />
<line x1="645.43" y1="156.11" x2="636.64" y2="156.91" stroke="#6b4a2c" stroke-width="0.3" opacity="0.5"/>
<line x1="637.34" y1="166.9" x2="635.54" y2="158.81" stroke="#6b4a2c" stroke-width="0.45" />
<line x1="637.34" y1="166.9" x2="636.64" y2="156.91" stroke="#6b4a2c" stroke-width="0.3" opacity="0.5"/>
<line x1="626.46" y1="158.91" x2="635.54" y2="158.81" stroke="#6b4a2c" stroke-width="0.45" />
<line x1="626.46" y1="158.91" x2="636.64" y2="156.91" stroke="#6b4a2c" stroke-width="0.3" opacity="0.5"/>
<polygon points="656.31,148.12 664.4,158.91 653.51,166.9 645.43,156.11" fill="#f3a970" stroke="#6b4a2c" stroke-width="0.45" stroke-linejoin="round" />
<line x1="656.31" y1="148.12" x2="654.51" y2="158.81" stroke="#6b4a2c" stroke-width="0.45" />
<line x1="656.31" y1="148.12" x2="654.21" y2="156.91" stroke="#6b4a2c" stroke-width="0.3" opacity="0.5"/>
<line x1="664.4" y1="158.91" x2="654.51" y2="158.81" stroke="#6b4a2c" stroke-width="0.45" />
<line x1="664.4" y1="158.91" x2="654.21" y2="156.91" stroke="#6b4a2c" stroke-width="0.3" opacity="0.5"/>
<line x1="653.51" y1="166.9" x2="654.51" y2="158.81" stroke="#6b4a2c" stroke-width="0.45" />
<line x1="653.51" y1="166.9" x2="654.21" y2="156.91" stroke="#6b4a2c" stroke-width="0.3" opacity="0.5"/>
<line x1="645.43" y1="156.11" x2="654.51" y2="158.81" stroke="#6b4a2c" stroke-width="0.45" />
<line x1="645.43" y1="156.11" x2="654.21" y2="156.91" stroke="#6b4a2c" stroke-width="0.3" opacity="0.5"/>
<circle cx="539.69" cy="91.8" r="1.1" fill="#e6b000" />
<circle cx="550.57" cy="99.79" r="1.1" fill="#70ae3e" />
<circle cx="542.49" cy="110.58" r="1.1" fill="#70ae3e" />
<circle cx="531.6" cy="102.59" r="1.1" fill="#70ae3e" />
<circle cx="540.69" cy="102.49" r="1" fill="#e6b000" />
<circle cx="561.46" cy="91.8" r="1.1" fill="#e6b000" />
<circle cx="569.54" cy="102.59" r="1.1" fill="#70ae3e" />
<circle cx="558.66" cy="110.58" r="1.1" fill="#e6b000" />
<circle cx="559.66" cy="102.49" r="1" fill="#70ae3e" />
<circle cx="577.63" cy="91.8" r="1.1" fill="#70ae3e" />
<circle cx="588.51" cy="99.79" r="1.1" fill="#70ae3e" />
<circle cx="580.43" cy="110.58" r="1.1" fill="#e6b000" />
<circle cx="578.63" cy="102.49" r="1" fill="#70ae3e" />
<circle cx="599.4" cy="91.8" r="1.1" fill="#70ae3e" />
<circle cx="607.49" cy="102.59" r="1.1" fill="#70ae3e" />
<circle cx="596.6" cy="110.58" r="1.1" fill="#70ae3e" />
<circle cx="597.6" cy="102.49" r="1" fill="#70ae3e" />
<circle cx="615.57" cy="91.8" r="1.1" fill="#e6b000" />
<circle cx="626.46" cy="99.79" r="1.1" fill="#e6b000" />
<circle cx="618.37" cy="110.58" r="1.1" fill="#70ae3e" />
<circle cx="616.57" cy="102.49" r="1" fill="#70ae3e" />
<circle cx="637.34" cy="91.8" r="1.1" fill="#70ae3e" />
<circle cx="645.43" cy="102.59" r="1.1" fill="#70ae3e" />
<circle cx="634.54" cy="110.58" r="1.1" fill="#e6b000" />
<circle cx="635.54" cy="102.49" r="1" fill="#e6b000" />
<circle cx="653.51" cy="91.8" r="1.1" fill="#70ae3e" />
<circle cx="664.4" cy="99.79" r="1.1" fill="#70ae3e" />
<circle cx="656.31" cy="110.58" r="1.1" fill="#e6b000" />
<circle cx="654.51" cy="102.49" r="1" fill="#e6b000" />
<circle cx="550.57" cy="121.36" r="1.1" fill="#e6b000" />
<circle cx="539.69" cy="129.35" r="1.1" fill="#70ae3e" />
<circle cx="531.6" cy="118.56" r="1.1" fill="#e6b000" />
<circle cx="540.69" cy="121.26" r="1" fill="#e6b000" />
<circle cx="569.54" cy="118.56" r="1.1" fill="#e6b000" />
<circle cx="561.46" cy="129.35" r="1.1" fill="#e6b000" />
<circle cx="559.66" cy="121.26" r="1" fill="#70ae3e" />
<circle cx="588.51" cy="121.36" r="1.1" fill="#e6b000" />
<circle cx="577.63" cy="129.35" r="1.1" fill="#70ae3e" />
<circle cx="578.63" cy="121.26" r="1" fill="#70ae3e" />
<circle cx="607.49" cy="118.56" r="1.1" fill="#70ae3e" />
<circle cx="599.4" cy="129.35" r="1.1" fill="#e6b000" />
<circle cx="597.6" cy="121.26" r="1" fill="#e6b000" />
<circle cx="626.46" cy="121.36" r="1.1" fill="#e6b000" />
<circle cx="615.57" cy="129.35" r="1.1" fill="#e6b000" />
<circle cx="616.57" cy="121.26" r="1" fill="#e6b000" />
<circle cx="645.43" cy="118.56" r="1.1" fill="#e6b000" />
<circle cx="637.34" cy="129.35" r="1.1" fill="#e6b000" />
<circle cx="635.54" cy="121.26" r="1" fill="#e6b000" />
<circle cx="664.4" cy="121.36" r="1.1" fill="#70ae3e" />
<circle cx="653.51" cy="129.35" r="1.1" fill="#e6b000" />
<circle cx="654.51" cy="121.26" r="1" fill="#70ae3e" />
<circle cx="539.69" cy="129.35" r="1.1" fill="#70ae3e" />
<circle cx="550.57" cy="137.34" r="1.1" fill="#70ae3e" />
<circle cx="542.49" cy="148.12" r="1.1" fill="#70ae3e" />
<circle cx="531.6" cy="140.14" r="1.1" fill="#70ae3e" />
<circle cx="540.69" cy="140.04" r="1" fill="#e6b000" />
<circle cx="561.46" cy="129.35" r="1.1" fill="#e6b000" />
<circle cx="569.54" cy="140.14" r="1.1" fill="#70ae3e" />
<circle cx="558.66" cy="148.12" r="1.1" fill="#70ae3e" />
<circle cx="559.66" cy="140.04" r="1" fill="#e6b000" />
<circle cx="577.63" cy="129.35" r="1.1" fill="#70ae3e" />
<circle cx="588.51" cy="137.34" r="1.1" fill="#e6b000" />
<circle cx="580.43" cy="148.12" r="1.1" fill="#e6b000" />
<circle cx="578.63" cy="140.04" r="1" fill="#70ae3e" />
<circle cx="599.4" cy="129.35" r="1.1" fill="#70ae3e" />
<circle cx="607.49" cy="140.14" r="1.1" fill="#e6b000" />
<circle cx="596.6" cy="148.12" r="1.1" fill="#70ae3e" />
<circle cx="597.6" cy="140.04" r="1" fill="#70ae3e" />
<circle cx="615.57" cy="129.35" r="1.1" fill="#e6b000" />
<circle cx="626.46" cy="137.34" r="1.1" fill="#e6b000" />
<circle cx="618.37" cy="148.12" r="1.1" fill="#e6b000" />
<circle cx="616.57" cy="140.04" r="1" fill="#e6b000" />
<circle cx="637.34" cy="129.35" r="1.1" fill="#70ae3e" />
<circle cx="645.43" cy="140.14" r="1.1" fill="#e6b000" />
<circle cx="634.54" cy="148.12" r="1.1" fill="#e6b000" />
<circle cx="635.54" cy="140.04" r="1" fill="#e6b000" />
<circle cx="653.51" cy="129.35" r="1.1" fill="#70ae3e" />
<circle cx="664.4" cy="137.34" r="1.1" fill="#70ae3e" />
<circle cx="656.31" cy="148.12" r="1.1" fill="#70ae3e" />
<circle cx="654.51" cy="140.04" r="1" fill="#e6b000" />
<circle cx="550.57" cy="158.91" r="1.1" fill="#e6b000" />
<circle cx="539.69" cy="166.9" r="1.1" fill="#e6b000" />
<circle cx="531.6" cy="156.11" r="1.1" fill="#e6b000" />
<circle cx="540.69" cy="158.81" r="1" fill="#70ae3e" />
<circle cx="569.54" cy="156.11" r="1.1" fill="#e6b000" />
<circle cx="561.46" cy="166.9" r="1.1" fill="#70ae3e" />
<circle cx="559.66" cy="158.81" r="1" fill="#e6b000" />
<circle cx="588.51" cy="158.91" r="1.1" fill="#e6b000" />
<circle cx="577.63" cy="166.9" r="1.1" fill="#70ae3e" />
<circle cx="578.63" cy="158.81" r="1" fill="#e6b000" />
<circle cx="607.49" cy="156.11" r="1.1" fill="#70ae3e" />
<circle cx="599.4" cy="166.9" r="1.1" fill="#e6b000" />
<circle cx="597.6" cy="158.81" r="1" fill="#e6b000" />
<circle cx="626.46" cy="158.91" r="1.1" fill="#70ae3e" />
<circle cx="615.57" cy="166.9" r="1.1" fill="#e6b000" />
<circle cx="616.57" cy="158.81" r="1" fill="#70ae3e" />
<circle cx="645.43" cy="156.11" r="1.1" fill="#70ae3e" />
<circle cx="637.34" cy="166.9" r="1.1" fill="#e6b000" />
<circle cx="635.54" cy="158.81" r="1" fill="#70ae3e" />
<circle cx="664.4" cy="158.91" r="1.1" fill="#70ae3e" />
<circle cx="653.51" cy="166.9" r="1.1" fill="#e6b000" />
<circle cx="654.51" cy="158.81" r="1" fill="#70ae3e" />
<line x1="551.58" y1="112.59" x2="549.57" y2="108.56" stroke="#2b2b40" stroke-width="0.9" />
<circle cx="551.58" cy="112.59" r="1.7" fill="#e8101a" />
<circle cx="549.57" cy="108.56" r="1.45" fill="#3f72d0" />
<line x1="567.35" y1="110.06" x2="571.73" y2="111.09" stroke="#2b2b40" stroke-width="0.9" />
<circle cx="567.35" cy="110.06" r="1.7" fill="#e8101a" />
<circle cx="571.73" cy="111.09" r="1.45" fill="#3f72d0" />
<line x1="587.67" y1="112.66" x2="589.36" y2="108.49" stroke="#2b2b40" stroke-width="0.9" />
<circle cx="587.67" cy="112.66" r="1.7" fill="#e8101a" />
<circle cx="589.36" cy="108.49" r="1.45" fill="#3f72d0" />
<line x1="608.89" y1="112.33" x2="606.08" y2="108.82" stroke="#2b2b40" stroke-width="0.9" />
<circle cx="608.89" cy="112.33" r="1.7" fill="#e8101a" />
<circle cx="606.08" cy="108.82" r="1.45" fill="#3f72d0" />
<line x1="626.79" y1="112.8" x2="626.12" y2="108.35" stroke="#2b2b40" stroke-width="0.9" />
<circle cx="626.79" cy="112.8" r="1.7" fill="#e8101a" />
<circle cx="626.12" cy="108.35" r="1.45" fill="#3f72d0" />
<line x1="647.52" y1="109.74" x2="643.34" y2="111.41" stroke="#2b2b40" stroke-width="0.9" />
<circle cx="647.52" cy="109.74" r="1.7" fill="#e8101a" />
<circle cx="643.34" cy="111.41" r="1.45" fill="#3f72d0" />
<line x1="548.56" y1="128.34" x2="552.58" y2="130.36" stroke="#2b2b40" stroke-width="0.9" />
<circle cx="548.56" cy="128.34" r="1.7" fill="#e8101a" />
<circle cx="552.58" cy="130.36" r="1.45" fill="#3f72d0" />
<line x1="568.59" y1="131.39" x2="570.49" y2="127.31" stroke="#2b2b40" stroke-width="0.9" />
<circle cx="568.59" cy="131.39" r="1.7" fill="#e8101a" />
<circle cx="570.49" cy="127.31" r="1.45" fill="#3f72d0" />
<line x1="590.5" y1="130.41" x2="586.53" y2="128.29" stroke="#2b2b40" stroke-width="0.9" />
<circle cx="590.5" cy="130.41" r="1.7" fill="#e8101a" />
<circle cx="586.53" cy="128.29" r="1.45" fill="#3f72d0" />
<line x1="608.05" y1="131.53" x2="606.92" y2="127.17" stroke="#2b2b40" stroke-width="0.9" />
<circle cx="608.05" cy="131.53" r="1.7" fill="#e8101a" />
<circle cx="606.92" cy="127.17" r="1.45" fill="#3f72d0" />
<line x1="628.21" y1="127.94" x2="624.7" y2="130.76" stroke="#2b2b40" stroke-width="0.9" />
<circle cx="628.21" cy="127.94" r="1.7" fill="#e8101a" />
<circle cx="624.7" cy="130.76" r="1.45" fill="#3f72d0" />
<line x1="644.42" y1="131.36" x2="646.43" y2="127.34" stroke="#2b2b40" stroke-width="0.9" />
<circle cx="644.42" cy="131.36" r="1.7" fill="#e8101a" />
<circle cx="646.43" cy="127.34" r="1.45" fill="#3f72d0" />
<line x1="551.63" y1="146.14" x2="549.51" y2="150.11" stroke="#2b2b40" stroke-width="0.9" />
<circle cx="551.63" cy="146.14" r="1.7" fill="#e8101a" />
<circle cx="549.51" cy="150.11" r="1.45" fill="#3f72d0" />
<line x1="571.58" y1="147.18" x2="567.5" y2="149.07" stroke="#2b2b40" stroke-width="0.9" />
<circle cx="571.58" cy="147.18" r="1.7" fill="#e8101a" />
<circle cx="567.5" cy="149.07" r="1.45" fill="#3f72d0" />
<line x1="587.99" y1="145.94" x2="589.04" y2="150.31" stroke="#2b2b40" stroke-width="0.9" />
<circle cx="587.99" cy="145.94" r="1.7" fill="#e8101a" />
<circle cx="589.04" cy="150.31" r="1.45" fill="#3f72d0" />
<line x1="605.27" y1="147.76" x2="609.71" y2="148.49" stroke="#2b2b40" stroke-width="0.9" />
<circle cx="605.27" cy="147.76" r="1.7" fill="#e8101a" />
<circle cx="609.71" cy="148.49" r="1.45" fill="#3f72d0" />
<line x1="627.9" y1="149.85" x2="625.02" y2="146.4" stroke="#2b2b40" stroke-width="0.9" />
<circle cx="627.9" cy="149.85" r="1.7" fill="#e8101a" />
<circle cx="625.02" cy="146.4" r="1.45" fill="#3f72d0" />
<line x1="647.62" y1="148.62" x2="643.23" y2="147.63" stroke="#2b2b40" stroke-width="0.9" />
<circle cx="647.62" cy="148.62" r="1.7" fill="#e8101a" />
<circle cx="643.23" cy="147.63" r="1.45" fill="#3f72d0" />
</g>
<rect x="519.9" y="167.8" width="155.2" height="14.2" fill="#b4c6e6" stroke="#76849f" stroke-width="0.7" />
<text x="0.3" y="221.8" font-size="10.5" fill="#111" text-anchor="start" font-weight="bold" font-style="normal" >(b)</text>
<g clip-path="url(#semClip)">
<rect x="0" y="227.9" width="240" height="145.7" fill="url(#semV)" transform="rotate(0.45 118 281)"/>
<rect x="0" y="225" width="240" height="6.5" fill="#4b4b4b" stroke="none" stroke-width="0.5" transform="rotate(0.45 118 281)"/>
<g filter="url(#blur4)" opacity="0.55">
<ellipse cx="113" cy="300" rx="16" ry="8" fill="#8c8c8c"/>
<ellipse cx="165" cy="312" rx="18" ry="5" fill="#8e8e8e"/>
<ellipse cx="70" cy="306" rx="20" ry="6" fill="#6c6c6c"/>
<ellipse cx="200" cy="300" rx="10" ry="8" fill="#858585"/>
<ellipse cx="110" cy="340" rx="9" ry="22" fill="#8e8e8e"/>
<ellipse cx="60" cy="345" rx="8" ry="20" fill="#767676"/>
<ellipse cx="150" cy="345" rx="9" ry="20" fill="#787878"/>
<ellipse cx="118" cy="281.5" rx="40" ry="2.2" fill="#e2e2e2"/>
</g>
<rect x="16.7" y="230.9" width="203.6" height="139.7" fill="url(#semH)" stroke="none" stroke-width="0.5" />
</g>
<text x="26.6" y="247.5" font-size="10.3" fill="#fff" text-anchor="start" font-weight="bold" font-style="normal" >2D/3D</text>
<text x="27.4" y="285.2" font-size="10.3" fill="#fff" text-anchor="start" font-weight="bold" font-style="normal" >2D</text>
<text x="27.4" y="305.5" font-size="10.3" fill="#fff" text-anchor="start" font-weight="bold" font-style="normal" >3D</text>
<text x="26.8" y="353.7" font-size="10.3" fill="#fff" text-anchor="start" font-weight="bold" font-style="normal" >ITO</text>
<text x="172.8" y="356.2" font-size="10.4" fill="#fff" text-anchor="start" font-weight="bold" font-style="normal" >50 nm</text>
<rect x="174" y="361" width="32" height="6.5" fill="#fff" stroke="none" stroke-width="0.5" />
<g clip-path="url(#clipC)">
<rect x="268.7" y="220" width="182.5" height="155" fill="url(#bgC)" stroke="none" stroke-width="0.5" />
<ellipse cx="299.7" cy="375" rx="95" ry="85" fill="url(#haloC)"/>
<rect x="268.7" y="220" width="182.5" height="155" fill="#fff" stroke="none" stroke-width="0.5" filter="url(#grain)" opacity="0.32"/>
<g filter="url(#pkS)" fill="none" opacity="0.6">
<path d="M272,317 Q298.5,303.5 325,317" stroke="#2a94f8" stroke-width="1.6"/>
</g>
<rect x="268.7" y="370.8" width="182.5" height="4.4" fill="#0c27a6" stroke="none" stroke-width="0.5" />
<rect x="268.7" y="368.6" width="182.5" height="1.6" fill="#2a7cf8" stroke="none" stroke-width="0.5" opacity="0.55" filter="url(#pk)"/>
<g filter="url(#pkS)">
<ellipse cx="298.5" cy="244.2" rx="16.5" ry="2.8" fill="#1c86fa" opacity="0.85"/>
</g><g filter="url(#pk)">
<ellipse cx="299.5" cy="244.2" rx="11" ry="1.4" fill="#26b8f4" opacity="0.85"/>
</g>
<g filter="url(#pkS)"><ellipse cx="298.5" cy="309.4" rx="17" ry="2.6" fill="#1c86fa" opacity="0.9"/></g>
<g transform="rotate(0 298.5 309.3)" opacity="1">
<ellipse cx="298.5" cy="309.3" rx="16.32" ry="4.58" fill="#2496fa" opacity="0.8" filter="url(#pkS)"/>
<g filter="url(#pk)">
<ellipse cx="298.5" cy="309.3" rx="10.36" ry="2.31" fill="#22d4ee"/>
<ellipse cx="298.5" cy="309.3" rx="9.07" ry="2.03" fill="#7cf07c"/>
<ellipse cx="298.5" cy="309.3" rx="8.18" ry="1.82" fill="#f4ee1c"/>
<ellipse cx="298.5" cy="309.3" rx="7.28" ry="1.62" fill="#fa7a0c"/>
<ellipse cx="298.5" cy="309.3" rx="6.5" ry="1.45" fill="#e81208"/>
<ellipse cx="298.5" cy="309.3" rx="5.6" ry="1.25" fill="#8a0000"/>
</g></g>
<g filter="url(#pk)">
<path d="M299.5,313 L300.3,348 L301.4,365 L298.0,365 L298.9,348 Z" fill="#2aa8f6" opacity="0.7"/>
<path d="M299.7,345 L300.8,365 L298.6,365 Z" fill="#f4ee1c"/>
<path d="M299.7,351 L300.6,365 L298.8,365 Z" fill="#e81208"/>
</g>
<ellipse cx="299.7" cy="375" rx="12.3" ry="10.4" fill="#0a1e90"/>
<g transform="rotate(24 359.3 241.2)" opacity="1">
<ellipse cx="359.3" cy="241.2" rx="11.19" ry="6.06" fill="#2496fa" opacity="0.8" filter="url(#pkS)"/>
<g filter="url(#pk)">
<ellipse cx="359.3" cy="241.2" rx="6.85" ry="3.33" fill="#22d4ee"/>
<ellipse cx="359.3" cy="241.2" rx="5.99" ry="2.92" fill="#7cf07c"/>
<ellipse cx="359.3" cy="241.2" rx="5.4" ry="2.63" fill="#f4ee1c"/>
<ellipse cx="359.3" cy="241.2" rx="4.81" ry="2.34" fill="#fa7a0c"/>
<ellipse cx="359.3" cy="241.2" rx="4.29" ry="2.09" fill="#e81208"/>
<ellipse cx="359.3" cy="241.2" rx="3.7" ry="1.8" fill="#8a0000"/>
</g></g>
<g transform="rotate(38 386.2 240.3)" opacity="1">
<ellipse cx="386.2" cy="240.3" rx="6.33" ry="4.44" fill="#2496fa" opacity="0.8" filter="url(#pkS)"/>
<g filter="url(#pk)">
<ellipse cx="386.2" cy="240.3" rx="3.52" ry="2.22" fill="#22d4ee"/>
<ellipse cx="386.2" cy="240.3" rx="3.08" ry="1.94" fill="#7cf07c"/>
<ellipse cx="386.2" cy="240.3" rx="2.77" ry="1.75" fill="#f4ee1c"/>
<ellipse cx="386.2" cy="240.3" rx="2.47" ry="1.56" fill="#fa7a0c"/>
</g></g>
<g transform="rotate(45 426.9 241.6)" opacity="1">
<ellipse cx="426.9" cy="241.6" rx="7.14" ry="4.98" fill="#2496fa" opacity="0.8" filter="url(#pkS)"/>
<g filter="url(#pk)">
<ellipse cx="426.9" cy="241.6" rx="4.07" ry="2.59" fill="#22d4ee"/>
<ellipse cx="426.9" cy="241.6" rx="3.56" ry="2.27" fill="#7cf07c"/>
<ellipse cx="426.9" cy="241.6" rx="3.21" ry="2.04" fill="#f4ee1c"/>
<ellipse cx="426.9" cy="241.6" rx="2.86" ry="1.82" fill="#fa7a0c"/>
<ellipse cx="426.9" cy="241.6" rx="2.55" ry="1.62" fill="#e81208"/>
</g></g>
<g transform="rotate(50 442.6 242)" opacity="1">
<ellipse cx="442.6" cy="242" rx="6.6" ry="4.71" fill="#2496fa" opacity="0.8" filter="url(#pkS)"/>
<g filter="url(#pk)">
<ellipse cx="442.6" cy="242" rx="3.7" ry="2.41" fill="#22d4ee"/>
<ellipse cx="442.6" cy="242" rx="3.24" ry="2.11" fill="#7cf07c"/>
<ellipse cx="442.6" cy="242" rx="2.92" ry="1.9" fill="#f4ee1c"/>
</g></g>
<g transform="rotate(50 362.6 307.2)" opacity="1">
<ellipse cx="362.6" cy="307.2" rx="7.14" ry="5.25" fill="#2496fa" opacity="0.8" filter="url(#pkS)"/>
<g filter="url(#pk)">
<ellipse cx="362.6" cy="307.2" rx="4.07" ry="2.78" fill="#22d4ee"/>
<ellipse cx="362.6" cy="307.2" rx="3.56" ry="2.43" fill="#7cf07c"/>
<ellipse cx="362.6" cy="307.2" rx="3.21" ry="2.19" fill="#f4ee1c"/>
<ellipse cx="362.6" cy="307.2" rx="2.86" ry="1.95" fill="#fa7a0c"/>
<ellipse cx="362.6" cy="307.2" rx="2.55" ry="1.74" fill="#e81208"/>
<ellipse cx="362.6" cy="307.2" rx="2.2" ry="1.5" fill="#8a0000"/>
</g></g>
<g transform="rotate(-30 389.2 306.3)" opacity="0.5">
<ellipse cx="389.2" cy="306.3" rx="3.09" ry="4.17" fill="#2496fa" opacity="0.8" filter="url(#pkS)"/>
<g filter="url(#pk)">
<ellipse cx="389.2" cy="306.3" rx="1.29" ry="2.04" fill="#22d4ee"/>
</g></g>
<g transform="rotate(68 427.2 305.2)" opacity="1">
<ellipse cx="427.2" cy="305.2" rx="9.3" ry="5.79" fill="#2496fa" opacity="0.8" filter="url(#pkS)"/>
<g filter="url(#pk)">
<ellipse cx="427.2" cy="305.2" rx="5.55" ry="3.15" fill="#22d4ee"/>
<ellipse cx="427.2" cy="305.2" rx="4.86" ry="2.75" fill="#7cf07c"/>
<ellipse cx="427.2" cy="305.2" rx="4.38" ry="2.48" fill="#f4ee1c"/>
<ellipse cx="427.2" cy="305.2" rx="3.9" ry="2.21" fill="#fa7a0c"/>
<ellipse cx="427.2" cy="305.2" rx="3.48" ry="1.97" fill="#e81208"/>
<ellipse cx="427.2" cy="305.2" rx="3" ry="1.7" fill="#8a0000"/>
</g></g>
<g transform="rotate(72 442.6 305.4)" opacity="1">
<ellipse cx="442.6" cy="305.4" rx="7.95" ry="4.98" fill="#2496fa" opacity="0.8" filter="url(#pkS)"/>
<g filter="url(#pk)">
<ellipse cx="442.6" cy="305.4" rx="4.62" ry="2.59" fill="#22d4ee"/>
<ellipse cx="442.6" cy="305.4" rx="4.05" ry="2.27" fill="#7cf07c"/>
<ellipse cx="442.6" cy="305.4" rx="3.65" ry="2.04" fill="#f4ee1c"/>
<ellipse cx="442.6" cy="305.4" rx="3.25" ry="1.82" fill="#fa7a0c"/>
<ellipse cx="442.6" cy="305.4" rx="2.9" ry="1.62" fill="#e81208"/>
</g></g>
<g filter="url(#pkS)"><ellipse cx="398.8" cy="298.4" rx="4.8" ry="3.2" fill="#05147c" transform="rotate(40 398.7 298.3)"/></g>
<g transform="rotate(0 364 369.2)" opacity="1">
<ellipse cx="364" cy="369.2" rx="3.09" ry="4.44" fill="#2496fa" opacity="0.8" filter="url(#pkS)"/>
<g filter="url(#pk)">
<ellipse cx="364" cy="369.2" rx="1.29" ry="2.22" fill="#22d4ee"/>
</g></g>
<g transform="rotate(0 390.5 369.6)" opacity="0.6">
<ellipse cx="390.5" cy="369.6" rx="2.82" ry="3.63" fill="#2496fa" opacity="0.8" filter="url(#pkS)"/>
<g filter="url(#pk)">
<ellipse cx="390.5" cy="369.6" rx="1.11" ry="1.67" fill="#22d4ee"/>
</g></g>
<g transform="rotate(0 429.3 367.6)" opacity="1">
<ellipse cx="429.3" cy="367.6" rx="5.25" ry="3.63" fill="#2496fa" opacity="0.8" filter="url(#pkS)"/>
<g filter="url(#pk)">
<ellipse cx="429.3" cy="367.6" rx="2.78" ry="1.67" fill="#22d4ee"/>
<ellipse cx="429.3" cy="367.6" rx="2.43" ry="1.46" fill="#7cf07c"/>
<ellipse cx="429.3" cy="367.6" rx="2.19" ry="1.31" fill="#f4ee1c"/>
<ellipse cx="429.3" cy="367.6" rx="1.95" ry="1.17" fill="#fa7a0c"/>
<ellipse cx="429.3" cy="367.6" rx="1.74" ry="1.04" fill="#e81208"/>
</g></g>
<g transform="rotate(0 444 367.6)" opacity="1">
<ellipse cx="444" cy="367.6" rx="4.71" ry="3.36" fill="#2496fa" opacity="0.8" filter="url(#pkS)"/>
<g filter="url(#pk)">
<ellipse cx="444" cy="367.6" rx="2.41" ry="1.48" fill="#22d4ee"/>
<ellipse cx="444" cy="367.6" rx="2.11" ry="1.3" fill="#7cf07c"/>
<ellipse cx="444" cy="367.6" rx="1.9" ry="1.17" fill="#f4ee1c"/>
<ellipse cx="444" cy="367.6" rx="1.69" ry="1.04" fill="#fa7a0c"/>
</g></g>
</g>
<rect x="397.8" y="225.5" width="48" height="16.2" fill="#fff" stroke="none" stroke-width="0.5" />
<text x="421.7" y="237.5" font-size="10.5" fill="#3a7bd0" text-anchor="middle" font-weight="normal" font-style="normal" >3D</text>
<text x="316.8" y="246.8" font-size="10.4" fill="#eef2ff">(200)<tspan font-size="7.5" dy="1.7">3D</tspan></text>
<text x="316.8" y="312" font-size="10.4" fill="#eef2ff">(100)<tspan font-size="7.5" dy="1.7">3D</tspan></text>
<line x1="266.1" y1="375" x2="268.7" y2="375" stroke="#111" stroke-width="0.8" />
<line x1="266.1" y1="344" x2="268.7" y2="344" stroke="#111" stroke-width="0.8" />
<line x1="266.1" y1="313" x2="268.7" y2="313" stroke="#111" stroke-width="0.8" />
<line x1="266.1" y1="282" x2="268.7" y2="282" stroke="#111" stroke-width="0.8" />
<line x1="266.1" y1="251" x2="268.7" y2="251" stroke="#111" stroke-width="0.8" />
<line x1="266.1" y1="220" x2="268.7" y2="220" stroke="#111" stroke-width="0.8" />
<line x1="269.35" y1="375" x2="269.35" y2="377.6" stroke="#111" stroke-width="0.8" />
<text x="269.35" y="389.4" font-size="10.5" fill="#111" text-anchor="middle" font-weight="normal" font-style="normal" >-5</text>
<line x1="299.7" y1="375" x2="299.7" y2="377.6" stroke="#111" stroke-width="0.8" />
<text x="299.7" y="389.4" font-size="10.5" fill="#111" text-anchor="middle" font-weight="normal" font-style="normal" >0</text>
<line x1="330.05" y1="375" x2="330.05" y2="377.6" stroke="#111" stroke-width="0.8" />
<text x="330.05" y="389.4" font-size="10.5" fill="#111" text-anchor="middle" font-weight="normal" font-style="normal" >5</text>
<line x1="360.4" y1="375" x2="360.4" y2="377.6" stroke="#111" stroke-width="0.8" />
<text x="360.4" y="389.4" font-size="10.5" fill="#111" text-anchor="middle" font-weight="normal" font-style="normal" >10</text>
<line x1="390.75" y1="375" x2="390.75" y2="377.6" stroke="#111" stroke-width="0.8" />
<text x="390.75" y="389.4" font-size="10.5" fill="#111" text-anchor="middle" font-weight="normal" font-style="normal" >15</text>
<line x1="421.1" y1="375" x2="421.1" y2="377.6" stroke="#111" stroke-width="0.8" />
<text x="421.1" y="389.4" font-size="10.5" fill="#111" text-anchor="middle" font-weight="normal" font-style="normal" >20</text>
<line x1="268.5" y1="219.9" x2="268.5" y2="375.3" stroke="#111" stroke-width="0.5" />
<line x1="268.4" y1="375" x2="451.2" y2="375" stroke="#111" stroke-width="0.7" />
<text x="261.5" y="378.8" font-size="10.5" fill="#111" text-anchor="end" font-weight="normal" font-style="normal" >0</text>
<text x="261.5" y="347.8" font-size="10.5" fill="#111" text-anchor="end" font-weight="normal" font-style="normal" >5</text>
<text x="261.5" y="316.8" font-size="10.5" fill="#111" text-anchor="end" font-weight="normal" font-style="normal" >10</text>
<text x="261.5" y="280.2" font-size="10.5" fill="#111" text-anchor="end" font-weight="normal" font-style="normal" >15</text>
<text x="261.5" y="254.8" font-size="10.5" fill="#111" text-anchor="end" font-weight="normal" font-style="normal" >20</text>
<text x="261.5" y="223.8" font-size="10.5" fill="#111" text-anchor="end" font-weight="normal" font-style="normal" >25</text>
<text x="228.3" y="223.2" font-size="10.5" fill="#111" text-anchor="start" font-weight="bold" font-style="normal" >(c)</text>
<text transform="translate(242.9,300) rotate(-90)" font-size="10.6" fill="#111" text-anchor="middle"><tspan font-style="italic">q</tspan><tspan font-style="italic" font-size="7" dy="1.8">z</tspan><tspan dy="-1.8"> (nm</tspan><tspan font-size="7" dy="-3.8">-1</tspan><tspan dy="3.8">)</tspan></text>
<text x="363.6" y="403" font-size="10.6" fill="#111" text-anchor="middle"><tspan font-style="italic">q</tspan><tspan font-size="7" dy="1.8">xy</tspan><tspan dy="-1.8"> (nm</tspan><tspan font-size="7" dy="-3.8">-1</tspan><tspan dy="3.8">)</tspan></text>
<g clip-path="url(#clipD)">
<rect x="499.2" y="220" width="182.5" height="155" fill="url(#bgD)" stroke="none" stroke-width="0.5" />
<ellipse cx="528" cy="375" rx="125" ry="112" fill="url(#haloD)"/>
<rect x="499.2" y="220" width="40" height="155" fill="url(#edgeD)"/>
<rect x="499.2" y="220" width="182.5" height="155" fill="#fff" stroke="none" stroke-width="0.5" filter="url(#grain)" opacity="0.32"/>
<rect x="543" y="371.6" width="142" height="3.6" fill="#1030b2" stroke="none" stroke-width="0.5" />
<rect x="543" y="369.4" width="142" height="1.6" fill="#3a98f8" stroke="none" stroke-width="0.5" opacity="0.5" filter="url(#pk)"/>
<rect x="499.2" y="371.6" width="20" height="3.6" fill="#1a58d8" stroke="none" stroke-width="0.5" opacity="0.7"/>
<g filter="url(#pkS)" fill="none">
<path d="M499,246.5 Q526,239 546,244" stroke="#1c92ff" stroke-width="5.5" opacity="0.7"/>
<path d="M510,243.6 Q528,241.2 543,243.6" stroke="#30aaff" stroke-width="2.4" opacity="0.8"/>
<path d="M500,271.5 Q520,265 542,269.5" stroke="#1c90ff" stroke-width="4.5" opacity="0.65"/>
<path d="M500,316 Q530,304 562,318" stroke="#30a0f8" stroke-width="1.4" opacity="0.6"/>
</g>
<g filter="url(#pkS)"><ellipse cx="529.6" cy="309.4" rx="15" ry="2.4" fill="#22b0f6" opacity="0.9"/></g>
<g transform="rotate(0 529.6 309.2)" opacity="1">
<ellipse cx="529.6" cy="309.2" rx="14.43" ry="4.44" fill="#2496fa" opacity="0.8" filter="url(#pkS)"/>
<g filter="url(#pk)">
<ellipse cx="529.6" cy="309.2" rx="9.07" ry="2.22" fill="#22d4ee"/>
<ellipse cx="529.6" cy="309.2" rx="7.94" ry="1.94" fill="#7cf07c"/>
<ellipse cx="529.6" cy="309.2" rx="7.15" ry="1.75" fill="#f4ee1c"/>
<ellipse cx="529.6" cy="309.2" rx="6.37" ry="1.56" fill="#fa7a0c"/>
<ellipse cx="529.6" cy="309.2" rx="5.68" ry="1.39" fill="#e81208"/>
<ellipse cx="529.6" cy="309.2" rx="4.9" ry="1.2" fill="#8a0000"/>
</g></g>
<g transform="rotate(0 529.8 314.8)" opacity="1">
<ellipse cx="529.8" cy="314.8" rx="3.63" ry="3.36" fill="#2496fa" opacity="0.8" filter="url(#pkS)"/>
<g filter="url(#pk)">
<ellipse cx="529.8" cy="314.8" rx="1.67" ry="1.48" fill="#22d4ee"/>
</g></g>
<g transform="rotate(0 529.8 320.2)" opacity="1">
<ellipse cx="529.8" cy="320.2" rx="3.9" ry="3.9" fill="#2496fa" opacity="0.8" filter="url(#pkS)"/>
<g filter="url(#pk)">
<ellipse cx="529.8" cy="320.2" rx="1.85" ry="1.85" fill="#22d4ee"/>
<ellipse cx="529.8" cy="320.2" rx="1.62" ry="1.62" fill="#7cf07c"/>
<ellipse cx="529.8" cy="320.2" rx="1.46" ry="1.46" fill="#f4ee1c"/>
</g></g>
<g filter="url(#pkS)"><path d="M529.9,322 L535.5,347 L534.8,368 L525.2,368 L524.5,347 Z" fill="#36c8f4" opacity="0.9"/></g>
<g filter="url(#pk)">
<path d="M529.9,329 L531.5,342 L534.3,347.5 L532.2,353 L532.2,366 L527.6,366 L527.6,353 L525.5,347.5 L528.3,342 Z" fill="#22d4ee"/>
<path d="M529.9,331.5 L531.2,342.5 L533.8,347.5 L531.9,352.5 L531.9,366 L527.9,366 L527.9,352.5 L526.0,347.5 L528.6,342.5 Z" fill="#f4ee1c"/>
<path d="M529.9,333.5 L531.0,343 L533.4,347.5 L531.6,352 L531.6,366 L528.2,366 L528.2,352 L526.4,347.5 L528.8,343 Z" fill="#e81208"/>
<path d="M529.9,336 L530.7,343.5 L532.9,347.5 L531.2,351.5 L531.2,366 L528.6,366 L528.6,351.5 L526.9,347.5 L529.1,343.5 Z" fill="#8a0000"/>
</g>
<ellipse cx="530" cy="375" rx="13" ry="10.4" fill="#0a1e90"/>
<g transform="rotate(25 589.6 241.5)" opacity="1">
<ellipse cx="589.6" cy="241.5" rx="8.22" ry="6.06" fill="#2496fa" opacity="0.8" filter="url(#pkS)"/>
<g filter="url(#pk)">
<ellipse cx="589.6" cy="241.5" rx="4.81" ry="3.33" fill="#22d4ee"/>
<ellipse cx="589.6" cy="241.5" rx="4.21" ry="2.92" fill="#7cf07c"/>
<ellipse cx="589.6" cy="241.5" rx="3.8" ry="2.63" fill="#f4ee1c"/>
<ellipse cx="589.6" cy="241.5" rx="3.38" ry="2.34" fill="#fa7a0c"/>
<ellipse cx="589.6" cy="241.5" rx="3.02" ry="2.09" fill="#e81208"/>
<ellipse cx="589.6" cy="241.5" rx="2.6" ry="1.8" fill="#8a0000"/>
</g></g>
<g transform="rotate(0 591 250.8)" opacity="0.8">
<ellipse cx="591" cy="250.8" rx="3.36" ry="4.71" fill="#2496fa" opacity="0.8" filter="url(#pkS)"/>
<g filter="url(#pk)">
<ellipse cx="591" cy="250.8" rx="1.48" ry="2.41" fill="#22d4ee"/>
</g></g>
<g transform="rotate(35 616.7 240.8)" opacity="1">
<ellipse cx="616.7" cy="240.8" rx="6.33" ry="4.71" fill="#2496fa" opacity="0.8" filter="url(#pkS)"/>
<g filter="url(#pk)">
<ellipse cx="616.7" cy="240.8" rx="3.52" ry="2.41" fill="#22d4ee"/>
</g></g>
<g transform="rotate(40 655.8 242)" opacity="1">
<ellipse cx="655.8" cy="242" rx="6.6" ry="4.71" fill="#2496fa" opacity="0.8" filter="url(#pkS)"/>
<g filter="url(#pk)">
<ellipse cx="655.8" cy="242" rx="3.7" ry="2.41" fill="#22d4ee"/>
<ellipse cx="655.8" cy="242" rx="3.24" ry="2.11" fill="#7cf07c"/>
<ellipse cx="655.8" cy="242" rx="2.92" ry="1.9" fill="#f4ee1c"/>
<ellipse cx="655.8" cy="242" rx="2.6" ry="1.69" fill="#fa7a0c"/>
<ellipse cx="655.8" cy="242" rx="2.32" ry="1.51" fill="#e81208"/>
</g></g>
<g transform="rotate(45 671.3 242.3)" opacity="1">
<ellipse cx="671.3" cy="242.3" rx="5.79" ry="4.44" fill="#2496fa" opacity="0.8" filter="url(#pkS)"/>
<g filter="url(#pk)">
<ellipse cx="671.3" cy="242.3" rx="3.15" ry="2.22" fill="#22d4ee"/>
<ellipse cx="671.3" cy="242.3" rx="2.75" ry="1.94" fill="#7cf07c"/>
<ellipse cx="671.3" cy="242.3" rx="2.48" ry="1.75" fill="#f4ee1c"/>
</g></g>
<g transform="rotate(0 656.5 251)" opacity="0.5">
<ellipse cx="656.5" cy="251" rx="2.82" ry="4.98" fill="#2496fa" opacity="0.8" filter="url(#pkS)"/>
<g filter="url(#pk)">
<ellipse cx="656.5" cy="251" rx="1.11" ry="2.59" fill="#22d4ee"/>
</g></g>
<g transform="rotate(0 672 251)" opacity="0.5">
<ellipse cx="672" cy="251" rx="2.82" ry="4.98" fill="#2496fa" opacity="0.8" filter="url(#pkS)"/>
<g filter="url(#pk)">
<ellipse cx="672" cy="251" rx="1.11" ry="2.59" fill="#22d4ee"/>
</g></g>
<g transform="rotate(-20 593.4 307.2)" opacity="1">
<ellipse cx="593.4" cy="307.2" rx="4.71" ry="5.79" fill="#2496fa" opacity="0.8" filter="url(#pkS)"/>
<g filter="url(#pk)">
<ellipse cx="593.4" cy="307.2" rx="2.41" ry="3.15" fill="#22d4ee"/>
<ellipse cx="593.4" cy="307.2" rx="2.11" ry="2.75" fill="#7cf07c"/>
<ellipse cx="593.4" cy="307.2" rx="1.9" ry="2.48" fill="#f4ee1c"/>
<ellipse cx="593.4" cy="307.2" rx="1.69" ry="2.21" fill="#fa7a0c"/>
<ellipse cx="593.4" cy="307.2" rx="1.51" ry="1.97" fill="#e81208"/>
<ellipse cx="593.4" cy="307.2" rx="1.3" ry="1.7" fill="#8a0000"/>
</g></g>
<g transform="rotate(0 619.8 306.8)" opacity="0.7">
<ellipse cx="619.8" cy="306.8" rx="3.63" ry="4.44" fill="#2496fa" opacity="0.8" filter="url(#pkS)"/>
<g filter="url(#pk)">
<ellipse cx="619.8" cy="306.8" rx="1.67" ry="2.22" fill="#22d4ee"/>
</g></g>
<g transform="rotate(-15 657.2 305.8)" opacity="1">
<ellipse cx="657.2" cy="305.8" rx="4.71" ry="7.41" fill="#2496fa" opacity="0.8" filter="url(#pkS)"/>
<g filter="url(#pk)">
<ellipse cx="657.2" cy="305.8" rx="2.41" ry="4.25" fill="#22d4ee"/>
<ellipse cx="657.2" cy="305.8" rx="2.11" ry="3.73" fill="#7cf07c"/>
<ellipse cx="657.2" cy="305.8" rx="1.9" ry="3.36" fill="#f4ee1c"/>
<ellipse cx="657.2" cy="305.8" rx="1.69" ry="2.99" fill="#fa7a0c"/>
<ellipse cx="657.2" cy="305.8" rx="1.51" ry="2.67" fill="#e81208"/>
<ellipse cx="657.2" cy="305.8" rx="1.3" ry="2.3" fill="#8a0000"/>
</g></g>
<g transform="rotate(-15 672.8 305.8)" opacity="1">
<ellipse cx="672.8" cy="305.8" rx="4.44" ry="7.14" fill="#2496fa" opacity="0.8" filter="url(#pkS)"/>
<g filter="url(#pk)">
<ellipse cx="672.8" cy="305.8" rx="2.22" ry="4.07" fill="#22d4ee"/>
<ellipse cx="672.8" cy="305.8" rx="1.94" ry="3.56" fill="#7cf07c"/>
</g></g>
<g filter="url(#pkS)"><ellipse cx="629.4" cy="298.4" rx="5.6" ry="3.5" fill="#05147c" transform="rotate(40 629.2 298.3)"/></g>
<g filter="url(#pkS)" opacity="0.5">
<line x1="594" y1="311" x2="594.8" y2="368" stroke="#2ea4f8" stroke-width="1.5" />
<line x1="657.6" y1="311" x2="658.4" y2="366" stroke="#2ea4f8" stroke-width="1.5" />
<line x1="673.4" y1="311" x2="674.2" y2="366" stroke="#2ea4f8" stroke-width="1.3" />
<line x1="620.2" y1="309" x2="621.4" y2="368" stroke="#2a94f8" stroke-width="1" />
<line x1="590.2" y1="244" x2="591.2" y2="262" stroke="#30b0f8" stroke-width="1.4" />
</g>
<g transform="rotate(0 594.8 370.6)" opacity="1">
<ellipse cx="594.8" cy="370.6" rx="3.63" ry="3.63" fill="#2496fa" opacity="0.8" filter="url(#pkS)"/>
<g filter="url(#pk)">
<ellipse cx="594.8" cy="370.6" rx="1.67" ry="1.67" fill="#22d4ee"/>
<ellipse cx="594.8" cy="370.6" rx="1.46" ry="1.46" fill="#7cf07c"/>
<ellipse cx="594.8" cy="370.6" rx="1.31" ry="1.31" fill="#f4ee1c"/>
<ellipse cx="594.8" cy="370.6" rx="1.17" ry="1.17" fill="#fa7a0c"/>
</g></g>
<g transform="rotate(0 621.5 371)" opacity="0.6">
<ellipse cx="621.5" cy="371" rx="2.82" ry="3.36" fill="#2496fa" opacity="0.8" filter="url(#pkS)"/>
<g filter="url(#pk)">
<ellipse cx="621.5" cy="371" rx="1.11" ry="1.48" fill="#22d4ee"/>
</g></g>
<g transform="rotate(0 658.6 369.2)" opacity="1">
<ellipse cx="658.6" cy="369.2" rx="5.25" ry="3.63" fill="#2496fa" opacity="0.8" filter="url(#pkS)"/>
<g filter="url(#pk)">
<ellipse cx="658.6" cy="369.2" rx="2.78" ry="1.67" fill="#22d4ee"/>
<ellipse cx="658.6" cy="369.2" rx="2.43" ry="1.46" fill="#7cf07c"/>
<ellipse cx="658.6" cy="369.2" rx="2.19" ry="1.31" fill="#f4ee1c"/>
<ellipse cx="658.6" cy="369.2" rx="1.95" ry="1.17" fill="#fa7a0c"/>
<ellipse cx="658.6" cy="369.2" rx="1.74" ry="1.04" fill="#e81208"/>
</g></g>
<g transform="rotate(0 674.7 369.2)" opacity="1">
<ellipse cx="674.7" cy="369.2" rx="4.71" ry="3.36" fill="#2496fa" opacity="0.8" filter="url(#pkS)"/>
<g filter="url(#pk)">
<ellipse cx="674.7" cy="369.2" rx="2.41" ry="1.48" fill="#22d4ee"/>
<ellipse cx="674.7" cy="369.2" rx="2.11" ry="1.3" fill="#7cf07c"/>
<ellipse cx="674.7" cy="369.2" rx="1.9" ry="1.17" fill="#f4ee1c"/>
<ellipse cx="674.7" cy="369.2" rx="1.69" ry="1.04" fill="#fa7a0c"/>
</g></g>
</g>
<rect x="620.8" y="225.4" width="56.2" height="16.3" fill="#fff" stroke="none" stroke-width="0.5" />
<text x="648.8" y="237.5" font-size="10.5" fill="#ea3434" text-anchor="middle" font-weight="normal" font-style="normal" >2D/3D</text>
<text x="543.6" y="246.6" font-size="10.4" fill="#eef2ff">(200)<tspan font-size="7.5" dy="1.7">3D</tspan></text>
<text x="543.6" y="271.8" font-size="10.4" fill="#eef2ff">(00<tspan font-style="italic">k</tspan>)<tspan font-size="7.5" dy="1.7">2D</tspan></text>
<text x="541.6" y="312.1" font-size="10.4" fill="#eef2ff">(100)<tspan font-size="7.5" dy="1.7">3D</tspan></text>
<text x="543.6" y="327.4" font-size="10.4" fill="#eef2ff">(004)<tspan font-size="7.5" dy="1.7">2D</tspan></text>
<text x="543.6" y="352.4" font-size="10.4" fill="#eef2ff">(002)<tspan font-size="7.5" dy="1.7">2D</tspan></text>
<line x1="496.6" y1="375" x2="499.2" y2="375" stroke="#111" stroke-width="0.8" />
<line x1="496.6" y1="344" x2="499.2" y2="344" stroke="#111" stroke-width="0.8" />
<line x1="496.6" y1="313" x2="499.2" y2="313" stroke="#111" stroke-width="0.8" />
<line x1="496.6" y1="282" x2="499.2" y2="282" stroke="#111" stroke-width="0.8" />
<line x1="496.6" y1="251" x2="499.2" y2="251" stroke="#111" stroke-width="0.8" />
<line x1="496.6" y1="220" x2="499.2" y2="220" stroke="#111" stroke-width="0.8" />
<line x1="499.65" y1="375" x2="499.65" y2="377.6" stroke="#111" stroke-width="0.8" />
<text x="499.65" y="389.4" font-size="10.5" fill="#111" text-anchor="middle" font-weight="normal" font-style="normal" >-5</text>
<line x1="530" y1="375" x2="530" y2="377.6" stroke="#111" stroke-width="0.8" />
<text x="530" y="389.4" font-size="10.5" fill="#111" text-anchor="middle" font-weight="normal" font-style="normal" >0</text>
<line x1="560.35" y1="375" x2="560.35" y2="377.6" stroke="#111" stroke-width="0.8" />
<text x="560.35" y="389.4" font-size="10.5" fill="#111" text-anchor="middle" font-weight="normal" font-style="normal" >5</text>
<line x1="590.7" y1="375" x2="590.7" y2="377.6" stroke="#111" stroke-width="0.8" />
<text x="590.7" y="389.4" font-size="10.5" fill="#111" text-anchor="middle" font-weight="normal" font-style="normal" >10</text>
<line x1="621.05" y1="375" x2="621.05" y2="377.6" stroke="#111" stroke-width="0.8" />
<text x="621.05" y="389.4" font-size="10.5" fill="#111" text-anchor="middle" font-weight="normal" font-style="normal" >15</text>
<line x1="651.4" y1="375" x2="651.4" y2="377.6" stroke="#111" stroke-width="0.8" />
<text x="651.4" y="389.4" font-size="10.5" fill="#111" text-anchor="middle" font-weight="normal" font-style="normal" >20</text>
<line x1="499" y1="219.9" x2="499" y2="375.3" stroke="#111" stroke-width="0.5" />
<line x1="498.9" y1="375" x2="681.7" y2="375" stroke="#111" stroke-width="0.7" />
<text x="492" y="378.8" font-size="10.5" fill="#111" text-anchor="end" font-weight="normal" font-style="normal" >0</text>
<text x="492" y="347.8" font-size="10.5" fill="#111" text-anchor="end" font-weight="normal" font-style="normal" >5</text>
<text x="492" y="316.8" font-size="10.5" fill="#111" text-anchor="end" font-weight="normal" font-style="normal" >10</text>
<text x="492" y="285.8" font-size="10.5" fill="#111" text-anchor="end" font-weight="normal" font-style="normal" >15</text>
<text x="492" y="254.8" font-size="10.5" fill="#111" text-anchor="end" font-weight="normal" font-style="normal" >20</text>
<text x="492" y="223.8" font-size="10.5" fill="#111" text-anchor="end" font-weight="normal" font-style="normal" >25</text>
<text x="459.5" y="223.2" font-size="10.5" fill="#111" text-anchor="start" font-weight="bold" font-style="normal" >(d)</text>
<text transform="translate(470.4,300) rotate(-90)" font-size="10.6" fill="#111" text-anchor="middle"><tspan font-style="italic">q</tspan><tspan font-style="italic" font-size="7" dy="1.8">z</tspan><tspan dy="-1.8"> (nm</tspan><tspan font-size="7" dy="-3.8">-1</tspan><tspan dy="3.8">)</tspan></text>
<text x="583.6" y="403" font-size="10.6" fill="#111" text-anchor="middle"><tspan font-style="italic">q</tspan><tspan font-size="7" dy="1.8">xy</tspan><tspan dy="-1.8"> (nm</tspan><tspan font-size="7" dy="-3.8">-1</tspan><tspan dy="3.8">)</tspan></text>
<text x="0.3" y="424" font-size="10.5" fill="#111" text-anchor="start" font-weight="bold" font-style="normal" >(e)</text>
<path d="M24.5,425.8C26.25,428.47 31.5,437.1 35,441.8C38.5,446.5 42,450.32 45.5,454C49,457.68 52.48,461.27 56,463.9C59.52,466.53 63.1,468.17 66.6,469.8C70.1,471.43 73.5,472.7 77,473.7C80.5,474.7 84.97,475.4 87.6,475.8C90.23,476.2 91.07,476.17 92.8,476.1C94.53,476.03 96.38,475.85 98,475.4C99.62,474.95 101.02,474.33 102.5,473.4C103.98,472.47 105.65,470.87 106.9,469.8C108.15,468.73 109.05,467.73 110,467C110.95,466.27 111.87,465.57 112.6,465.4C113.33,465.23 113.8,465.15 114.4,466C115,466.85 115.53,468.12 116.2,470.5C116.87,472.88 117.62,476.33 118.4,480.3C119.18,484.27 120.08,490.62 120.9,494.3C121.72,497.98 122.43,500.35 123.3,502.4C124.17,504.45 125.05,505.6 126.1,506.6C127.15,507.6 128.12,508.02 129.6,508.4C131.08,508.78 131.6,508.75 135,508.9C138.4,509.05 143.33,509.12 150,509.3C156.67,509.48 165.83,509.75 175,510C184.17,510.25 200,510.67 205,510.8" fill="none" stroke="#1f6be0" stroke-width="1.8" stroke-linejoin="round" stroke-linecap="round" />
<path d="M24.5,477.2C25.67,478.48 29.17,482.63 31.5,484.9C33.83,487.17 36.17,488.82 38.5,490.8C40.83,492.78 43.45,494.75 45.5,496.8C47.55,498.85 49.05,500.3 50.8,503.1C52.55,505.9 54.25,510.1 56,513.6C57.75,517.1 59.53,521.18 61.3,524.1C63.07,527.02 64.55,529.23 66.6,531.1C68.65,532.97 70.7,534.07 73.6,535.3C76.5,536.53 79.92,537.62 84,538.5C88.08,539.38 93.43,540.25 98.1,540.6C102.77,540.95 108.2,540.95 112,540.6C115.8,540.25 118.65,539.13 120.9,538.5C123.15,537.87 124.22,537.15 125.5,536.8C126.78,536.45 127.68,536.27 128.6,536.4C129.52,536.53 130.23,536.75 131,537.6C131.77,538.45 132.38,539.37 133.2,541.5C134.02,543.63 134.93,547.72 135.9,550.4C136.87,553.08 137.82,555.78 139,557.6C140.18,559.42 141.35,560.45 143,561.3C144.65,562.15 144.7,562.53 148.9,562.7C153.1,562.87 161.35,562.5 168.2,562.3C175.05,562.1 183.87,561.73 190,561.5C196.13,561.27 202.5,561 205,560.9" fill="none" stroke="#ee3535" stroke-width="1.8" stroke-linejoin="round" stroke-linecap="round" />
<rect x="24.5" y="421.3" width="180.8" height="144.6" fill="none" stroke="#111" stroke-width="1.1" />
<line x1="24.5" y1="565.9" x2="24.5" y2="569.3" stroke="#111" stroke-width="0.9" />
<line x1="60.6" y1="565.9" x2="60.6" y2="569.3" stroke="#111" stroke-width="0.9" />
<line x1="96.7" y1="565.9" x2="96.7" y2="569.3" stroke="#111" stroke-width="0.9" />
<line x1="132.8" y1="565.9" x2="132.8" y2="569.3" stroke="#111" stroke-width="0.9" />
<line x1="168.9" y1="565.9" x2="168.9" y2="569.3" stroke="#111" stroke-width="0.9" />
<line x1="205" y1="565.9" x2="205" y2="569.3" stroke="#111" stroke-width="0.9" />
<line x1="42.55" y1="565.9" x2="42.55" y2="567.8" stroke="#111" stroke-width="0.9" />
<line x1="78.65" y1="565.9" x2="78.65" y2="567.8" stroke="#111" stroke-width="0.9" />
<line x1="114.75" y1="565.9" x2="114.75" y2="567.8" stroke="#111" stroke-width="0.9" />
<line x1="150.85" y1="565.9" x2="150.85" y2="567.8" stroke="#111" stroke-width="0.9" />
<line x1="186.95" y1="565.9" x2="186.95" y2="567.8" stroke="#111" stroke-width="0.9" />
<text x="24.5" y="580.4" font-size="11.4" fill="#111" text-anchor="middle" font-weight="normal" font-style="normal" >400</text>
<text x="60.6" y="580.4" font-size="11.4" fill="#111" text-anchor="middle" font-weight="normal" font-style="normal" >450</text>
<text x="96.7" y="580.4" font-size="11.4" fill="#111" text-anchor="middle" font-weight="normal" font-style="normal" >500</text>
<text x="132.8" y="580.4" font-size="11.4" fill="#111" text-anchor="middle" font-weight="normal" font-style="normal" >550</text>
<text x="168.9" y="580.4" font-size="11.4" fill="#111" text-anchor="middle" font-weight="normal" font-style="normal" >600</text>
<text x="205" y="580.4" font-size="11.4" fill="#111" text-anchor="middle" font-weight="normal" font-style="normal" >650</text>
<text x="115" y="597" font-size="11.6" fill="#111" text-anchor="middle" font-weight="normal" font-style="normal" >Wavelength (nm)</text>
<text transform="translate(13.2,490.8) rotate(-90)" font-size="11.6" fill="#111" text-anchor="middle">Absorbance</text>
<line x1="137.4" y1="432" x2="162.2" y2="432" stroke="#1f6be0" stroke-width="1.8" />
<line x1="137.4" y1="446.3" x2="162.2" y2="446.3" stroke="#ee3535" stroke-width="1.8" />
<text x="166.3" y="436" font-size="11.6" fill="#111" text-anchor="start" font-weight="normal" font-style="normal" >3D</text>
<text x="166.3" y="450.5" font-size="11.6" fill="#111" text-anchor="start" font-weight="normal" font-style="normal" >2D/3D</text>
<text x="30" y="523.6" font-size="11.4" fill="#ee3535" text-anchor="start" font-weight="normal" font-style="normal" >2D</text>
<line x1="37.2" y1="511.6" x2="44.6" y2="505" stroke="#ee3535" stroke-width="0.9" />
<polygon points="47,502.9 45.6,507 42.6,503.6" fill="#ee3535" stroke="none" stroke-width="0.5" stroke-linejoin="round" />
<text x="219.5" y="424" font-size="10.5" fill="#111" text-anchor="start" font-weight="bold" font-style="normal" >(f)</text>
<g clip-path="url(#clipF)">
<path d="M260.9,564.64C266.96,564.64 286.35,564.71 297.26,564.64C308.17,564.58 319.68,564.47 326.35,564.25C333.01,564.03 334.88,563.77 337.26,563.33C339.63,562.89 339.27,562.39 340.6,561.62C341.93,560.86 343.87,560.05 345.26,558.73C346.64,557.42 347.56,557.68 348.89,553.74C350.22,549.8 352.1,541.26 353.25,535.09C354.41,528.92 355.02,523.38 355.8,516.7C356.58,510.02 357.12,504 357.91,495.03C358.7,486.05 359.73,471.93 360.53,462.85C361.33,453.76 362.1,445.33 362.71,440.52C363.31,435.7 363.68,434.17 364.16,433.95C364.65,433.73 365.01,434.61 365.62,439.2C366.22,443.8 367,452.23 367.8,461.53C368.6,470.84 369.45,485.83 370.42,495.03C371.39,504.22 372.15,510.02 373.62,516.7C375.08,523.38 377.64,530.71 379.22,535.09C380.79,539.47 381.74,540.78 383.07,542.97C384.4,545.16 385.19,546.43 387.21,548.22C389.24,550.02 392.03,552.27 395.21,553.74C398.4,555.21 402.57,556.15 406.34,557.02C410.11,557.9 413.59,558.32 417.83,559C422.07,559.67 427.65,560.57 431.79,561.1C435.94,561.62 440.88,561.97 442.7,562.15" fill="none" stroke="#1f6be0" stroke-width="1.75" stroke-linejoin="round" stroke-linecap="round" />
<path d="M260.9,564.91C263.93,564.88 274.96,565.04 279.08,564.77C283.2,564.51 283.5,564.01 285.62,563.33C287.75,562.65 289.75,560.7 291.81,560.7C293.87,560.7 295.87,562.67 297.99,563.33C300.11,563.99 301.02,564.45 304.53,564.64C308.05,564.84 314.23,564.67 319.08,564.51C323.92,564.36 329.6,564.21 333.62,563.72C337.64,563.24 340.55,562.45 343.22,561.62C345.89,560.79 347.62,560.05 349.62,558.73C351.62,557.42 353.52,555.93 355.22,553.74C356.91,551.55 358.47,548.71 359.8,545.6C361.13,542.49 362.13,539.69 363.22,535.09C364.31,530.49 365.23,524.69 366.34,518.01C367.46,511.34 368.82,503.78 369.91,495.03C371,486.27 371.97,474.12 372.89,465.47C373.81,456.83 374.51,448.4 375.43,443.14C376.36,437.89 377.45,434.39 378.42,433.95C379.39,433.51 380.23,437.01 381.25,440.52C382.27,444.02 383.37,449.27 384.52,454.97C385.68,460.66 386.96,467.99 388.16,474.67C389.36,481.35 390.63,489.12 391.72,495.03C392.81,500.94 393.69,505.65 394.7,510.13C395.72,514.62 396.56,517.8 397.83,521.95C399.1,526.11 400.8,531.59 402.34,535.09C403.88,538.59 405.29,540.78 407.07,542.97C408.85,545.16 410.57,546.43 413.03,548.22C415.49,550.02 418.7,552.21 421.83,553.74C424.96,555.27 428.31,556.41 431.79,557.42C435.27,558.43 440.88,559.39 442.7,559.78" fill="none" stroke="#ee3535" stroke-width="1.75" stroke-linejoin="round" stroke-linecap="round" />
<path d="M260.9,563.72C263.32,563.81 270.6,564.25 275.44,564.25C280.29,564.25 285.14,563.81 289.99,563.72C294.84,563.64 299.68,563.81 304.53,563.72C309.38,563.64 314.83,563.48 319.08,563.2C323.32,562.91 326.63,562.72 329.98,562.02C333.34,561.32 336.67,559.87 339.22,559C341.76,558.12 343.47,557.64 345.26,556.76C347.04,555.89 348.21,555.16 349.91,553.74C351.61,552.32 353.57,551.33 355.44,548.22C357.3,545.12 359.65,540.34 361.11,535.09C362.56,529.84 363.23,523.38 364.16,516.7C365.1,510.02 365.86,504.44 366.71,495.03C367.56,485.61 368.53,469.31 369.25,460.22C369.98,451.13 370.53,444.9 371.07,440.52C371.62,436.14 372.04,434.17 372.53,433.95C373.01,433.73 373.37,434.83 373.98,439.2C374.59,443.58 375.29,450.92 376.16,460.22C377.03,469.52 378.19,485.4 379.22,495.03C380.25,504.66 381.09,511.34 382.34,518.01C383.59,524.69 385.01,530.05 386.71,535.09C388.4,540.12 390.35,545.12 392.52,548.22C394.69,551.33 397.42,552.43 399.72,553.74C402.03,555.05 403.32,555.23 406.34,556.11C409.36,556.98 413.59,558.25 417.83,559C422.07,559.74 427.65,560.18 431.79,560.57C435.94,560.97 440.88,561.23 442.7,561.36" fill="none" stroke="#2ca02c" stroke-width="1.75" stroke-linejoin="round" stroke-linecap="round" />
</g>
<rect x="261.2" y="421.3" width="181.2" height="144.7" fill="none" stroke="#111" stroke-width="1.1" />
<line x1="260.9" y1="566" x2="260.9" y2="569.4" stroke="#111" stroke-width="0.9" />
<line x1="297.26" y1="566" x2="297.26" y2="569.4" stroke="#111" stroke-width="0.9" />
<line x1="333.62" y1="566" x2="333.62" y2="569.4" stroke="#111" stroke-width="0.9" />
<line x1="369.98" y1="566" x2="369.98" y2="569.4" stroke="#111" stroke-width="0.9" />
<line x1="406.34" y1="566" x2="406.34" y2="569.4" stroke="#111" stroke-width="0.9" />
<line x1="442.7" y1="566" x2="442.7" y2="569.4" stroke="#111" stroke-width="0.9" />
<line x1="279.08" y1="566" x2="279.08" y2="567.9" stroke="#111" stroke-width="0.9" />
<line x1="315.44" y1="566" x2="315.44" y2="567.9" stroke="#111" stroke-width="0.9" />
<line x1="351.8" y1="566" x2="351.8" y2="567.9" stroke="#111" stroke-width="0.9" />
<line x1="388.16" y1="566" x2="388.16" y2="567.9" stroke="#111" stroke-width="0.9" />
<line x1="424.52" y1="566" x2="424.52" y2="567.9" stroke="#111" stroke-width="0.9" />
<text x="260.9" y="580" font-size="11.4" fill="#111" text-anchor="middle" font-weight="normal" font-style="normal" >400</text>
<text x="297.26" y="580" font-size="11.4" fill="#111" text-anchor="middle" font-weight="normal" font-style="normal" >450</text>
<text x="333.62" y="580" font-size="11.4" fill="#111" text-anchor="middle" font-weight="normal" font-style="normal" >500</text>
<text x="369.98" y="580" font-size="11.4" fill="#111" text-anchor="middle" font-weight="normal" font-style="normal" >550</text>
<text x="406.34" y="580" font-size="11.4" fill="#111" text-anchor="middle" font-weight="normal" font-style="normal" >600</text>
<text x="442.7" y="580" font-size="11.4" fill="#111" text-anchor="middle" font-weight="normal" font-style="normal" >650</text>
<line x1="257.8" y1="565.3" x2="261.2" y2="565.3" stroke="#111" stroke-width="0.9" />
<line x1="257.8" y1="539.03" x2="261.2" y2="539.03" stroke="#111" stroke-width="0.9" />
<line x1="257.8" y1="512.76" x2="261.2" y2="512.76" stroke="#111" stroke-width="0.9" />
<line x1="257.8" y1="486.49" x2="261.2" y2="486.49" stroke="#111" stroke-width="0.9" />
<line x1="257.8" y1="460.22" x2="261.2" y2="460.22" stroke="#111" stroke-width="0.9" />
<line x1="257.8" y1="433.95" x2="261.2" y2="433.95" stroke="#111" stroke-width="0.9" />
<line x1="259.3" y1="552.16" x2="261.2" y2="552.16" stroke="#111" stroke-width="0.9" />
<line x1="259.3" y1="525.89" x2="261.2" y2="525.89" stroke="#111" stroke-width="0.9" />
<line x1="259.3" y1="499.62" x2="261.2" y2="499.62" stroke="#111" stroke-width="0.9" />
<line x1="259.3" y1="473.35" x2="261.2" y2="473.35" stroke="#111" stroke-width="0.9" />
<line x1="259.3" y1="447.08" x2="261.2" y2="447.08" stroke="#111" stroke-width="0.9" />
<text x="256.6" y="569.4" font-size="11.4" fill="#111" text-anchor="end" font-weight="normal" font-style="normal" >0.0</text>
<text x="256.6" y="543.13" font-size="11.4" fill="#111" text-anchor="end" font-weight="normal" font-style="normal" >0.2</text>
<text x="256.6" y="516.86" font-size="11.4" fill="#111" text-anchor="end" font-weight="normal" font-style="normal" >0.4</text>
<text x="256.6" y="490.59" font-size="11.4" fill="#111" text-anchor="end" font-weight="normal" font-style="normal" >0.6</text>
<text x="256.6" y="464.32" font-size="11.4" fill="#111" text-anchor="end" font-weight="normal" font-style="normal" >0.8</text>
<text x="256.6" y="438.05" font-size="11.4" fill="#111" text-anchor="end" font-weight="normal" font-style="normal" >1.0</text>
<text x="351.5" y="597" font-size="11.6" fill="#111" text-anchor="middle" font-weight="normal" font-style="normal" >Wavelength (nm)</text>
<text transform="translate(232.3,490.6) rotate(-90)" font-size="11.6" fill="#111" text-anchor="middle">PL intensity (Norm.)</text>
<line x1="266.5" y1="428.8" x2="284.2" y2="428.8" stroke="#1f6be0" stroke-width="1.8" />
<text x="288.6" y="432.9" font-size="11.6" fill="#111" text-anchor="start" font-weight="normal" font-style="normal" >3D</text>
<line x1="266.5" y1="443.05" x2="284.2" y2="443.05" stroke="#ee3535" stroke-width="1.8" />
<text x="288.6" y="447.15" font-size="11.6" fill="#111" text-anchor="start" font-weight="normal" font-style="normal" >2D/3D (front)</text>
<line x1="266.5" y1="457.3" x2="284.2" y2="457.3" stroke="#2ca02c" stroke-width="1.8" />
<text x="288.6" y="461.4" font-size="11.6" fill="#111" text-anchor="start" font-weight="normal" font-style="normal" >2D/3D (back)</text>
<path d="M309.2,490 C309.6,487.6 311.8,487.6 310.6,485.8 C309.4,484.2 305.4,484.6 304.6,483.0 C304,481.4 314.6,481.6 315.4,479.6 C316,477.8 301.6,478.4 301.2,476.4 C301,474.8 311.6,475.4 311.8,473.6 C312,472.4 307.6,472.8 306.6,471.8" fill="none" stroke="#9fe08a" stroke-width="3.4" stroke-linecap="round" filter="url(#glow)" opacity="0.9"/>
<path d="M309.6,507 C310,509.4 312.4,509.6 311.2,511.2 C310,512.8 305.6,512.4 305.0,514.0 C304.4,515.6 315.0,515.4 315.6,517.4 C316.2,519.2 301.8,518.8 301.6,520.8 C301.4,522.4 311.8,521.8 312,523.6 C312.2,524.8 307.6,524.6 306.4,525.6" fill="none" stroke="#9fe08a" stroke-width="3.4" stroke-linecap="round" filter="url(#glow)" opacity="0.9"/>
<polygon points="306.5,467.6 303.2,473.4 309.8,473.4" fill="#9fe08a" stroke="none" stroke-width="0.5" stroke-linejoin="round" filter="url(#glow)"/>
<polygon points="306,532.4 302.7,526.2 309.3,526.2" fill="#9fe08a" stroke="none" stroke-width="0.5" stroke-linejoin="round" filter="url(#glow)"/>
<path d="M309.2,490 C309.6,487.6 311.8,487.6 310.6,485.8 C309.4,484.2 305.4,484.6 304.6,483.0 C304,481.4 314.6,481.6 315.4,479.6 C316,477.8 301.6,478.4 301.2,476.4 C301,474.8 311.6,475.4 311.8,473.6 C312,472.4 307.6,472.8 306.6,471.8" fill="none" stroke="#5eb044" stroke-width="1.3" stroke-linecap="round"/>
<path d="M309.6,507 C310,509.4 312.4,509.6 311.2,511.2 C310,512.8 305.6,512.4 305.0,514.0 C304.4,515.6 315.0,515.4 315.6,517.4 C316.2,519.2 301.8,518.8 301.6,520.8 C301.4,522.4 311.8,521.8 312,523.6 C312.2,524.8 307.6,524.6 306.4,525.6" fill="none" stroke="#5eb044" stroke-width="1.3" stroke-linecap="round"/>
<polygon points="306.5,468.4 304,473 309,473" fill="#5eb044" stroke="none" stroke-width="0.5" stroke-linejoin="round" />
<polygon points="306,531.6 303.5,526.6 308.5,526.6" fill="#5eb044" stroke="none" stroke-width="0.5" stroke-linejoin="round" />
<rect x="277.2" y="490" width="59.6" height="4.6" fill="#5b9bd5" stroke="none" stroke-width="0.5" />
<rect x="277.2" y="494.6" width="59.6" height="12.2" fill="url(#dev)" stroke="none" stroke-width="0.5" />
<line x1="273.2" y1="484" x2="303.4" y2="489.4" stroke="#7030a0" stroke-width="1.5" />
<polygon points="308,490.2 302,492.3 303,486.4" fill="#7030a0" stroke="none" stroke-width="0.5" stroke-linejoin="round" />
<line x1="273.2" y1="512.2" x2="303.4" y2="507.6" stroke="#7030a0" stroke-width="1.5" />
<polygon points="308,506.9 303.2,510.6 302.2,504.7" fill="#7030a0" stroke="none" stroke-width="0.5" stroke-linejoin="round" />
<text x="318.4" y="483.7" font-size="10.6" fill="#111" text-anchor="start" font-weight="normal" font-style="normal" >front</text>
<text x="319.4" y="521.7" font-size="10.6" fill="#111" text-anchor="start" font-weight="normal" font-style="normal" >back</text>
<text x="265.6" y="521.7" font-size="10.6" fill="#111" text-anchor="start" font-weight="normal" font-style="normal" >365 nm</text>
<text x="338.6" y="494.8" font-size="10.6" fill="#111" text-anchor="start" font-weight="normal" font-style="normal" >2D</text>
<text x="338.6" y="505.8" font-size="10.6" fill="#111" text-anchor="start" font-weight="normal" font-style="normal" >3D</text>
<text x="305" y="553" font-size="11.4" fill="#ee3535" text-anchor="start" font-weight="normal" font-style="normal" >2D</text>
<line x1="302.1" y1="550.2" x2="295.6" y2="555.4" stroke="#ee3535" stroke-width="0.9" />
<polygon points="293.3,557.2 295,553.2 297.8,556.6" fill="#ee3535" stroke="none" stroke-width="0.5" stroke-linejoin="round" />
<text x="451.5" y="424" font-size="10.5" fill="#111" text-anchor="start" font-weight="bold" font-style="normal" >(g)</text>
<g clip-path="url(#clipG)">
<path d="M496.0,562.5h3.7v3.7h-3.7zM496.5,562.5h3.7v3.7h-3.7zM496.9,562.0h3.7v3.7h-3.7zM497.4,562.8h3.7v3.7h-3.7zM497.8,562.2h3.7v3.7h-3.7zM498.3,562.8h3.7v3.7h-3.7zM498.8,561.8h3.7v3.7h-3.7zM499.2,562.1h3.7v3.7h-3.7zM499.7,561.8h3.7v3.7h-3.7zM500.1,562.3h3.7v3.7h-3.7zM500.6,562.0h3.7v3.7h-3.7zM501.0,562.2h3.7v3.7h-3.7zM501.5,562.4h3.7v3.7h-3.7zM501.9,562.1h3.7v3.7h-3.7zM502.4,562.5h3.7v3.7h-3.7zM502.8,562.2h3.7v3.7h-3.7zM503.3,562.0h3.7v3.7h-3.7zM503.7,562.1h3.7v3.7h-3.7zM504.2,562.3h3.7v3.7h-3.7zM504.6,561.6h3.7v3.7h-3.7zM505.1,562.1h3.7v3.7h-3.7zM505.6,560.7h3.7v3.7h-3.7zM506.0,536.0h3.7v3.7h-3.7zM506.5,470.3h3.7v3.7h-3.7zM506.9,446.6h3.7v3.7h-3.7zM507.4,438.5h3.7v3.7h-3.7zM507.8,429.7h3.7v3.7h-3.7zM508.3,429.4h3.7v3.7h-3.7zM508.7,426.5h3.7v3.7h-3.7zM509.2,427.5h3.7v3.7h-3.7zM509.6,430.2h3.7v3.7h-3.7zM510.1,437.0h3.7v3.7h-3.7zM510.5,441.4h3.7v3.7h-3.7zM511.0,441.2h3.7v3.7h-3.7zM511.5,450.0h3.7v3.7h-3.7zM511.9,452.1h3.7v3.7h-3.7zM512.4,454.0h3.7v3.7h-3.7zM512.8,454.9h3.7v3.7h-3.7zM513.3,462.6h3.7v3.7h-3.7zM513.7,467.7h3.7v3.7h-3.7zM514.2,466.1h3.7v3.7h-3.7zM514.6,470.6h3.7v3.7h-3.7zM515.1,473.0h3.7v3.7h-3.7zM515.5,474.3h3.7v3.7h-3.7zM516.0,477.1h3.7v3.7h-3.7zM516.4,479.3h3.7v3.7h-3.7zM516.9,482.6h3.7v3.7h-3.7zM517.3,482.2h3.7v3.7h-3.7zM517.8,483.9h3.7v3.7h-3.7zM518.3,488.2h3.7v3.7h-3.7zM518.7,490.9h3.7v3.7h-3.7zM519.2,490.9h3.7v3.7h-3.7zM519.6,493.1h3.7v3.7h-3.7zM520.1,497.2h3.7v3.7h-3.7zM520.5,497.9h3.7v3.7h-3.7zM521.0,497.2h3.7v3.7h-3.7zM521.4,500.5h3.7v3.7h-3.7zM521.9,502.4h3.7v3.7h-3.7zM522.3,503.0h3.7v3.7h-3.7zM522.8,504.7h3.7v3.7h-3.7zM523.2,506.0h3.7v3.7h-3.7zM523.7,510.2h3.7v3.7h-3.7zM524.1,505.9h3.7v3.7h-3.7zM524.6,509.5h3.7v3.7h-3.7zM525.1,512.2h3.7v3.7h-3.7zM525.5,510.6h3.7v3.7h-3.7zM526.0,512.7h3.7v3.7h-3.7zM526.4,514.1h3.7v3.7h-3.7zM526.9,513.6h3.7v3.7h-3.7zM527.3,512.8h3.7v3.7h-3.7zM527.8,516.3h3.7v3.7h-3.7zM528.2,515.7h3.7v3.7h-3.7zM528.7,515.7h3.7v3.7h-3.7zM529.1,521.3h3.7v3.7h-3.7zM529.6,521.4h3.7v3.7h-3.7zM530.0,520.3h3.7v3.7h-3.7zM530.5,524.7h3.7v3.7h-3.7zM531.0,523.3h3.7v3.7h-3.7zM531.4,521.8h3.7v3.7h-3.7zM531.9,522.9h3.7v3.7h-3.7zM532.3,524.2h3.7v3.7h-3.7zM532.8,528.5h3.7v3.7h-3.7zM533.2,523.0h3.7v3.7h-3.7zM533.7,526.2h3.7v3.7h-3.7zM534.1,526.5h3.7v3.7h-3.7zM534.6,527.5h3.7v3.7h-3.7zM535.0,531.2h3.7v3.7h-3.7zM535.5,531.4h3.7v3.7h-3.7zM535.9,531.6h3.7v3.7h-3.7zM536.4,527.8h3.7v3.7h-3.7zM536.8,532.1h3.7v3.7h-3.7zM537.3,531.8h3.7v3.7h-3.7zM537.8,532.3h3.7v3.7h-3.7zM538.2,531.7h3.7v3.7h-3.7zM538.7,532.3h3.7v3.7h-3.7zM539.1,533.0h3.7v3.7h-3.7zM539.6,535.4h3.7v3.7h-3.7zM540.0,538.1h3.7v3.7h-3.7zM540.5,534.5h3.7v3.7h-3.7zM540.9,534.7h3.7v3.7h-3.7zM541.4,534.0h3.7v3.7h-3.7zM541.8,536.0h3.7v3.7h-3.7zM542.3,537.0h3.7v3.7h-3.7zM542.7,536.1h3.7v3.7h-3.7zM543.2,538.8h3.7v3.7h-3.7zM543.6,538.5h3.7v3.7h-3.7zM544.1,538.8h3.7v3.7h-3.7zM544.6,537.7h3.7v3.7h-3.7zM545.0,536.1h3.7v3.7h-3.7zM545.5,537.9h3.7v3.7h-3.7zM545.9,537.8h3.7v3.7h-3.7zM546.4,539.1h3.7v3.7h-3.7zM546.8,539.3h3.7v3.7h-3.7zM547.3,540.4h3.7v3.7h-3.7zM547.7,540.5h3.7v3.7h-3.7zM548.2,543.0h3.7v3.7h-3.7zM548.6,542.0h3.7v3.7h-3.7zM549.1,542.4h3.7v3.7h-3.7zM549.5,540.5h3.7v3.7h-3.7zM550.0,540.9h3.7v3.7h-3.7zM550.5,540.7h3.7v3.7h-3.7zM550.9,540.6h3.7v3.7h-3.7zM551.4,542.7h3.7v3.7h-3.7zM551.8,541.6h3.7v3.7h-3.7zM552.3,541.0h3.7v3.7h-3.7zM552.7,543.1h3.7v3.7h-3.7zM553.2,542.3h3.7v3.7h-3.7zM553.6,543.7h3.7v3.7h-3.7zM554.1,545.3h3.7v3.7h-3.7zM554.5,543.9h3.7v3.7h-3.7zM555.0,545.0h3.7v3.7h-3.7zM555.4,544.4h3.7v3.7h-3.7zM555.9,545.1h3.7v3.7h-3.7zM556.3,544.6h3.7v3.7h-3.7zM556.8,547.0h3.7v3.7h-3.7zM557.3,543.5h3.7v3.7h-3.7zM557.7,544.3h3.7v3.7h-3.7zM558.2,546.0h3.7v3.7h-3.7zM558.6,546.6h3.7v3.7h-3.7zM559.1,546.0h3.7v3.7h-3.7zM559.5,545.7h3.7v3.7h-3.7zM560.0,546.1h3.7v3.7h-3.7zM560.4,546.3h3.7v3.7h-3.7zM560.9,548.4h3.7v3.7h-3.7zM561.3,547.9h3.7v3.7h-3.7zM561.8,546.0h3.7v3.7h-3.7zM562.2,547.1h3.7v3.7h-3.7zM562.7,548.7h3.7v3.7h-3.7zM563.1,548.3h3.7v3.7h-3.7zM563.6,548.9h3.7v3.7h-3.7zM564.1,548.8h3.7v3.7h-3.7zM564.5,547.2h3.7v3.7h-3.7zM565.0,548.4h3.7v3.7h-3.7zM565.4,547.6h3.7v3.7h-3.7zM565.9,548.4h3.7v3.7h-3.7zM566.3,549.9h3.7v3.7h-3.7zM566.8,549.4h3.7v3.7h-3.7zM567.2,547.3h3.7v3.7h-3.7zM567.7,549.7h3.7v3.7h-3.7zM568.1,550.1h3.7v3.7h-3.7zM568.6,548.5h3.7v3.7h-3.7zM569.0,549.5h3.7v3.7h-3.7zM569.5,549.7h3.7v3.7h-3.7zM570.0,548.8h3.7v3.7h-3.7zM570.4,551.3h3.7v3.7h-3.7zM570.9,549.8h3.7v3.7h-3.7zM571.3,551.0h3.7v3.7h-3.7zM571.8,551.4h3.7v3.7h-3.7zM572.2,551.1h3.7v3.7h-3.7zM572.7,549.8h3.7v3.7h-3.7zM573.1,550.9h3.7v3.7h-3.7zM573.6,552.2h3.7v3.7h-3.7zM574.0,551.8h3.7v3.7h-3.7zM574.5,550.1h3.7v3.7h-3.7zM574.9,550.6h3.7v3.7h-3.7zM575.4,552.1h3.7v3.7h-3.7zM575.8,549.9h3.7v3.7h-3.7zM576.3,551.8h3.7v3.7h-3.7zM576.8,552.5h3.7v3.7h-3.7zM577.2,551.9h3.7v3.7h-3.7zM577.7,551.3h3.7v3.7h-3.7zM578.1,551.0h3.7v3.7h-3.7zM578.6,551.5h3.7v3.7h-3.7zM579.0,552.5h3.7v3.7h-3.7zM579.5,552.7h3.7v3.7h-3.7zM579.9,553.4h3.7v3.7h-3.7zM580.4,552.6h3.7v3.7h-3.7zM580.8,553.0h3.7v3.7h-3.7zM581.3,552.6h3.7v3.7h-3.7zM581.7,553.7h3.7v3.7h-3.7zM582.2,553.3h3.7v3.7h-3.7zM582.6,553.6h3.7v3.7h-3.7zM583.1,553.9h3.7v3.7h-3.7zM583.6,554.0h3.7v3.7h-3.7zM584.0,554.0h3.7v3.7h-3.7zM584.5,554.2h3.7v3.7h-3.7zM584.9,553.2h3.7v3.7h-3.7zM585.4,553.6h3.7v3.7h-3.7zM585.8,554.5h3.7v3.7h-3.7zM586.3,553.5h3.7v3.7h-3.7zM586.7,553.7h3.7v3.7h-3.7zM587.2,553.1h3.7v3.7h-3.7zM587.6,554.2h3.7v3.7h-3.7zM588.1,554.3h3.7v3.7h-3.7zM588.5,554.6h3.7v3.7h-3.7zM589.0,554.2h3.7v3.7h-3.7zM589.5,554.1h3.7v3.7h-3.7zM589.9,554.4h3.7v3.7h-3.7zM590.4,554.7h3.7v3.7h-3.7zM590.8,554.3h3.7v3.7h-3.7zM591.3,554.7h3.7v3.7h-3.7zM591.7,554.7h3.7v3.7h-3.7zM592.2,555.4h3.7v3.7h-3.7zM592.6,554.8h3.7v3.7h-3.7zM593.1,555.6h3.7v3.7h-3.7zM593.5,555.6h3.7v3.7h-3.7zM594.0,555.1h3.7v3.7h-3.7zM594.4,554.1h3.7v3.7h-3.7zM594.9,554.8h3.7v3.7h-3.7zM595.3,555.4h3.7v3.7h-3.7zM595.8,555.6h3.7v3.7h-3.7zM596.3,555.0h3.7v3.7h-3.7zM596.7,554.9h3.7v3.7h-3.7zM597.2,555.0h3.7v3.7h-3.7zM597.6,555.8h3.7v3.7h-3.7zM598.1,555.7h3.7v3.7h-3.7zM598.5,556.0h3.7v3.7h-3.7zM599.0,556.1h3.7v3.7h-3.7zM599.4,556.4h3.7v3.7h-3.7zM599.9,556.2h3.7v3.7h-3.7zM600.3,557.2h3.7v3.7h-3.7zM600.8,556.8h3.7v3.7h-3.7zM601.2,556.0h3.7v3.7h-3.7zM601.7,556.8h3.7v3.7h-3.7zM602.2,556.1h3.7v3.7h-3.7zM602.6,557.1h3.7v3.7h-3.7zM603.1,556.7h3.7v3.7h-3.7zM603.5,556.4h3.7v3.7h-3.7zM604.0,557.1h3.7v3.7h-3.7zM604.4,557.0h3.7v3.7h-3.7zM604.9,555.5h3.7v3.7h-3.7zM605.3,557.1h3.7v3.7h-3.7zM605.8,557.2h3.7v3.7h-3.7zM606.2,557.2h3.7v3.7h-3.7zM606.7,556.9h3.7v3.7h-3.7zM607.1,557.0h3.7v3.7h-3.7zM607.6,556.6h3.7v3.7h-3.7zM608.0,556.7h3.7v3.7h-3.7zM608.5,557.3h3.7v3.7h-3.7zM609.0,557.4h3.7v3.7h-3.7zM609.4,557.9h3.7v3.7h-3.7zM609.9,558.0h3.7v3.7h-3.7zM610.3,557.7h3.7v3.7h-3.7zM610.8,557.1h3.7v3.7h-3.7zM611.2,557.4h3.7v3.7h-3.7zM611.7,557.1h3.7v3.7h-3.7zM612.1,557.1h3.7v3.7h-3.7zM612.6,557.7h3.7v3.7h-3.7zM613.0,556.7h3.7v3.7h-3.7zM613.5,557.9h3.7v3.7h-3.7zM613.9,558.0h3.7v3.7h-3.7zM614.4,558.0h3.7v3.7h-3.7zM614.8,557.3h3.7v3.7h-3.7zM615.3,557.9h3.7v3.7h-3.7zM615.8,558.2h3.7v3.7h-3.7zM616.2,557.8h3.7v3.7h-3.7zM616.7,557.5h3.7v3.7h-3.7zM617.1,558.1h3.7v3.7h-3.7zM617.6,558.2h3.7v3.7h-3.7zM618.0,557.7h3.7v3.7h-3.7zM618.5,557.8h3.7v3.7h-3.7zM618.9,557.8h3.7v3.7h-3.7zM619.4,558.6h3.7v3.7h-3.7zM619.8,558.2h3.7v3.7h-3.7zM620.3,558.2h3.7v3.7h-3.7zM620.7,559.1h3.7v3.7h-3.7zM621.2,557.9h3.7v3.7h-3.7zM621.7,558.4h3.7v3.7h-3.7zM622.1,558.6h3.7v3.7h-3.7zM622.6,557.6h3.7v3.7h-3.7zM623.0,558.5h3.7v3.7h-3.7zM623.5,558.9h3.7v3.7h-3.7zM623.9,558.7h3.7v3.7h-3.7zM624.4,558.5h3.7v3.7h-3.7zM624.8,558.4h3.7v3.7h-3.7zM625.3,558.8h3.7v3.7h-3.7zM625.7,559.1h3.7v3.7h-3.7zM626.2,559.1h3.7v3.7h-3.7zM626.6,559.2h3.7v3.7h-3.7zM627.1,559.3h3.7v3.7h-3.7zM627.5,558.9h3.7v3.7h-3.7zM628.0,559.2h3.7v3.7h-3.7zM628.5,559.0h3.7v3.7h-3.7zM628.9,559.4h3.7v3.7h-3.7zM629.4,559.4h3.7v3.7h-3.7zM629.8,559.2h3.7v3.7h-3.7zM630.3,559.3h3.7v3.7h-3.7zM630.7,558.7h3.7v3.7h-3.7zM631.2,559.5h3.7v3.7h-3.7zM631.6,559.1h3.7v3.7h-3.7zM632.1,559.3h3.7v3.7h-3.7zM632.5,559.8h3.7v3.7h-3.7zM633.0,559.0h3.7v3.7h-3.7zM633.4,559.3h3.7v3.7h-3.7zM633.9,560.2h3.7v3.7h-3.7zM634.3,559.2h3.7v3.7h-3.7zM634.8,559.1h3.7v3.7h-3.7zM635.3,559.8h3.7v3.7h-3.7zM635.7,558.8h3.7v3.7h-3.7zM636.2,559.4h3.7v3.7h-3.7zM636.6,560.0h3.7v3.7h-3.7zM637.1,559.4h3.7v3.7h-3.7zM637.5,559.7h3.7v3.7h-3.7zM638.0,560.1h3.7v3.7h-3.7zM638.4,560.4h3.7v3.7h-3.7zM638.9,559.6h3.7v3.7h-3.7zM639.3,560.0h3.7v3.7h-3.7zM639.8,559.5h3.7v3.7h-3.7zM640.2,559.6h3.7v3.7h-3.7zM640.7,560.0h3.7v3.7h-3.7zM641.2,560.0h3.7v3.7h-3.7zM641.6,559.2h3.7v3.7h-3.7zM642.1,559.2h3.7v3.7h-3.7zM642.5,559.6h3.7v3.7h-3.7zM643.0,560.0h3.7v3.7h-3.7zM643.4,560.3h3.7v3.7h-3.7zM643.9,560.1h3.7v3.7h-3.7zM644.3,559.4h3.7v3.7h-3.7zM644.8,559.8h3.7v3.7h-3.7zM645.2,560.1h3.7v3.7h-3.7zM645.7,560.5h3.7v3.7h-3.7zM646.1,560.0h3.7v3.7h-3.7zM646.6,560.4h3.7v3.7h-3.7zM647.0,560.1h3.7v3.7h-3.7zM647.5,559.8h3.7v3.7h-3.7zM648.0,559.8h3.7v3.7h-3.7zM648.4,560.1h3.7v3.7h-3.7zM648.9,560.3h3.7v3.7h-3.7zM649.3,560.1h3.7v3.7h-3.7zM649.8,559.6h3.7v3.7h-3.7zM650.2,560.1h3.7v3.7h-3.7zM650.7,560.7h3.7v3.7h-3.7zM651.1,559.7h3.7v3.7h-3.7zM651.6,560.2h3.7v3.7h-3.7zM652.0,559.1h3.7v3.7h-3.7zM652.5,560.5h3.7v3.7h-3.7zM652.9,560.4h3.7v3.7h-3.7zM653.4,560.5h3.7v3.7h-3.7zM653.8,560.3h3.7v3.7h-3.7zM654.3,560.6h3.7v3.7h-3.7zM654.8,560.9h3.7v3.7h-3.7zM655.2,561.1h3.7v3.7h-3.7zM655.7,560.5h3.7v3.7h-3.7zM656.1,560.7h3.7v3.7h-3.7zM656.6,560.7h3.7v3.7h-3.7zM657.0,559.8h3.7v3.7h-3.7zM657.5,560.3h3.7v3.7h-3.7zM657.9,560.2h3.7v3.7h-3.7zM658.4,560.7h3.7v3.7h-3.7zM658.8,560.5h3.7v3.7h-3.7zM659.3,560.7h3.7v3.7h-3.7zM659.7,560.7h3.7v3.7h-3.7zM660.2,560.4h3.7v3.7h-3.7zM660.7,560.4h3.7v3.7h-3.7zM661.1,560.6h3.7v3.7h-3.7zM661.6,560.6h3.7v3.7h-3.7zM662.0,561.2h3.7v3.7h-3.7zM662.5,561.0h3.7v3.7h-3.7zM662.9,560.6h3.7v3.7h-3.7zM663.4,560.9h3.7v3.7h-3.7zM663.8,561.0h3.7v3.7h-3.7zM664.3,560.6h3.7v3.7h-3.7zM664.7,561.1h3.7v3.7h-3.7zM665.2,561.0h3.7v3.7h-3.7zM665.6,560.5h3.7v3.7h-3.7zM666.1,560.9h3.7v3.7h-3.7zM666.5,560.4h3.7v3.7h-3.7zM667.0,560.7h3.7v3.7h-3.7zM667.5,560.6h3.7v3.7h-3.7zM667.9,560.5h3.7v3.7h-3.7zM668.4,561.6h3.7v3.7h-3.7zM668.8,560.9h3.7v3.7h-3.7zM669.3,561.3h3.7v3.7h-3.7zM669.7,561.1h3.7v3.7h-3.7zM670.2,561.0h3.7v3.7h-3.7zM670.6,560.6h3.7v3.7h-3.7zM671.1,561.0h3.7v3.7h-3.7zM671.5,560.5h3.7v3.7h-3.7zM672.0,561.2h3.7v3.7h-3.7zM672.4,561.0h3.7v3.7h-3.7zM672.9,561.0h3.7v3.7h-3.7zM673.3,560.7h3.7v3.7h-3.7zM673.8,561.1h3.7v3.7h-3.7zM674.3,561.2h3.7v3.7h-3.7zM674.7,561.2h3.7v3.7h-3.7zM675.2,561.5h3.7v3.7h-3.7zM675.6,560.7h3.7v3.7h-3.7zM676.1,560.9h3.7v3.7h-3.7zM676.5,561.0h3.7v3.7h-3.7zM677.0,561.0h3.7v3.7h-3.7z" fill="#2468e0"/>
<path d="M511.5,434.4 L512.4,442.5 L513.3,449.9 L514.2,456.8 L515.1,463.1 L516.0,468.9 L516.9,474.3 L517.8,479.2 L518.7,483.8 L519.6,488.1 L520.6,492.0 L521.5,495.7 L522.4,499.1 L523.3,502.2 L524.2,505.1 L525.1,507.9 L526.0,510.4 L526.9,512.8 L527.8,515.0 L528.7,517.0 L529.6,519.0 L530.5,520.8 L531.4,522.4 L532.3,524.0 L533.3,525.5 L534.2,526.9 L535.1,528.2 L536.0,529.5 L536.9,530.7 L537.8,531.8 L538.7,532.8 L539.6,533.8 L540.5,534.8 L541.4,535.7 L542.3,536.5 L543.2,537.3 L544.1,538.1 L545.0,538.8 L546.0,539.5 L546.9,540.2 L547.8,540.9 L548.7,541.5 L549.6,542.1 L550.5,542.6 L551.4,543.2 L552.3,543.7 L553.2,544.2 L554.1,544.7 L555.0,545.2 L555.9,545.6 L556.8,546.1 L557.7,546.5 L558.7,546.9 L559.6,547.3 L560.5,547.7 L561.4,548.1 L562.3,548.5 L563.2,548.8 L564.1,549.1 L565.0,549.5 L565.9,549.8 L566.8,550.1 L567.7,550.4 L568.6,550.7 L569.5,551.0 L570.4,551.3 L571.3,551.6 L572.3,551.8 L573.2,552.1 L574.1,552.4 L575.0,552.6 L575.9,552.9 L576.8,553.1 L577.7,553.3 L578.6,553.6 L579.5,553.8 L580.4,554.0 L581.3,554.2 L582.2,554.4 L583.1,554.6 L584.0,554.8 L585.0,555.0 L585.9,555.2 L586.8,555.4 L587.7,555.6 L588.6,555.7 L589.5,555.9 L590.4,556.1 L591.3,556.2 L592.2,556.4 L593.1,556.6 L594.0,556.7 L594.9,556.9 L595.8,557.0 L596.7,557.2 L597.7,557.3 L598.6,557.4 L599.5,557.6 L600.4,557.7 L601.3,557.8 L602.2,558.0 L603.1,558.1 L604.0,558.2 L604.9,558.3 L605.8,558.5 L606.7,558.6 L607.6,558.7 L608.5,558.8 L609.4,558.9 L610.3,559.0 L611.3,559.1 L612.2,559.2 L613.1,559.3 L614.0,559.4 L614.9,559.5 L615.8,559.6 L616.7,559.7 L617.6,559.8 L618.5,559.9 L619.4,559.9 L620.3,560.0 L621.2,560.1 L622.1,560.2 L623.0,560.3 L624.0,560.3 L624.9,560.4 L625.8,560.5 L626.7,560.6 L627.6,560.6 L628.5,560.7 L629.4,560.8 L630.3,560.8 L631.2,560.9 L632.1,561.0 L633.0,561.0 L633.9,561.1 L634.8,561.2 L635.7,561.2 L636.7,561.3 L637.6,561.3 L638.5,561.4 L639.4,561.4 L640.3,561.5 L641.2,561.5 L642.1,561.6 L643.0,561.6 L643.9,561.7 L644.8,561.7 L645.7,561.8 L646.6,561.8 L647.5,561.9 L648.4,561.9 L649.4,562.0 L650.3,562.0 L651.2,562.0 L652.1,562.1 L653.0,562.1 L653.9,562.2 L654.8,562.2 L655.7,562.2 L656.6,562.3 L657.5,562.3 L658.4,562.3 L659.3,562.4 L660.2,562.4 L661.1,562.4 L662.0,562.5 L663.0,562.5 L663.9,562.5 L664.8,562.6 L665.7,562.6 L666.6,562.6 L667.5,562.7 L668.4,562.7 L669.3,562.7 L670.2,562.7 L671.1,562.8 L672.0,562.8 L672.9,562.8 L673.8,562.8 L674.7,562.9 L675.7,562.9 L676.6,562.9 L677.5,562.9 L678.4,563.0" fill="none" stroke="#909090" stroke-width="1" stroke-dasharray="1.5 2.3"/>
<path d="M497.9,561.3l2.6,4.5h-5.2zM498.3,561.2l2.6,4.5h-5.2zM498.8,560.9l2.6,4.5h-5.2zM499.2,561.3l2.6,4.5h-5.2zM499.7,561.3l2.6,4.5h-5.2zM500.1,560.7l2.6,4.5h-5.2zM500.6,560.7l2.6,4.5h-5.2zM501.1,561.0l2.6,4.5h-5.2zM501.5,561.0l2.6,4.5h-5.2zM502.0,561.0l2.6,4.5h-5.2zM502.4,560.7l2.6,4.5h-5.2zM502.9,561.2l2.6,4.5h-5.2zM503.3,561.1l2.6,4.5h-5.2zM503.8,561.0l2.6,4.5h-5.2zM504.2,560.7l2.6,4.5h-5.2zM504.7,561.2l2.6,4.5h-5.2zM505.1,561.0l2.6,4.5h-5.2zM505.6,561.2l2.6,4.5h-5.2zM506.0,561.3l2.6,4.5h-5.2zM506.5,561.3l2.6,4.5h-5.2zM507.0,561.1l2.6,4.5h-5.2zM507.4,558.0l2.6,4.5h-5.2zM507.9,498.6l2.6,4.5h-5.2zM508.3,443.2l2.6,4.5h-5.2zM508.8,434.0l2.6,4.5h-5.2zM509.2,427.7l2.6,4.5h-5.2zM509.7,424.0l2.6,4.5h-5.2zM510.1,433.9l2.6,4.5h-5.2zM510.6,440.1l2.6,4.5h-5.2zM511.0,448.7l2.6,4.5h-5.2zM511.5,453.6l2.6,4.5h-5.2zM511.9,461.8l2.6,4.5h-5.2zM512.4,467.9l2.6,4.5h-5.2zM512.8,473.1l2.6,4.5h-5.2zM513.3,477.5l2.6,4.5h-5.2zM513.8,483.6l2.6,4.5h-5.2zM514.2,486.7l2.6,4.5h-5.2zM514.7,491.1l2.6,4.5h-5.2zM515.1,495.3l2.6,4.5h-5.2zM515.6,498.8l2.6,4.5h-5.2zM516.0,501.7l2.6,4.5h-5.2zM516.5,507.0l2.6,4.5h-5.2zM516.9,509.3l2.6,4.5h-5.2zM517.4,512.3l2.6,4.5h-5.2zM517.8,517.5l2.6,4.5h-5.2zM518.3,517.2l2.6,4.5h-5.2zM518.7,521.0l2.6,4.5h-5.2zM519.2,523.2l2.6,4.5h-5.2zM519.6,525.1l2.6,4.5h-5.2zM520.1,526.5l2.6,4.5h-5.2zM520.6,528.1l2.6,4.5h-5.2zM521.0,529.8l2.6,4.5h-5.2zM521.5,532.8l2.6,4.5h-5.2zM521.9,532.8l2.6,4.5h-5.2zM522.4,534.7l2.6,4.5h-5.2zM522.8,536.9l2.6,4.5h-5.2zM523.3,537.9l2.6,4.5h-5.2zM523.7,538.3l2.6,4.5h-5.2zM524.2,539.9l2.6,4.5h-5.2zM524.6,540.8l2.6,4.5h-5.2zM525.1,542.3l2.6,4.5h-5.2zM525.5,542.5l2.6,4.5h-5.2zM526.0,542.6l2.6,4.5h-5.2zM526.5,544.8l2.6,4.5h-5.2zM526.9,547.2l2.6,4.5h-5.2zM527.4,545.5l2.6,4.5h-5.2zM527.8,547.9l2.6,4.5h-5.2zM528.3,549.1l2.6,4.5h-5.2zM528.7,550.4l2.6,4.5h-5.2zM529.2,549.2l2.6,4.5h-5.2zM529.6,549.3l2.6,4.5h-5.2zM530.1,550.0l2.6,4.5h-5.2zM530.5,551.3l2.6,4.5h-5.2zM531.0,550.7l2.6,4.5h-5.2zM531.4,552.1l2.6,4.5h-5.2zM531.9,552.8l2.6,4.5h-5.2zM532.3,552.8l2.6,4.5h-5.2zM532.8,553.1l2.6,4.5h-5.2zM533.3,553.6l2.6,4.5h-5.2zM533.7,553.8l2.6,4.5h-5.2zM534.2,555.4l2.6,4.5h-5.2zM534.6,553.8l2.6,4.5h-5.2zM535.1,555.2l2.6,4.5h-5.2zM535.5,554.9l2.6,4.5h-5.2zM536.0,555.8l2.6,4.5h-5.2zM536.4,555.6l2.6,4.5h-5.2zM536.9,556.0l2.6,4.5h-5.2zM537.3,556.8l2.6,4.5h-5.2zM537.8,556.2l2.6,4.5h-5.2zM538.2,556.3l2.6,4.5h-5.2zM538.7,557.2l2.6,4.5h-5.2zM539.1,557.8l2.6,4.5h-5.2zM539.6,557.4l2.6,4.5h-5.2zM540.1,557.6l2.6,4.5h-5.2zM540.5,557.4l2.6,4.5h-5.2zM541.0,557.6l2.6,4.5h-5.2zM541.4,557.1l2.6,4.5h-5.2zM541.9,557.6l2.6,4.5h-5.2zM542.3,558.1l2.6,4.5h-5.2zM542.8,558.0l2.6,4.5h-5.2zM543.2,559.3l2.6,4.5h-5.2zM543.7,558.6l2.6,4.5h-5.2zM544.1,558.8l2.6,4.5h-5.2zM544.6,558.6l2.6,4.5h-5.2zM545.0,558.5l2.6,4.5h-5.2zM545.5,558.6l2.6,4.5h-5.2zM546.0,558.5l2.6,4.5h-5.2zM546.4,559.1l2.6,4.5h-5.2zM546.9,558.9l2.6,4.5h-5.2zM547.3,559.1l2.6,4.5h-5.2zM547.8,559.1l2.6,4.5h-5.2zM548.2,559.1l2.6,4.5h-5.2zM548.7,559.3l2.6,4.5h-5.2zM549.1,559.2l2.6,4.5h-5.2zM549.6,559.4l2.6,4.5h-5.2zM550.0,559.1l2.6,4.5h-5.2zM550.5,559.5l2.6,4.5h-5.2zM550.9,559.4l2.6,4.5h-5.2zM551.4,558.8l2.6,4.5h-5.2zM551.8,559.4l2.6,4.5h-5.2zM552.3,559.5l2.6,4.5h-5.2zM552.8,559.4l2.6,4.5h-5.2zM553.2,560.1l2.6,4.5h-5.2zM553.7,559.6l2.6,4.5h-5.2zM554.1,559.6l2.6,4.5h-5.2zM554.6,559.8l2.6,4.5h-5.2zM555.0,559.6l2.6,4.5h-5.2zM555.5,559.7l2.6,4.5h-5.2zM555.9,559.7l2.6,4.5h-5.2zM556.4,560.2l2.6,4.5h-5.2zM556.8,560.0l2.6,4.5h-5.2zM557.3,560.3l2.6,4.5h-5.2zM557.7,559.8l2.6,4.5h-5.2zM558.2,560.1l2.6,4.5h-5.2zM558.7,560.6l2.6,4.5h-5.2zM559.1,560.2l2.6,4.5h-5.2zM559.6,560.6l2.6,4.5h-5.2zM560.0,560.0l2.6,4.5h-5.2zM560.5,560.4l2.6,4.5h-5.2zM560.9,561.0l2.6,4.5h-5.2zM561.4,560.5l2.6,4.5h-5.2zM561.8,560.1l2.6,4.5h-5.2zM562.3,560.3l2.6,4.5h-5.2zM562.7,560.6l2.6,4.5h-5.2zM563.2,560.2l2.6,4.5h-5.2zM563.6,560.3l2.6,4.5h-5.2zM564.1,560.0l2.6,4.5h-5.2zM564.5,560.2l2.6,4.5h-5.2zM565.0,560.4l2.6,4.5h-5.2zM565.5,560.8l2.6,4.5h-5.2zM565.9,560.5l2.6,4.5h-5.2zM566.4,560.5l2.6,4.5h-5.2zM566.8,560.6l2.6,4.5h-5.2zM567.3,560.5l2.6,4.5h-5.2zM567.7,560.9l2.6,4.5h-5.2zM568.2,560.5l2.6,4.5h-5.2zM568.6,560.6l2.6,4.5h-5.2zM569.1,560.5l2.6,4.5h-5.2zM569.5,560.7l2.6,4.5h-5.2zM570.0,560.8l2.6,4.5h-5.2zM570.4,560.6l2.6,4.5h-5.2zM570.9,560.5l2.6,4.5h-5.2zM571.3,560.8l2.6,4.5h-5.2zM571.8,560.6l2.6,4.5h-5.2zM572.3,560.9l2.6,4.5h-5.2zM572.7,560.6l2.6,4.5h-5.2zM573.2,560.7l2.6,4.5h-5.2zM573.6,561.1l2.6,4.5h-5.2zM574.1,560.4l2.6,4.5h-5.2zM574.5,561.0l2.6,4.5h-5.2zM575.0,560.8l2.6,4.5h-5.2zM575.4,561.2l2.6,4.5h-5.2zM575.9,561.3l2.6,4.5h-5.2zM576.3,560.6l2.6,4.5h-5.2zM576.8,561.2l2.6,4.5h-5.2zM577.2,561.4l2.6,4.5h-5.2zM577.7,560.9l2.6,4.5h-5.2zM578.2,561.3l2.6,4.5h-5.2zM578.6,560.9l2.6,4.5h-5.2zM579.1,560.3l2.6,4.5h-5.2zM579.5,561.0l2.6,4.5h-5.2zM580.0,560.8l2.6,4.5h-5.2zM580.4,560.7l2.6,4.5h-5.2zM580.9,560.8l2.6,4.5h-5.2zM581.3,560.9l2.6,4.5h-5.2zM581.8,560.5l2.6,4.5h-5.2zM582.2,560.9l2.6,4.5h-5.2zM582.7,560.8l2.6,4.5h-5.2zM583.1,560.9l2.6,4.5h-5.2zM583.6,561.3l2.6,4.5h-5.2zM584.0,560.8l2.6,4.5h-5.2zM584.5,560.9l2.6,4.5h-5.2zM585.0,560.7l2.6,4.5h-5.2zM585.4,560.7l2.6,4.5h-5.2zM585.9,560.5l2.6,4.5h-5.2zM586.3,561.5l2.6,4.5h-5.2zM586.8,561.1l2.6,4.5h-5.2zM587.2,561.1l2.6,4.5h-5.2zM587.7,561.2l2.6,4.5h-5.2zM588.1,560.8l2.6,4.5h-5.2zM588.6,561.0l2.6,4.5h-5.2zM589.0,560.9l2.6,4.5h-5.2zM589.5,561.4l2.6,4.5h-5.2zM589.9,561.2l2.6,4.5h-5.2zM590.4,561.0l2.6,4.5h-5.2zM590.8,561.1l2.6,4.5h-5.2zM591.3,561.1l2.6,4.5h-5.2zM591.8,561.0l2.6,4.5h-5.2zM592.2,561.1l2.6,4.5h-5.2zM592.7,561.3l2.6,4.5h-5.2zM593.1,560.5l2.6,4.5h-5.2zM593.6,561.2l2.6,4.5h-5.2zM594.0,560.8l2.6,4.5h-5.2zM594.5,560.8l2.6,4.5h-5.2zM594.9,560.7l2.6,4.5h-5.2zM595.4,561.2l2.6,4.5h-5.2zM595.8,561.3l2.6,4.5h-5.2zM596.3,560.9l2.6,4.5h-5.2zM596.7,560.9l2.6,4.5h-5.2zM597.2,561.7l2.6,4.5h-5.2zM597.7,561.7l2.6,4.5h-5.2zM598.1,561.2l2.6,4.5h-5.2zM598.6,561.1l2.6,4.5h-5.2zM599.0,561.1l2.6,4.5h-5.2zM599.5,560.9l2.6,4.5h-5.2zM599.9,561.3l2.6,4.5h-5.2zM600.4,560.3l2.6,4.5h-5.2zM600.8,560.8l2.6,4.5h-5.2zM601.3,560.7l2.6,4.5h-5.2zM601.7,561.0l2.6,4.5h-5.2zM602.2,561.6l2.6,4.5h-5.2zM602.6,561.0l2.6,4.5h-5.2zM603.1,561.2l2.6,4.5h-5.2zM603.5,560.9l2.6,4.5h-5.2zM604.0,561.1l2.6,4.5h-5.2zM604.5,560.9l2.6,4.5h-5.2zM604.9,561.3l2.6,4.5h-5.2zM605.4,561.1l2.6,4.5h-5.2zM605.8,561.0l2.6,4.5h-5.2zM606.3,561.3l2.6,4.5h-5.2zM606.7,561.2l2.6,4.5h-5.2zM607.2,560.9l2.6,4.5h-5.2zM607.6,560.5l2.6,4.5h-5.2zM608.1,561.1l2.6,4.5h-5.2zM608.5,560.8l2.6,4.5h-5.2zM609.0,561.4l2.6,4.5h-5.2zM609.4,561.2l2.6,4.5h-5.2zM609.9,561.0l2.6,4.5h-5.2zM610.3,560.9l2.6,4.5h-5.2zM610.8,561.3l2.6,4.5h-5.2zM611.3,560.9l2.6,4.5h-5.2zM611.7,561.0l2.6,4.5h-5.2zM612.2,560.7l2.6,4.5h-5.2zM612.6,560.8l2.6,4.5h-5.2zM613.1,560.9l2.6,4.5h-5.2zM613.5,561.2l2.6,4.5h-5.2zM614.0,561.0l2.6,4.5h-5.2zM614.4,561.3l2.6,4.5h-5.2zM614.9,561.3l2.6,4.5h-5.2zM615.3,561.6l2.6,4.5h-5.2zM615.8,561.4l2.6,4.5h-5.2zM616.2,561.4l2.6,4.5h-5.2zM616.7,561.1l2.6,4.5h-5.2zM617.2,561.0l2.6,4.5h-5.2zM617.6,561.4l2.6,4.5h-5.2zM618.1,561.1l2.6,4.5h-5.2zM618.5,561.0l2.6,4.5h-5.2zM619.0,560.8l2.6,4.5h-5.2zM619.4,561.1l2.6,4.5h-5.2zM619.9,561.0l2.6,4.5h-5.2zM620.3,561.2l2.6,4.5h-5.2zM620.8,560.8l2.6,4.5h-5.2zM621.2,561.5l2.6,4.5h-5.2zM621.7,561.0l2.6,4.5h-5.2zM622.1,561.7l2.6,4.5h-5.2zM622.6,560.6l2.6,4.5h-5.2zM623.0,560.8l2.6,4.5h-5.2zM623.5,561.7l2.6,4.5h-5.2zM624.0,561.2l2.6,4.5h-5.2zM624.4,561.5l2.6,4.5h-5.2zM624.9,561.6l2.6,4.5h-5.2zM625.3,561.2l2.6,4.5h-5.2zM625.8,561.3l2.6,4.5h-5.2zM626.2,560.8l2.6,4.5h-5.2zM626.7,561.2l2.6,4.5h-5.2zM627.1,561.4l2.6,4.5h-5.2zM627.6,561.1l2.6,4.5h-5.2zM628.0,561.0l2.6,4.5h-5.2zM628.5,560.9l2.6,4.5h-5.2zM628.9,561.0l2.6,4.5h-5.2zM629.4,561.5l2.6,4.5h-5.2zM629.8,561.3l2.6,4.5h-5.2zM630.3,561.1l2.6,4.5h-5.2zM630.8,561.3l2.6,4.5h-5.2zM631.2,560.9l2.6,4.5h-5.2zM631.7,561.2l2.6,4.5h-5.2zM632.1,561.1l2.6,4.5h-5.2zM632.6,561.2l2.6,4.5h-5.2zM633.0,561.1l2.6,4.5h-5.2zM633.5,561.5l2.6,4.5h-5.2zM633.9,560.5l2.6,4.5h-5.2zM634.4,561.2l2.6,4.5h-5.2zM634.8,561.3l2.6,4.5h-5.2zM635.3,561.6l2.6,4.5h-5.2zM635.7,561.1l2.6,4.5h-5.2zM636.2,561.5l2.6,4.5h-5.2zM636.7,561.0l2.6,4.5h-5.2zM637.1,560.8l2.6,4.5h-5.2zM637.6,560.9l2.6,4.5h-5.2zM638.0,561.2l2.6,4.5h-5.2zM638.5,560.8l2.6,4.5h-5.2zM638.9,561.1l2.6,4.5h-5.2zM639.4,561.1l2.6,4.5h-5.2zM639.8,561.1l2.6,4.5h-5.2zM640.3,561.2l2.6,4.5h-5.2zM640.7,561.0l2.6,4.5h-5.2zM641.2,561.4l2.6,4.5h-5.2zM641.6,561.6l2.6,4.5h-5.2zM642.1,560.8l2.6,4.5h-5.2zM642.5,561.3l2.6,4.5h-5.2zM643.0,561.2l2.6,4.5h-5.2zM643.5,561.0l2.6,4.5h-5.2zM643.9,561.2l2.6,4.5h-5.2zM644.4,561.4l2.6,4.5h-5.2zM644.8,561.2l2.6,4.5h-5.2zM645.3,561.4l2.6,4.5h-5.2zM645.7,561.0l2.6,4.5h-5.2zM646.2,561.2l2.6,4.5h-5.2zM646.6,561.2l2.6,4.5h-5.2zM647.1,560.9l2.6,4.5h-5.2zM647.5,561.5l2.6,4.5h-5.2zM648.0,561.5l2.6,4.5h-5.2zM648.4,560.9l2.6,4.5h-5.2zM648.9,560.8l2.6,4.5h-5.2zM649.4,561.1l2.6,4.5h-5.2zM649.8,561.3l2.6,4.5h-5.2zM650.3,560.8l2.6,4.5h-5.2zM650.7,561.0l2.6,4.5h-5.2zM651.2,560.8l2.6,4.5h-5.2zM651.6,561.6l2.6,4.5h-5.2zM652.1,561.1l2.6,4.5h-5.2zM652.5,561.4l2.6,4.5h-5.2zM653.0,561.4l2.6,4.5h-5.2zM653.4,560.9l2.6,4.5h-5.2zM653.9,560.9l2.6,4.5h-5.2zM654.3,561.2l2.6,4.5h-5.2zM654.8,561.2l2.6,4.5h-5.2zM655.2,560.7l2.6,4.5h-5.2zM655.7,560.9l2.6,4.5h-5.2zM656.2,561.1l2.6,4.5h-5.2zM656.6,561.0l2.6,4.5h-5.2zM657.1,561.1l2.6,4.5h-5.2zM657.5,561.4l2.6,4.5h-5.2zM658.0,561.2l2.6,4.5h-5.2zM658.4,561.0l2.6,4.5h-5.2zM658.9,560.9l2.6,4.5h-5.2zM659.3,561.4l2.6,4.5h-5.2zM659.8,561.3l2.6,4.5h-5.2zM660.2,561.3l2.6,4.5h-5.2zM660.7,561.5l2.6,4.5h-5.2zM661.1,560.8l2.6,4.5h-5.2zM661.6,561.0l2.6,4.5h-5.2zM662.0,560.8l2.6,4.5h-5.2zM662.5,561.7l2.6,4.5h-5.2zM663.0,561.3l2.6,4.5h-5.2zM663.4,560.6l2.6,4.5h-5.2zM663.9,561.5l2.6,4.5h-5.2zM664.3,561.6l2.6,4.5h-5.2zM664.8,561.0l2.6,4.5h-5.2zM665.2,560.7l2.6,4.5h-5.2zM665.7,560.9l2.6,4.5h-5.2zM666.1,561.4l2.6,4.5h-5.2zM666.6,561.0l2.6,4.5h-5.2zM667.0,561.0l2.6,4.5h-5.2zM667.5,561.0l2.6,4.5h-5.2zM667.9,561.0l2.6,4.5h-5.2zM668.4,560.9l2.6,4.5h-5.2zM668.9,560.8l2.6,4.5h-5.2zM669.3,560.7l2.6,4.5h-5.2zM669.8,560.8l2.6,4.5h-5.2zM670.2,561.1l2.6,4.5h-5.2zM670.7,561.6l2.6,4.5h-5.2zM671.1,561.0l2.6,4.5h-5.2zM671.6,561.5l2.6,4.5h-5.2zM672.0,560.5l2.6,4.5h-5.2zM672.5,561.4l2.6,4.5h-5.2zM672.9,561.6l2.6,4.5h-5.2zM673.4,561.6l2.6,4.5h-5.2zM673.8,561.0l2.6,4.5h-5.2zM674.3,561.0l2.6,4.5h-5.2zM674.7,560.9l2.6,4.5h-5.2zM675.2,561.0l2.6,4.5h-5.2zM675.7,561.3l2.6,4.5h-5.2zM676.1,560.9l2.6,4.5h-5.2zM676.6,561.3l2.6,4.5h-5.2zM677.0,561.5l2.6,4.5h-5.2zM677.5,560.9l2.6,4.5h-5.2zM677.9,561.0l2.6,4.5h-5.2zM678.4,561.4l2.6,4.5h-5.2zM678.8,561.2l2.6,4.5h-5.2z" fill="#ee3a3a"/>
<path d="M510.6,443.3 L511.5,457.3 L512.4,469.6 L513.3,480.4 L514.2,489.9 L515.1,498.3 L516.0,505.7 L516.9,512.2 L517.8,517.9 L518.7,523.0 L519.6,527.5 L520.6,531.4 L521.5,534.9 L522.4,538.0 L523.3,540.7 L524.2,543.2 L525.1,545.3 L526.0,547.2 L526.9,548.9 L527.8,550.4 L528.7,551.7 L529.6,552.9 L530.5,554.0 L531.4,554.9 L532.3,555.8 L533.3,556.5 L534.2,557.2 L535.1,557.8 L536.0,558.3 L536.9,558.8 L537.8,559.3 L538.7,559.6 L539.6,560.0 L540.5,560.3 L541.4,560.6 L542.3,560.9 L543.2,561.1 L544.1,561.3 L545.0,561.5 L546.0,561.7 L546.9,561.9 L547.8,562.0 L548.7,562.2 L549.6,562.3 L550.5,562.4 L551.4,562.5 L552.3,562.6 L553.2,562.7 L554.1,562.8 L555.0,562.8 L555.9,562.9 L556.8,563.0 L557.7,563.0 L558.7,563.1 L559.6,563.2 L560.5,563.2 L561.4,563.3 L562.3,563.3 L563.2,563.3 L564.1,563.4 L565.0,563.4 L565.9,563.4 L566.8,563.5 L567.7,563.5 L568.6,563.5 L569.5,563.6 L570.4,563.6 L571.3,563.6 L572.3,563.6 L573.2,563.6 L574.1,563.7 L575.0,563.7 L575.9,563.7 L576.8,563.7 L577.7,563.7 L578.6,563.7 L579.5,563.8 L580.4,563.8 L581.3,563.8 L582.2,563.8 L583.1,563.8 L584.0,563.8 L585.0,563.8 L585.9,563.8 L586.8,563.8 L587.7,563.9 L588.6,563.9 L589.5,563.9 L590.4,563.9 L591.3,563.9 L592.2,563.9 L593.1,563.9 L594.0,563.9 L594.9,563.9 L595.8,563.9 L596.7,563.9 L597.7,563.9 L598.6,563.9 L599.5,563.9 L600.4,563.9 L601.3,563.9 L602.2,563.9 L603.1,563.9 L604.0,563.9 L604.9,563.9 L605.8,563.9 L606.7,564.0 L607.6,564.0 L608.5,564.0 L609.4,564.0 L610.3,564.0 L611.3,564.0 L612.2,564.0 L613.1,564.0 L614.0,564.0 L614.9,564.0 L615.8,564.0 L616.7,564.0 L617.6,564.0 L618.5,564.0 L619.4,564.0 L620.3,564.0 L621.2,564.0 L622.1,564.0 L623.0,564.0 L624.0,564.0 L624.9,564.0 L625.8,564.0 L626.7,564.0 L627.6,564.0 L628.5,564.0 L629.4,564.0 L630.3,564.0 L631.2,564.0 L632.1,564.0 L633.0,564.0 L633.9,564.0 L634.8,564.0 L635.7,564.0 L636.7,564.0 L637.6,564.0 L638.5,564.0 L639.4,564.0 L640.3,564.0 L641.2,564.0 L642.1,564.0 L643.0,564.0 L643.9,564.0 L644.8,564.0 L645.7,564.0 L646.6,564.0 L647.5,564.0 L648.4,564.0 L649.4,564.0 L650.3,564.0 L651.2,564.0 L652.1,564.0 L653.0,564.0 L653.9,564.0 L654.8,564.0 L655.7,564.0 L656.6,564.0 L657.5,564.0 L658.4,564.0 L659.3,564.0 L660.2,564.0 L661.1,564.0 L662.0,564.0 L663.0,564.0 L663.9,564.0 L664.8,564.0 L665.7,564.0 L666.6,564.0 L667.5,564.0 L668.4,564.0 L669.3,564.0 L670.2,564.0 L671.1,564.0 L672.0,564.0 L672.9,564.0 L673.8,564.0 L674.7,564.0 L675.7,564.0 L676.6,564.0 L677.5,564.0 L678.4,564.0" fill="none" stroke="#909090" stroke-width="1" stroke-dasharray="1.5 2.3"/>
</g>
<rect x="497.7" y="421.3" width="181.5" height="145.3" fill="none" stroke="#111" stroke-width="1.1" />
<line x1="497.7" y1="566.6" x2="497.7" y2="570" stroke="#111" stroke-width="0.9" />
<line x1="533.98" y1="566.6" x2="533.98" y2="570" stroke="#111" stroke-width="0.9" />
<line x1="570.26" y1="566.6" x2="570.26" y2="570" stroke="#111" stroke-width="0.9" />
<line x1="606.54" y1="566.6" x2="606.54" y2="570" stroke="#111" stroke-width="0.9" />
<line x1="642.82" y1="566.6" x2="642.82" y2="570" stroke="#111" stroke-width="0.9" />
<line x1="679.1" y1="566.6" x2="679.1" y2="570" stroke="#111" stroke-width="0.9" />
<line x1="515.84" y1="566.6" x2="515.84" y2="568.5" stroke="#111" stroke-width="0.9" />
<line x1="552.12" y1="566.6" x2="552.12" y2="568.5" stroke="#111" stroke-width="0.9" />
<line x1="588.4" y1="566.6" x2="588.4" y2="568.5" stroke="#111" stroke-width="0.9" />
<line x1="624.68" y1="566.6" x2="624.68" y2="568.5" stroke="#111" stroke-width="0.9" />
<line x1="660.96" y1="566.6" x2="660.96" y2="568.5" stroke="#111" stroke-width="0.9" />
<text x="497.7" y="580.4" font-size="11.4" fill="#111" text-anchor="middle" font-weight="normal" font-style="normal" >0</text>
<text x="533.98" y="580.4" font-size="11.4" fill="#111" text-anchor="middle" font-weight="normal" font-style="normal" >2</text>
<text x="570.26" y="580.4" font-size="11.4" fill="#111" text-anchor="middle" font-weight="normal" font-style="normal" >4</text>
<text x="606.54" y="580.4" font-size="11.4" fill="#111" text-anchor="middle" font-weight="normal" font-style="normal" >6</text>
<text x="642.82" y="580.4" font-size="11.4" fill="#111" text-anchor="middle" font-weight="normal" font-style="normal" >8</text>
<text x="679.1" y="580.4" font-size="11.4" fill="#111" text-anchor="middle" font-weight="normal" font-style="normal" >10</text>
<line x1="494.3" y1="564" x2="497.7" y2="564" stroke="#111" stroke-width="0.9" />
<line x1="494.3" y1="536.7" x2="497.7" y2="536.7" stroke="#111" stroke-width="0.9" />
<line x1="494.3" y1="509.4" x2="497.7" y2="509.4" stroke="#111" stroke-width="0.9" />
<line x1="494.3" y1="482.1" x2="497.7" y2="482.1" stroke="#111" stroke-width="0.9" />
<line x1="494.3" y1="454.8" x2="497.7" y2="454.8" stroke="#111" stroke-width="0.9" />
<line x1="494.3" y1="427.5" x2="497.7" y2="427.5" stroke="#111" stroke-width="0.9" />
<line x1="495.8" y1="550.35" x2="497.7" y2="550.35" stroke="#111" stroke-width="0.9" />
<line x1="495.8" y1="523.05" x2="497.7" y2="523.05" stroke="#111" stroke-width="0.9" />
<line x1="495.8" y1="495.75" x2="497.7" y2="495.75" stroke="#111" stroke-width="0.9" />
<line x1="495.8" y1="468.45" x2="497.7" y2="468.45" stroke="#111" stroke-width="0.9" />
<line x1="495.8" y1="441.15" x2="497.7" y2="441.15" stroke="#111" stroke-width="0.9" />
<text x="493.1" y="568.1" font-size="11.4" fill="#111" text-anchor="end" font-weight="normal" font-style="normal" >0.0</text>
<text x="493.1" y="540.8" font-size="11.4" fill="#111" text-anchor="end" font-weight="normal" font-style="normal" >0.2</text>
<text x="493.1" y="513.5" font-size="11.4" fill="#111" text-anchor="end" font-weight="normal" font-style="normal" >0.4</text>
<text x="493.1" y="486.2" font-size="11.4" fill="#111" text-anchor="end" font-weight="normal" font-style="normal" >0.6</text>
<text x="493.1" y="458.9" font-size="11.4" fill="#111" text-anchor="end" font-weight="normal" font-style="normal" >0.8</text>
<text x="493.1" y="431.6" font-size="11.4" fill="#111" text-anchor="end" font-weight="normal" font-style="normal" >1.0</text>
<text x="588.5" y="597" font-size="11.6" fill="#111" text-anchor="middle" font-weight="normal" font-style="normal" >Time (ns)</text>
<text transform="translate(469.3,490.6) rotate(-90)" font-size="11.6" fill="#111" text-anchor="middle">PL intensity (Norm.)</text>
<rect x="530.3" y="430.5" width="3.5" height="3.5" fill="#2a6fe0" stroke="none" stroke-width="0.5" />
<path d="M532,447.6l2.6,4.6h-5.2z" fill="#ee3a3a"/>
<text x="545.5" y="436.3" font-size="11.6" fill="#111">3D (<tspan font-style="italic">τ</tspan><tspan font-size="7.8" dy="2">avg</tspan><tspan dy="-2"> = 1.60 ns)</tspan></text>
<text x="545.5" y="454.3" font-size="11.6" fill="#111">2D/3D (<tspan font-style="italic">τ</tspan><tspan font-size="7.8" dy="2">avg</tspan><tspan dy="-2"> = 0.44 ns)</tspan></text>
<rect x="636.7" y="479.6" width="17.5" height="63.1" fill="#f4a97a" stroke="#e8b090" stroke-width="0.5" />
<rect x="659.4" y="456.9" width="16.2" height="67.9" fill="#dec692" stroke="#b8a070" stroke-width="0.6" />
<text transform="translate(649.2,511.2) rotate(-90)" font-size="10.3" fill="#111" text-anchor="middle">3D</text>
<text transform="translate(671.4,490.8) rotate(-90)" font-size="10.3" fill="#111" text-anchor="middle">2D</text>
<circle cx="644.7" cy="549.7" r="3.5" fill="#f6c8c8" stroke="#d88" stroke-width="0.5"/>
<circle cx="644.7" cy="549.7" r="1" fill="#333" />
<line x1="644.7" y1="544.5" x2="644.7" y2="555" stroke="#666" stroke-width="0.6" />
<path d="M650.5,549.6 C658,549.5 663.5,540 667.0,529.0" fill="none" stroke="#222" stroke-width="0.9"/>
<polygon points="668.2,525.6 669,530.6 665.2,529.2" fill="#222" stroke="none" stroke-width="0.5" stroke-linejoin="round" />
</svg>
</body></html>
